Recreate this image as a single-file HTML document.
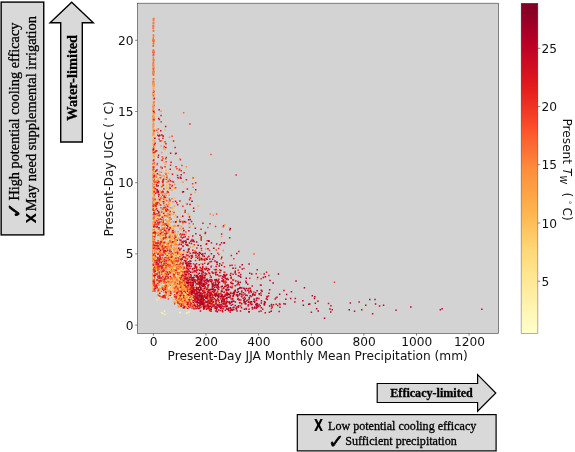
<!DOCTYPE html>
<html><head><meta charset="utf-8"><title>UGC vs precipitation</title>
<style>
html,body{margin:0;padding:0;background:#fff;}
svg{display:block}
.tk,.lb{font-family:"DejaVu Sans","Liberation Sans",sans-serif;font-size:12.2px;fill:#111}
.sr{font-family:"Liberation Serif",serif;font-size:12px;fill:#000;stroke:#000;stroke-width:0.3}
.sb{font-family:"Liberation Serif",serif;font-size:12px;font-weight:bold;fill:#000;stroke:#000;stroke-width:0.3}
.ck{font-family:"DejaVu Sans","Liberation Sans",sans-serif;font-size:19px;fill:#000;stroke:#000;stroke-width:0.7}
.xx{font-family:"DejaVu Sans","Liberation Sans",sans-serif;font-weight:bold;font-size:16px;fill:#000}
.bx{fill:#d9d9d9;stroke:#000}
</style></head><body>
<svg width="575" height="452" viewBox="0 0 575 452">
<defs><linearGradient id="cb" x1="0" y1="0" x2="0" y2="1"><stop offset="0.0000" stop-color="#800026"/><stop offset="0.0312" stop-color="#8d0026"/><stop offset="0.0625" stop-color="#9d0026"/><stop offset="0.0938" stop-color="#ac0026"/><stop offset="0.1250" stop-color="#bb0026"/><stop offset="0.1562" stop-color="#c50624"/><stop offset="0.1875" stop-color="#cf0c21"/><stop offset="0.2188" stop-color="#d9131f"/><stop offset="0.2500" stop-color="#e31a1c"/><stop offset="0.2812" stop-color="#e9261f"/><stop offset="0.3125" stop-color="#ef3323"/><stop offset="0.3438" stop-color="#f54026"/><stop offset="0.3750" stop-color="#fc4d2a"/><stop offset="0.4062" stop-color="#fc5f2f"/><stop offset="0.4375" stop-color="#fc6c33"/><stop offset="0.4688" stop-color="#fd7c37"/><stop offset="0.5000" stop-color="#fd8c3c"/><stop offset="0.5312" stop-color="#fd9640"/><stop offset="0.5625" stop-color="#fd9f44"/><stop offset="0.5938" stop-color="#fea948"/><stop offset="0.6250" stop-color="#feb24c"/><stop offset="0.6562" stop-color="#febb56"/><stop offset="0.6875" stop-color="#fec561"/><stop offset="0.7188" stop-color="#fecf6b"/><stop offset="0.7500" stop-color="#fed977"/><stop offset="0.7812" stop-color="#fede80"/><stop offset="0.8125" stop-color="#ffe48c"/><stop offset="0.8438" stop-color="#ffe895"/><stop offset="0.8750" stop-color="#ffeda1"/><stop offset="0.9062" stop-color="#fff1ab"/><stop offset="0.9375" stop-color="#fff7b7"/><stop offset="0.9688" stop-color="#fffac1"/><stop offset="1.0000" stop-color="#ffffcc"/></linearGradient></defs>
<rect x="0" y="0" width="575" height="452" fill="#ffffff"/>
<!-- axes -->
<rect x="137.5" y="3.2" width="361.0" height="330.1" fill="#d3d3d3"/>
<g>
<path fill="#db141e" d="M199.3 306.9h1.5v1.5h-1.5zM166.9 224.4h1.5v1.5h-1.5zM184.3 266.9h1.5v1.5h-1.5zM186.0 264.4h1.5v1.5h-1.5zM153.4 205.6h1.5v1.5h-1.5zM162.2 181.8h1.5v1.5h-1.5zM220.0 275.1h1.5v1.5h-1.5zM205.0 283.7h1.5v1.5h-1.5zM174.0 261.8h1.5v1.5h-1.5zM200.7 269.8h1.5v1.5h-1.5zM203.3 259.1h1.5v1.5h-1.5zM169.6 180.1h1.5v1.5h-1.5zM217.8 300.2h1.5v1.5h-1.5zM220.9 233.3h1.5v1.5h-1.5zM182.2 274.9h1.5v1.5h-1.5zM218.3 295.0h1.5v1.5h-1.5zM240.0 273.8h1.5v1.5h-1.5zM186.3 271.5h1.5v1.5h-1.5zM236.3 283.9h1.5v1.5h-1.5zM212.7 300.9h1.5v1.5h-1.5zM211.9 294.1h1.5v1.5h-1.5zM225.1 285.4h1.5v1.5h-1.5zM206.9 292.7h1.5v1.5h-1.5zM153.4 226.4h1.5v1.5h-1.5zM190.4 302.0h1.5v1.5h-1.5zM180.3 270.5h1.5v1.5h-1.5zM201.9 299.6h1.5v1.5h-1.5zM189.0 288.5h1.5v1.5h-1.5zM199.0 302.2h1.5v1.5h-1.5zM195.3 284.8h1.5v1.5h-1.5zM223.0 287.4h1.5v1.5h-1.5zM215.0 292.7h1.5v1.5h-1.5zM199.0 301.4h1.5v1.5h-1.5zM189.4 252.5h1.5v1.5h-1.5zM187.8 306.3h1.5v1.5h-1.5zM226.1 291.9h1.5v1.5h-1.5zM224.3 279.9h1.5v1.5h-1.5zM218.7 305.8h1.5v1.5h-1.5zM200.7 247.7h1.5v1.5h-1.5zM210.6 293.1h1.5v1.5h-1.5zM195.4 252.3h1.5v1.5h-1.5zM219.6 309.8h1.5v1.5h-1.5zM271.0 305.2h1.5v1.5h-1.5zM210.3 304.0h1.5v1.5h-1.5zM199.0 295.8h1.5v1.5h-1.5zM206.0 282.4h1.5v1.5h-1.5zM163.6 195.3h1.5v1.5h-1.5zM225.3 278.0h1.5v1.5h-1.5zM193.5 295.9h1.5v1.5h-1.5zM191.1 290.4h1.5v1.5h-1.5zM159.4 140.3h1.5v1.5h-1.5zM152.8 221.7h1.5v1.5h-1.5zM248.1 298.9h1.5v1.5h-1.5zM184.1 220.9h1.5v1.5h-1.5zM267.8 295.3h1.5v1.5h-1.5zM152.6 197.0h1.5v1.5h-1.5zM184.1 281.6h1.5v1.5h-1.5zM191.7 287.6h1.5v1.5h-1.5zM213.3 294.5h1.5v1.5h-1.5zM222.4 279.6h1.5v1.5h-1.5zM258.0 305.8h1.5v1.5h-1.5zM193.9 270.2h1.5v1.5h-1.5zM255.7 297.7h1.5v1.5h-1.5zM224.5 275.9h1.5v1.5h-1.5zM152.8 126.7h1.5v1.5h-1.5zM189.3 262.8h1.5v1.5h-1.5zM211.2 301.8h1.5v1.5h-1.5zM227.2 284.3h1.5v1.5h-1.5zM222.0 311.1h1.5v1.5h-1.5z"/>
<path fill="#fd9941" d="M153.1 176.8h1.5v1.5h-1.5zM163.1 172.5h1.5v1.5h-1.5zM191.7 301.5h1.5v1.5h-1.5zM152.8 127.2h1.5v1.5h-1.5zM159.7 235.9h1.5v1.5h-1.5zM208.2 302.1h1.5v1.5h-1.5zM152.6 81.6h1.5v1.5h-1.5zM182.6 231.0h1.5v1.5h-1.5zM152.6 139.8h1.5v1.5h-1.5zM152.8 118.7h1.5v1.5h-1.5zM188.7 215.6h1.5v1.5h-1.5zM152.5 119.8h1.5v1.5h-1.5zM182.4 181.5h1.5v1.5h-1.5zM153.1 181.4h1.5v1.5h-1.5zM214.3 260.9h1.5v1.5h-1.5zM185.1 285.6h1.5v1.5h-1.5zM152.9 251.6h1.5v1.5h-1.5zM152.6 287.7h1.5v1.5h-1.5zM153.6 276.0h1.5v1.5h-1.5zM159.5 199.3h1.5v1.5h-1.5zM153.5 267.3h1.5v1.5h-1.5zM152.7 170.7h1.5v1.5h-1.5zM161.3 281.0h1.5v1.5h-1.5zM159.0 229.9h1.5v1.5h-1.5zM163.5 229.7h1.5v1.5h-1.5zM152.5 109.5h1.5v1.5h-1.5zM184.9 269.3h1.5v1.5h-1.5zM205.0 248.3h1.5v1.5h-1.5zM181.4 264.9h1.5v1.5h-1.5zM171.1 231.9h1.5v1.5h-1.5zM168.6 186.3h1.5v1.5h-1.5zM153.3 169.5h1.5v1.5h-1.5zM161.5 245.7h1.5v1.5h-1.5zM164.0 249.1h1.5v1.5h-1.5z"/>
<path fill="#ca0923" d="M175.6 287.6h1.5v1.5h-1.5zM239.5 281.6h1.5v1.5h-1.5zM255.9 302.7h1.5v1.5h-1.5zM209.6 302.0h1.5v1.5h-1.5zM223.1 302.9h1.5v1.5h-1.5zM193.4 298.1h1.5v1.5h-1.5zM206.9 270.1h1.5v1.5h-1.5zM206.7 305.5h1.5v1.5h-1.5zM202.6 277.3h1.5v1.5h-1.5zM184.0 278.8h1.5v1.5h-1.5zM192.3 177.2h1.5v1.5h-1.5zM194.8 304.4h1.5v1.5h-1.5zM210.8 301.6h1.5v1.5h-1.5zM193.3 292.4h1.5v1.5h-1.5zM260.6 289.6h1.5v1.5h-1.5zM248.3 263.2h1.5v1.5h-1.5zM178.7 303.7h1.5v1.5h-1.5zM209.2 305.6h1.5v1.5h-1.5zM374.3 298.8h1.5v1.5h-1.5zM152.8 252.1h1.5v1.5h-1.5zM212.7 282.3h1.5v1.5h-1.5zM198.6 302.2h1.5v1.5h-1.5zM203.3 279.5h1.5v1.5h-1.5zM152.7 115.9h1.5v1.5h-1.5zM240.9 302.9h1.5v1.5h-1.5zM189.3 203.8h1.5v1.5h-1.5zM225.8 290.1h1.5v1.5h-1.5zM213.6 297.9h1.5v1.5h-1.5zM361.0 308.9h1.5v1.5h-1.5zM209.9 302.4h1.5v1.5h-1.5zM255.7 305.1h1.5v1.5h-1.5zM268.2 292.5h1.5v1.5h-1.5zM187.8 268.8h1.5v1.5h-1.5zM222.4 307.9h1.5v1.5h-1.5zM204.1 259.6h1.5v1.5h-1.5zM210.1 276.5h1.5v1.5h-1.5zM179.4 281.2h1.5v1.5h-1.5zM222.7 279.0h1.5v1.5h-1.5zM193.4 286.7h1.5v1.5h-1.5zM266.5 295.9h1.5v1.5h-1.5zM240.6 287.2h1.5v1.5h-1.5zM152.8 250.9h1.5v1.5h-1.5zM183.0 304.8h1.5v1.5h-1.5zM182.6 287.9h1.5v1.5h-1.5zM247.5 287.9h1.5v1.5h-1.5zM224.8 280.7h1.5v1.5h-1.5zM220.9 295.0h1.5v1.5h-1.5zM185.9 268.7h1.5v1.5h-1.5zM183.5 304.3h1.5v1.5h-1.5zM216.4 291.9h1.5v1.5h-1.5zM250.6 291.2h1.5v1.5h-1.5zM153.0 251.0h1.5v1.5h-1.5zM207.8 262.5h1.5v1.5h-1.5zM234.5 285.1h1.5v1.5h-1.5zM229.6 306.9h1.5v1.5h-1.5zM160.6 271.3h1.5v1.5h-1.5zM214.2 306.3h1.5v1.5h-1.5zM229.4 311.2h1.5v1.5h-1.5zM194.5 281.0h1.5v1.5h-1.5zM203.9 295.5h1.5v1.5h-1.5zM186.1 305.8h1.5v1.5h-1.5zM199.7 298.1h1.5v1.5h-1.5zM251.2 303.4h1.5v1.5h-1.5zM202.7 305.5h1.5v1.5h-1.5zM186.0 244.2h1.5v1.5h-1.5zM179.9 300.6h1.5v1.5h-1.5zM199.1 278.7h1.5v1.5h-1.5zM168.9 199.2h1.5v1.5h-1.5zM201.5 275.2h1.5v1.5h-1.5zM196.4 287.9h1.5v1.5h-1.5zM192.0 296.4h1.5v1.5h-1.5zM358.4 301.2h1.5v1.5h-1.5zM178.3 297.0h1.5v1.5h-1.5zM178.7 290.7h1.5v1.5h-1.5z"/>
<path fill="#fd8f3d" d="M152.6 120.6h1.5v1.5h-1.5zM187.9 261.1h1.5v1.5h-1.5zM152.6 118.9h1.5v1.5h-1.5zM190.1 197.2h1.5v1.5h-1.5zM152.7 121.2h1.5v1.5h-1.5zM156.8 269.2h1.5v1.5h-1.5zM153.0 221.4h1.5v1.5h-1.5zM152.6 243.0h1.5v1.5h-1.5zM199.1 301.8h1.5v1.5h-1.5zM153.0 266.0h1.5v1.5h-1.5zM153.6 203.4h1.5v1.5h-1.5zM152.8 274.0h1.5v1.5h-1.5zM181.2 268.5h1.5v1.5h-1.5zM153.6 190.1h1.5v1.5h-1.5zM217.3 269.8h1.5v1.5h-1.5zM153.3 222.7h1.5v1.5h-1.5zM153.6 100.7h1.5v1.5h-1.5zM163.3 286.3h1.5v1.5h-1.5zM152.8 93.8h1.5v1.5h-1.5zM152.7 249.2h1.5v1.5h-1.5zM179.1 227.7h1.5v1.5h-1.5zM212.4 292.1h1.5v1.5h-1.5zM173.7 286.5h1.5v1.5h-1.5zM152.6 40.0h1.5v1.5h-1.5zM183.8 289.6h1.5v1.5h-1.5zM200.5 284.2h1.5v1.5h-1.5zM170.5 292.6h1.5v1.5h-1.5zM152.9 53.2h1.5v1.5h-1.5zM174.1 259.8h1.5v1.5h-1.5zM169.8 271.1h1.5v1.5h-1.5zM152.6 58.1h1.5v1.5h-1.5zM175.0 268.7h1.5v1.5h-1.5z"/>
<path fill="#e1191d" d="M238.1 250.8h1.5v1.5h-1.5zM153.0 213.7h1.5v1.5h-1.5zM232.2 295.4h1.5v1.5h-1.5zM167.0 281.2h1.5v1.5h-1.5zM184.3 211.4h1.5v1.5h-1.5zM153.1 249.2h1.5v1.5h-1.5zM180.5 170.1h1.5v1.5h-1.5zM152.9 244.8h1.5v1.5h-1.5zM172.0 269.5h1.5v1.5h-1.5zM176.6 259.5h1.5v1.5h-1.5zM222.8 225.1h1.5v1.5h-1.5zM183.2 274.7h1.5v1.5h-1.5zM186.6 188.3h1.5v1.5h-1.5zM275.2 297.2h1.5v1.5h-1.5zM176.6 269.9h1.5v1.5h-1.5zM248.6 297.8h1.5v1.5h-1.5zM152.6 159.9h1.5v1.5h-1.5zM270.8 307.7h1.5v1.5h-1.5zM222.6 280.8h1.5v1.5h-1.5zM208.1 240.0h1.5v1.5h-1.5zM184.5 236.1h1.5v1.5h-1.5zM223.2 242.2h1.5v1.5h-1.5zM153.6 140.2h1.5v1.5h-1.5zM153.0 263.7h1.5v1.5h-1.5zM194.0 296.2h1.5v1.5h-1.5zM181.1 234.2h1.5v1.5h-1.5zM245.6 308.4h1.5v1.5h-1.5zM182.2 263.6h1.5v1.5h-1.5zM190.5 278.9h1.5v1.5h-1.5zM169.0 239.9h1.5v1.5h-1.5zM201.9 295.0h1.5v1.5h-1.5zM271.5 306.2h1.5v1.5h-1.5zM198.4 286.6h1.5v1.5h-1.5zM215.6 286.4h1.5v1.5h-1.5zM153.3 271.9h1.5v1.5h-1.5zM264.5 301.7h1.5v1.5h-1.5zM237.9 305.0h1.5v1.5h-1.5zM152.7 260.0h1.5v1.5h-1.5zM197.3 299.9h1.5v1.5h-1.5zM152.9 277.5h1.5v1.5h-1.5zM184.5 274.0h1.5v1.5h-1.5zM199.0 303.1h1.5v1.5h-1.5zM160.3 114.8h1.5v1.5h-1.5zM184.5 209.7h1.5v1.5h-1.5zM186.1 267.4h1.5v1.5h-1.5zM162.2 137.5h1.5v1.5h-1.5zM160.4 229.3h1.5v1.5h-1.5zM198.7 293.6h1.5v1.5h-1.5zM181.9 301.3h1.5v1.5h-1.5zM238.5 284.1h1.5v1.5h-1.5zM168.8 246.2h1.5v1.5h-1.5zM160.7 252.6h1.5v1.5h-1.5zM184.6 293.7h1.5v1.5h-1.5z"/>
<path fill="#a80026" d="M233.1 306.5h1.5v1.5h-1.5zM257.1 305.0h1.5v1.5h-1.5zM229.8 307.5h1.5v1.5h-1.5zM200.6 305.9h1.5v1.5h-1.5zM186.6 305.8h1.5v1.5h-1.5zM190.1 263.1h1.5v1.5h-1.5zM216.6 284.2h1.5v1.5h-1.5zM190.6 293.7h1.5v1.5h-1.5zM203.5 255.6h1.5v1.5h-1.5zM239.2 275.4h1.5v1.5h-1.5zM264.0 301.8h1.5v1.5h-1.5zM218.5 265.2h1.5v1.5h-1.5zM205.2 296.6h1.5v1.5h-1.5zM192.5 291.3h1.5v1.5h-1.5zM251.0 273.3h1.5v1.5h-1.5zM218.7 281.5h1.5v1.5h-1.5zM253.9 300.5h1.5v1.5h-1.5zM202.2 285.0h1.5v1.5h-1.5zM216.6 311.1h1.5v1.5h-1.5zM187.6 294.1h1.5v1.5h-1.5zM202.2 270.6h1.5v1.5h-1.5zM224.8 303.4h1.5v1.5h-1.5zM203.6 287.7h1.5v1.5h-1.5zM213.1 247.4h1.5v1.5h-1.5zM211.4 296.7h1.5v1.5h-1.5zM195.7 296.8h1.5v1.5h-1.5zM166.5 254.6h1.5v1.5h-1.5zM185.4 296.2h1.5v1.5h-1.5zM183.3 220.8h1.5v1.5h-1.5z"/>
<path fill="#e9261f" d="M196.0 275.0h1.5v1.5h-1.5zM237.4 269.4h1.5v1.5h-1.5zM162.7 268.5h1.5v1.5h-1.5zM206.8 304.6h1.5v1.5h-1.5zM214.8 225.8h1.5v1.5h-1.5zM179.9 287.9h1.5v1.5h-1.5zM172.7 181.2h1.5v1.5h-1.5zM153.2 259.0h1.5v1.5h-1.5zM173.2 211.7h1.5v1.5h-1.5zM214.2 292.7h1.5v1.5h-1.5zM253.2 291.2h1.5v1.5h-1.5zM243.2 267.7h1.5v1.5h-1.5zM179.4 277.7h1.5v1.5h-1.5zM194.3 297.6h1.5v1.5h-1.5zM211.7 300.6h1.5v1.5h-1.5zM152.9 178.5h1.5v1.5h-1.5zM153.7 262.1h1.5v1.5h-1.5zM182.0 222.1h1.5v1.5h-1.5zM191.9 271.6h1.5v1.5h-1.5zM209.3 222.9h1.5v1.5h-1.5zM200.3 228.4h1.5v1.5h-1.5zM174.6 264.1h1.5v1.5h-1.5zM175.3 268.0h1.5v1.5h-1.5zM191.5 304.9h1.5v1.5h-1.5zM153.1 284.7h1.5v1.5h-1.5zM188.1 294.8h1.5v1.5h-1.5zM153.6 162.2h1.5v1.5h-1.5zM211.0 280.9h1.5v1.5h-1.5zM216.0 299.8h1.5v1.5h-1.5zM258.8 293.7h1.5v1.5h-1.5zM181.3 292.1h1.5v1.5h-1.5zM182.6 267.7h1.5v1.5h-1.5zM214.9 282.9h1.5v1.5h-1.5zM153.6 211.3h1.5v1.5h-1.5zM177.8 273.3h1.5v1.5h-1.5z"/>
<path fill="#fea948" d="M152.7 215.1h1.5v1.5h-1.5zM153.2 274.8h1.5v1.5h-1.5zM152.7 178.6h1.5v1.5h-1.5zM182.0 227.2h1.5v1.5h-1.5zM156.3 169.0h1.5v1.5h-1.5zM259.9 273.0h1.5v1.5h-1.5zM153.0 275.6h1.5v1.5h-1.5zM162.8 221.9h1.5v1.5h-1.5zM165.6 268.4h1.5v1.5h-1.5zM152.6 187.7h1.5v1.5h-1.5zM152.6 260.6h1.5v1.5h-1.5zM208.6 279.8h1.5v1.5h-1.5zM152.5 82.6h1.5v1.5h-1.5zM192.1 245.9h1.5v1.5h-1.5zM153.6 245.0h1.5v1.5h-1.5zM152.8 214.1h1.5v1.5h-1.5zM152.8 119.4h1.5v1.5h-1.5zM152.7 93.4h1.5v1.5h-1.5zM152.5 283.3h1.5v1.5h-1.5zM195.8 285.0h1.5v1.5h-1.5zM152.7 189.7h1.5v1.5h-1.5zM152.6 290.6h1.5v1.5h-1.5zM152.8 229.2h1.5v1.5h-1.5zM157.6 234.0h1.5v1.5h-1.5zM161.7 258.3h1.5v1.5h-1.5zM158.7 201.2h1.5v1.5h-1.5zM170.8 280.1h1.5v1.5h-1.5zM152.9 85.9h1.5v1.5h-1.5zM152.7 267.8h1.5v1.5h-1.5z"/>
<path fill="#d00d21" d="M197.1 252.9h1.5v1.5h-1.5zM188.1 230.1h1.5v1.5h-1.5zM199.6 275.3h1.5v1.5h-1.5zM186.5 285.5h1.5v1.5h-1.5zM183.0 236.5h1.5v1.5h-1.5zM268.7 311.4h1.5v1.5h-1.5zM152.7 256.1h1.5v1.5h-1.5zM158.2 271.0h1.5v1.5h-1.5zM221.4 277.6h1.5v1.5h-1.5zM192.8 291.6h1.5v1.5h-1.5zM190.1 260.5h1.5v1.5h-1.5zM178.6 263.3h1.5v1.5h-1.5zM186.7 289.5h1.5v1.5h-1.5zM215.8 310.2h1.5v1.5h-1.5zM192.5 278.5h1.5v1.5h-1.5zM259.5 305.0h1.5v1.5h-1.5zM192.9 297.1h1.5v1.5h-1.5zM254.0 306.3h1.5v1.5h-1.5zM199.0 302.4h1.5v1.5h-1.5zM178.8 282.9h1.5v1.5h-1.5zM194.9 300.0h1.5v1.5h-1.5zM158.8 135.0h1.5v1.5h-1.5zM190.0 279.3h1.5v1.5h-1.5zM218.4 306.2h1.5v1.5h-1.5zM207.5 267.9h1.5v1.5h-1.5zM170.3 270.4h1.5v1.5h-1.5zM284.6 303.3h1.5v1.5h-1.5zM190.8 285.5h1.5v1.5h-1.5zM228.9 303.0h1.5v1.5h-1.5zM179.9 287.0h1.5v1.5h-1.5zM250.7 295.8h1.5v1.5h-1.5zM187.0 305.8h1.5v1.5h-1.5zM224.8 293.4h1.5v1.5h-1.5zM221.4 305.8h1.5v1.5h-1.5zM218.0 296.2h1.5v1.5h-1.5zM189.7 295.1h1.5v1.5h-1.5zM187.7 275.1h1.5v1.5h-1.5zM241.5 268.3h1.5v1.5h-1.5zM197.4 307.3h1.5v1.5h-1.5zM238.9 299.0h1.5v1.5h-1.5zM213.3 255.0h1.5v1.5h-1.5zM189.8 284.5h1.5v1.5h-1.5zM198.5 264.0h1.5v1.5h-1.5zM207.2 284.8h1.5v1.5h-1.5zM269.3 279.8h1.5v1.5h-1.5zM237.0 298.6h1.5v1.5h-1.5zM187.5 298.6h1.5v1.5h-1.5zM243.3 301.7h1.5v1.5h-1.5zM171.9 266.8h1.5v1.5h-1.5zM278.4 310.7h1.5v1.5h-1.5zM192.5 283.2h1.5v1.5h-1.5zM250.0 301.3h1.5v1.5h-1.5zM177.5 265.3h1.5v1.5h-1.5zM196.6 303.8h1.5v1.5h-1.5zM211.3 298.6h1.5v1.5h-1.5zM263.7 304.3h1.5v1.5h-1.5zM164.9 125.7h1.5v1.5h-1.5zM202.4 300.9h1.5v1.5h-1.5zM208.2 268.7h1.5v1.5h-1.5zM211.9 258.6h1.5v1.5h-1.5zM185.4 293.2h1.5v1.5h-1.5zM233.2 300.5h1.5v1.5h-1.5zM211.3 271.2h1.5v1.5h-1.5zM187.9 285.9h1.5v1.5h-1.5zM206.3 301.5h1.5v1.5h-1.5zM179.7 274.7h1.5v1.5h-1.5zM330.2 304.9h1.5v1.5h-1.5zM260.1 292.2h1.5v1.5h-1.5zM243.9 296.6h1.5v1.5h-1.5zM179.8 282.8h1.5v1.5h-1.5zM191.0 255.4h1.5v1.5h-1.5zM195.6 288.7h1.5v1.5h-1.5zM207.2 288.7h1.5v1.5h-1.5zM203.8 306.4h1.5v1.5h-1.5zM200.5 278.4h1.5v1.5h-1.5zM252.0 294.5h1.5v1.5h-1.5zM194.6 289.3h1.5v1.5h-1.5z"/>
<path fill="#fd7636" d="M152.8 228.1h1.5v1.5h-1.5zM152.9 282.5h1.5v1.5h-1.5zM152.8 263.3h1.5v1.5h-1.5zM152.8 40.3h1.5v1.5h-1.5zM152.6 64.7h1.5v1.5h-1.5zM153.7 269.5h1.5v1.5h-1.5zM152.6 83.4h1.5v1.5h-1.5zM174.2 257.9h1.5v1.5h-1.5zM170.2 249.7h1.5v1.5h-1.5zM152.6 22.4h1.5v1.5h-1.5zM179.3 268.9h1.5v1.5h-1.5zM216.3 286.4h1.5v1.5h-1.5zM152.8 70.1h1.5v1.5h-1.5zM152.6 26.3h1.5v1.5h-1.5zM201.6 266.7h1.5v1.5h-1.5zM152.7 43.2h1.5v1.5h-1.5zM155.8 220.6h1.5v1.5h-1.5zM156.0 243.0h1.5v1.5h-1.5zM153.5 266.8h1.5v1.5h-1.5zM187.1 294.7h1.5v1.5h-1.5zM179.8 274.9h1.5v1.5h-1.5z"/>
<path fill="#9f0026" d="M199.4 275.0h1.5v1.5h-1.5zM183.5 306.5h1.5v1.5h-1.5zM190.1 284.2h1.5v1.5h-1.5zM219.1 271.7h1.5v1.5h-1.5zM223.5 291.6h1.5v1.5h-1.5zM203.0 299.2h1.5v1.5h-1.5zM221.0 300.1h1.5v1.5h-1.5zM200.2 301.4h1.5v1.5h-1.5zM207.7 305.5h1.5v1.5h-1.5zM189.2 303.1h1.5v1.5h-1.5zM238.9 301.9h1.5v1.5h-1.5zM189.6 303.1h1.5v1.5h-1.5zM212.2 301.8h1.5v1.5h-1.5zM226.7 293.3h1.5v1.5h-1.5zM199.2 286.0h1.5v1.5h-1.5zM228.6 293.8h1.5v1.5h-1.5zM217.4 285.8h1.5v1.5h-1.5zM187.4 284.7h1.5v1.5h-1.5zM196.8 300.5h1.5v1.5h-1.5zM182.3 289.7h1.5v1.5h-1.5zM189.5 218.8h1.5v1.5h-1.5zM209.4 289.3h1.5v1.5h-1.5zM258.5 292.9h1.5v1.5h-1.5zM179.7 295.2h1.5v1.5h-1.5zM190.1 299.2h1.5v1.5h-1.5zM194.3 252.2h1.5v1.5h-1.5zM183.0 272.6h1.5v1.5h-1.5zM198.4 289.9h1.5v1.5h-1.5zM229.6 227.8h1.5v1.5h-1.5zM189.2 280.2h1.5v1.5h-1.5zM182.6 295.9h1.5v1.5h-1.5zM204.5 274.4h1.5v1.5h-1.5zM216.0 293.5h1.5v1.5h-1.5z"/>
<path fill="#b90026" d="M217.2 303.7h1.5v1.5h-1.5zM188.3 264.6h1.5v1.5h-1.5zM217.4 281.7h1.5v1.5h-1.5zM256.4 297.4h1.5v1.5h-1.5zM196.5 276.4h1.5v1.5h-1.5zM211.7 295.3h1.5v1.5h-1.5zM261.3 290.6h1.5v1.5h-1.5zM184.9 260.9h1.5v1.5h-1.5zM192.2 304.8h1.5v1.5h-1.5zM247.6 305.0h1.5v1.5h-1.5zM200.4 302.3h1.5v1.5h-1.5zM215.9 278.8h1.5v1.5h-1.5zM180.1 280.8h1.5v1.5h-1.5zM210.5 299.6h1.5v1.5h-1.5zM209.6 293.3h1.5v1.5h-1.5zM263.7 302.9h1.5v1.5h-1.5zM178.2 276.8h1.5v1.5h-1.5zM222.2 303.0h1.5v1.5h-1.5zM229.9 292.5h1.5v1.5h-1.5zM248.6 296.7h1.5v1.5h-1.5zM174.1 293.9h1.5v1.5h-1.5zM187.9 248.5h1.5v1.5h-1.5zM199.4 282.6h1.5v1.5h-1.5zM191.8 295.0h1.5v1.5h-1.5zM212.5 288.3h1.5v1.5h-1.5zM180.9 291.4h1.5v1.5h-1.5zM245.8 300.3h1.5v1.5h-1.5zM189.9 300.9h1.5v1.5h-1.5zM235.1 280.2h1.5v1.5h-1.5zM303.7 287.1h1.5v1.5h-1.5zM218.1 305.1h1.5v1.5h-1.5zM199.7 310.2h1.5v1.5h-1.5zM256.3 306.8h1.5v1.5h-1.5zM167.3 277.6h1.5v1.5h-1.5zM248.4 310.9h1.5v1.5h-1.5zM247.2 289.7h1.5v1.5h-1.5zM209.8 294.1h1.5v1.5h-1.5zM185.3 241.8h1.5v1.5h-1.5zM179.0 281.1h1.5v1.5h-1.5zM186.7 302.8h1.5v1.5h-1.5zM182.6 299.5h1.5v1.5h-1.5zM214.3 279.3h1.5v1.5h-1.5zM207.8 289.8h1.5v1.5h-1.5zM183.1 229.7h1.5v1.5h-1.5zM207.5 284.5h1.5v1.5h-1.5zM189.1 281.5h1.5v1.5h-1.5zM245.5 277.5h1.5v1.5h-1.5zM178.2 263.3h1.5v1.5h-1.5zM182.3 262.2h1.5v1.5h-1.5z"/>
<path fill="#ec2c21" d="M152.6 204.9h1.5v1.5h-1.5zM187.3 273.3h1.5v1.5h-1.5zM153.4 268.7h1.5v1.5h-1.5zM182.6 261.1h1.5v1.5h-1.5zM152.8 256.4h1.5v1.5h-1.5zM187.5 244.8h1.5v1.5h-1.5zM222.2 262.1h1.5v1.5h-1.5zM159.0 255.6h1.5v1.5h-1.5zM176.5 261.7h1.5v1.5h-1.5zM223.4 271.5h1.5v1.5h-1.5zM162.0 241.0h1.5v1.5h-1.5zM217.9 247.7h1.5v1.5h-1.5zM152.9 232.6h1.5v1.5h-1.5zM199.4 294.2h1.5v1.5h-1.5zM188.3 290.6h1.5v1.5h-1.5zM169.9 277.2h1.5v1.5h-1.5zM153.0 262.0h1.5v1.5h-1.5zM219.3 293.7h1.5v1.5h-1.5zM175.3 166.0h1.5v1.5h-1.5zM230.7 282.7h1.5v1.5h-1.5zM153.0 268.8h1.5v1.5h-1.5zM188.8 198.9h1.5v1.5h-1.5zM211.7 286.1h1.5v1.5h-1.5zM194.8 259.8h1.5v1.5h-1.5zM206.7 267.7h1.5v1.5h-1.5zM162.1 184.2h1.5v1.5h-1.5zM160.4 121.0h1.5v1.5h-1.5zM191.0 304.6h1.5v1.5h-1.5zM187.4 266.1h1.5v1.5h-1.5z"/>
<path fill="#d6111f" d="M198.7 257.1h1.5v1.5h-1.5zM207.9 280.9h1.5v1.5h-1.5zM203.2 304.4h1.5v1.5h-1.5zM208.7 291.8h1.5v1.5h-1.5zM153.3 254.1h1.5v1.5h-1.5zM210.5 278.9h1.5v1.5h-1.5zM153.7 241.5h1.5v1.5h-1.5zM226.5 277.7h1.5v1.5h-1.5zM157.9 135.2h1.5v1.5h-1.5zM206.4 304.9h1.5v1.5h-1.5zM214.9 273.2h1.5v1.5h-1.5zM203.9 305.7h1.5v1.5h-1.5zM277.0 304.7h1.5v1.5h-1.5zM207.8 280.1h1.5v1.5h-1.5zM217.3 299.0h1.5v1.5h-1.5zM163.1 188.3h1.5v1.5h-1.5zM153.3 145.8h1.5v1.5h-1.5zM209.4 294.8h1.5v1.5h-1.5zM228.7 301.5h1.5v1.5h-1.5zM153.0 230.1h1.5v1.5h-1.5zM174.8 200.6h1.5v1.5h-1.5zM189.4 286.5h1.5v1.5h-1.5zM227.9 310.1h1.5v1.5h-1.5zM255.7 303.4h1.5v1.5h-1.5zM181.2 300.8h1.5v1.5h-1.5zM226.6 293.0h1.5v1.5h-1.5zM182.8 295.3h1.5v1.5h-1.5zM153.1 284.4h1.5v1.5h-1.5zM226.6 293.9h1.5v1.5h-1.5zM227.6 293.1h1.5v1.5h-1.5zM180.5 174.1h1.5v1.5h-1.5zM152.6 202.8h1.5v1.5h-1.5zM218.6 301.9h1.5v1.5h-1.5zM184.0 283.6h1.5v1.5h-1.5zM169.5 168.6h1.5v1.5h-1.5zM230.1 272.7h1.5v1.5h-1.5zM192.9 207.6h1.5v1.5h-1.5zM187.7 260.9h1.5v1.5h-1.5zM181.0 280.4h1.5v1.5h-1.5zM193.3 297.1h1.5v1.5h-1.5zM327.8 302.8h1.5v1.5h-1.5zM229.3 296.1h1.5v1.5h-1.5zM222.7 300.8h1.5v1.5h-1.5zM152.7 265.1h1.5v1.5h-1.5zM205.9 273.2h1.5v1.5h-1.5zM163.6 196.3h1.5v1.5h-1.5zM210.3 301.4h1.5v1.5h-1.5zM152.7 54.2h1.5v1.5h-1.5zM183.6 283.8h1.5v1.5h-1.5zM216.4 261.6h1.5v1.5h-1.5zM198.3 276.1h1.5v1.5h-1.5zM236.3 294.5h1.5v1.5h-1.5zM191.8 268.7h1.5v1.5h-1.5zM220.8 304.0h1.5v1.5h-1.5zM204.3 252.8h1.5v1.5h-1.5zM230.4 309.5h1.5v1.5h-1.5zM211.7 286.9h1.5v1.5h-1.5zM159.7 242.0h1.5v1.5h-1.5zM213.6 305.0h1.5v1.5h-1.5zM195.1 233.0h1.5v1.5h-1.5zM178.3 303.2h1.5v1.5h-1.5zM245.1 280.5h1.5v1.5h-1.5zM196.4 274.8h1.5v1.5h-1.5zM201.9 305.5h1.5v1.5h-1.5zM177.7 257.0h1.5v1.5h-1.5zM208.1 300.8h1.5v1.5h-1.5zM175.8 298.4h1.5v1.5h-1.5zM153.0 185.0h1.5v1.5h-1.5zM191.0 291.8h1.5v1.5h-1.5zM223.5 302.5h1.5v1.5h-1.5zM185.7 285.3h1.5v1.5h-1.5zM249.6 303.1h1.5v1.5h-1.5zM188.4 255.9h1.5v1.5h-1.5zM248.3 308.5h1.5v1.5h-1.5zM190.7 242.8h1.5v1.5h-1.5zM203.9 276.5h1.5v1.5h-1.5zM237.8 305.3h1.5v1.5h-1.5z"/>
<path fill="#fecf6b" d="M152.8 239.0h1.5v1.5h-1.5zM152.5 229.7h1.5v1.5h-1.5zM158.9 289.4h1.5v1.5h-1.5zM152.9 146.7h1.5v1.5h-1.5zM152.8 149.7h1.5v1.5h-1.5zM152.7 279.5h1.5v1.5h-1.5zM177.1 262.7h1.5v1.5h-1.5zM171.0 252.0h1.5v1.5h-1.5z"/>
<path fill="#c00225" d="M221.5 310.0h1.5v1.5h-1.5zM263.6 303.4h1.5v1.5h-1.5zM239.2 266.3h1.5v1.5h-1.5zM222.7 300.9h1.5v1.5h-1.5zM197.9 280.7h1.5v1.5h-1.5zM262.6 276.7h1.5v1.5h-1.5zM228.6 301.4h1.5v1.5h-1.5zM177.5 291.8h1.5v1.5h-1.5zM187.9 293.8h1.5v1.5h-1.5zM184.6 286.4h1.5v1.5h-1.5zM203.9 296.0h1.5v1.5h-1.5zM223.9 301.0h1.5v1.5h-1.5zM200.1 287.1h1.5v1.5h-1.5zM200.4 278.3h1.5v1.5h-1.5zM183.4 268.3h1.5v1.5h-1.5zM191.8 284.5h1.5v1.5h-1.5zM189.1 291.6h1.5v1.5h-1.5zM178.0 247.5h1.5v1.5h-1.5zM215.0 305.7h1.5v1.5h-1.5zM192.2 306.7h1.5v1.5h-1.5zM214.7 271.7h1.5v1.5h-1.5zM178.9 301.8h1.5v1.5h-1.5zM206.3 307.4h1.5v1.5h-1.5zM198.8 269.5h1.5v1.5h-1.5zM212.0 272.2h1.5v1.5h-1.5zM249.8 289.6h1.5v1.5h-1.5zM199.2 280.5h1.5v1.5h-1.5zM204.3 289.7h1.5v1.5h-1.5zM285.9 293.7h1.5v1.5h-1.5zM186.0 301.7h1.5v1.5h-1.5zM231.0 301.5h1.5v1.5h-1.5zM201.0 253.6h1.5v1.5h-1.5zM183.2 304.6h1.5v1.5h-1.5zM235.6 294.2h1.5v1.5h-1.5zM192.1 286.1h1.5v1.5h-1.5zM240.9 293.8h1.5v1.5h-1.5zM226.7 287.1h1.5v1.5h-1.5zM184.3 287.1h1.5v1.5h-1.5zM215.7 279.7h1.5v1.5h-1.5zM200.2 296.3h1.5v1.5h-1.5zM188.4 301.3h1.5v1.5h-1.5zM174.7 281.0h1.5v1.5h-1.5zM195.2 295.2h1.5v1.5h-1.5zM184.5 293.7h1.5v1.5h-1.5zM204.6 272.6h1.5v1.5h-1.5zM183.5 286.6h1.5v1.5h-1.5zM201.2 272.4h1.5v1.5h-1.5zM191.6 255.2h1.5v1.5h-1.5zM214.1 307.7h1.5v1.5h-1.5zM194.1 279.6h1.5v1.5h-1.5zM191.4 278.9h1.5v1.5h-1.5zM198.6 251.7h1.5v1.5h-1.5zM230.7 301.1h1.5v1.5h-1.5zM330.0 311.3h1.5v1.5h-1.5zM192.7 282.5h1.5v1.5h-1.5zM207.3 300.6h1.5v1.5h-1.5zM243.1 300.0h1.5v1.5h-1.5zM210.5 276.4h1.5v1.5h-1.5zM177.1 276.1h1.5v1.5h-1.5zM197.6 287.0h1.5v1.5h-1.5zM374.8 303.3h1.5v1.5h-1.5zM194.5 293.7h1.5v1.5h-1.5zM157.0 253.6h1.5v1.5h-1.5zM205.0 305.6h1.5v1.5h-1.5zM225.9 297.6h1.5v1.5h-1.5zM217.6 304.9h1.5v1.5h-1.5zM216.8 273.9h1.5v1.5h-1.5zM192.8 276.8h1.5v1.5h-1.5zM197.0 257.4h1.5v1.5h-1.5zM254.0 293.9h1.5v1.5h-1.5zM211.9 301.0h1.5v1.5h-1.5zM223.2 305.9h1.5v1.5h-1.5z"/>
<path fill="#feae4a" d="M152.6 249.1h1.5v1.5h-1.5zM152.6 192.3h1.5v1.5h-1.5zM160.6 278.9h1.5v1.5h-1.5zM162.2 273.0h1.5v1.5h-1.5zM155.8 269.6h1.5v1.5h-1.5zM231.4 278.3h1.5v1.5h-1.5zM185.0 270.6h1.5v1.5h-1.5zM152.9 269.8h1.5v1.5h-1.5zM152.8 266.8h1.5v1.5h-1.5zM152.8 178.7h1.5v1.5h-1.5zM152.8 257.0h1.5v1.5h-1.5zM152.9 110.4h1.5v1.5h-1.5zM153.6 113.6h1.5v1.5h-1.5zM152.8 141.1h1.5v1.5h-1.5zM152.8 221.3h1.5v1.5h-1.5zM154.9 269.6h1.5v1.5h-1.5zM152.7 235.8h1.5v1.5h-1.5zM153.5 254.5h1.5v1.5h-1.5zM153.0 267.7h1.5v1.5h-1.5zM153.2 284.1h1.5v1.5h-1.5zM152.7 151.5h1.5v1.5h-1.5zM152.5 283.3h1.5v1.5h-1.5zM152.8 93.5h1.5v1.5h-1.5zM152.8 85.1h1.5v1.5h-1.5zM163.2 161.4h1.5v1.5h-1.5zM175.0 214.6h1.5v1.5h-1.5zM173.9 238.8h1.5v1.5h-1.5zM194.4 191.7h1.5v1.5h-1.5zM169.0 294.5h1.5v1.5h-1.5z"/>
<path fill="#fd883b" d="M152.6 38.9h1.5v1.5h-1.5zM152.6 185.1h1.5v1.5h-1.5zM158.5 211.6h1.5v1.5h-1.5zM153.7 233.6h1.5v1.5h-1.5zM152.9 223.2h1.5v1.5h-1.5zM152.8 51.5h1.5v1.5h-1.5zM153.5 213.2h1.5v1.5h-1.5zM162.9 147.2h1.5v1.5h-1.5zM152.7 255.4h1.5v1.5h-1.5zM158.6 204.2h1.5v1.5h-1.5zM212.6 214.4h1.5v1.5h-1.5zM163.9 223.8h1.5v1.5h-1.5zM155.0 245.9h1.5v1.5h-1.5zM153.1 261.0h1.5v1.5h-1.5zM152.8 240.2h1.5v1.5h-1.5zM153.1 259.5h1.5v1.5h-1.5zM165.9 287.3h1.5v1.5h-1.5zM176.6 294.2h1.5v1.5h-1.5z"/>
<path fill="#f74327" d="M153.5 239.9h1.5v1.5h-1.5zM158.3 226.9h1.5v1.5h-1.5zM153.4 228.0h1.5v1.5h-1.5zM181.4 220.7h1.5v1.5h-1.5zM152.7 282.6h1.5v1.5h-1.5zM171.3 135.6h1.5v1.5h-1.5zM153.6 230.1h1.5v1.5h-1.5zM185.1 231.2h1.5v1.5h-1.5zM152.6 168.9h1.5v1.5h-1.5zM205.5 266.6h1.5v1.5h-1.5zM167.7 298.3h1.5v1.5h-1.5zM207.5 296.3h1.5v1.5h-1.5z"/>
<path fill="#fc6c33" d="M152.8 123.3h1.5v1.5h-1.5zM152.7 68.8h1.5v1.5h-1.5zM152.9 19.8h1.5v1.5h-1.5zM153.5 270.8h1.5v1.5h-1.5zM152.8 42.5h1.5v1.5h-1.5zM164.5 200.7h1.5v1.5h-1.5zM156.8 217.8h1.5v1.5h-1.5zM153.2 185.0h1.5v1.5h-1.5zM152.8 67.5h1.5v1.5h-1.5zM152.6 135.0h1.5v1.5h-1.5zM159.0 258.4h1.5v1.5h-1.5zM152.8 20.1h1.5v1.5h-1.5zM153.2 262.1h1.5v1.5h-1.5zM152.7 24.6h1.5v1.5h-1.5zM178.9 279.1h1.5v1.5h-1.5z"/>
<path fill="#fff0a8" d="M160.8 311.8h1.5v1.5h-1.5z"/>
<path fill="#fea446" d="M153.7 242.5h1.5v1.5h-1.5zM153.0 285.8h1.5v1.5h-1.5zM156.8 209.6h1.5v1.5h-1.5zM152.8 163.0h1.5v1.5h-1.5zM152.9 224.4h1.5v1.5h-1.5zM153.1 252.5h1.5v1.5h-1.5zM153.2 228.1h1.5v1.5h-1.5zM154.6 287.2h1.5v1.5h-1.5zM153.5 266.8h1.5v1.5h-1.5zM153.0 202.6h1.5v1.5h-1.5zM163.6 141.4h1.5v1.5h-1.5zM152.7 218.1h1.5v1.5h-1.5zM152.7 230.2h1.5v1.5h-1.5zM153.0 275.7h1.5v1.5h-1.5zM152.6 176.2h1.5v1.5h-1.5zM207.4 309.7h1.5v1.5h-1.5zM152.9 117.9h1.5v1.5h-1.5zM152.9 285.3h1.5v1.5h-1.5zM153.5 201.1h1.5v1.5h-1.5zM152.8 260.7h1.5v1.5h-1.5zM161.2 264.6h1.5v1.5h-1.5zM153.1 263.8h1.5v1.5h-1.5zM152.9 284.3h1.5v1.5h-1.5zM167.6 274.4h1.5v1.5h-1.5zM164.8 257.8h1.5v1.5h-1.5zM152.7 275.0h1.5v1.5h-1.5zM153.2 256.0h1.5v1.5h-1.5zM168.7 259.1h1.5v1.5h-1.5zM171.9 268.8h1.5v1.5h-1.5z"/>
<path fill="#c50624" d="M180.4 294.1h1.5v1.5h-1.5zM153.5 212.3h1.5v1.5h-1.5zM192.0 282.7h1.5v1.5h-1.5zM251.5 306.7h1.5v1.5h-1.5zM201.9 293.1h1.5v1.5h-1.5zM169.9 279.5h1.5v1.5h-1.5zM196.5 292.9h1.5v1.5h-1.5zM193.6 269.9h1.5v1.5h-1.5zM177.8 177.4h1.5v1.5h-1.5zM197.3 268.8h1.5v1.5h-1.5zM186.3 270.3h1.5v1.5h-1.5zM244.4 303.0h1.5v1.5h-1.5zM233.1 308.7h1.5v1.5h-1.5zM202.4 283.7h1.5v1.5h-1.5zM311.6 295.1h1.5v1.5h-1.5zM194.8 281.5h1.5v1.5h-1.5zM194.6 293.1h1.5v1.5h-1.5zM203.2 296.4h1.5v1.5h-1.5zM439.6 309.1h1.5v1.5h-1.5zM232.1 298.2h1.5v1.5h-1.5zM253.9 301.4h1.5v1.5h-1.5zM202.3 296.8h1.5v1.5h-1.5zM192.6 239.5h1.5v1.5h-1.5zM189.8 281.7h1.5v1.5h-1.5zM195.9 241.3h1.5v1.5h-1.5zM202.7 271.9h1.5v1.5h-1.5zM152.5 253.7h1.5v1.5h-1.5zM314.6 302.5h1.5v1.5h-1.5zM175.9 289.7h1.5v1.5h-1.5zM255.0 303.8h1.5v1.5h-1.5zM205.9 242.9h1.5v1.5h-1.5zM223.7 242.1h1.5v1.5h-1.5zM216.3 295.3h1.5v1.5h-1.5zM215.9 243.3h1.5v1.5h-1.5zM201.7 279.1h1.5v1.5h-1.5zM220.0 307.5h1.5v1.5h-1.5zM219.8 297.4h1.5v1.5h-1.5zM198.7 272.4h1.5v1.5h-1.5zM218.0 309.2h1.5v1.5h-1.5zM205.2 296.0h1.5v1.5h-1.5zM191.9 299.2h1.5v1.5h-1.5zM213.8 289.2h1.5v1.5h-1.5zM191.5 289.8h1.5v1.5h-1.5zM221.2 290.8h1.5v1.5h-1.5zM208.5 289.4h1.5v1.5h-1.5zM152.7 260.5h1.5v1.5h-1.5zM183.0 282.7h1.5v1.5h-1.5zM188.8 216.2h1.5v1.5h-1.5zM295.3 280.2h1.5v1.5h-1.5zM193.5 304.4h1.5v1.5h-1.5zM177.9 298.3h1.5v1.5h-1.5zM181.5 301.8h1.5v1.5h-1.5zM162.1 277.1h1.5v1.5h-1.5zM220.0 296.9h1.5v1.5h-1.5zM182.8 256.0h1.5v1.5h-1.5zM263.7 300.9h1.5v1.5h-1.5zM369.0 298.8h1.5v1.5h-1.5zM152.9 209.6h1.5v1.5h-1.5zM207.2 305.9h1.5v1.5h-1.5zM175.8 277.7h1.5v1.5h-1.5zM202.0 297.6h1.5v1.5h-1.5z"/>
<path fill="#fd9f44" d="M155.3 259.2h1.5v1.5h-1.5zM161.9 158.7h1.5v1.5h-1.5zM152.5 280.7h1.5v1.5h-1.5zM152.7 246.0h1.5v1.5h-1.5zM153.1 158.7h1.5v1.5h-1.5zM152.6 249.0h1.5v1.5h-1.5zM153.3 282.7h1.5v1.5h-1.5zM152.7 228.2h1.5v1.5h-1.5zM153.6 156.1h1.5v1.5h-1.5zM188.9 254.6h1.5v1.5h-1.5zM152.8 226.1h1.5v1.5h-1.5zM152.8 225.8h1.5v1.5h-1.5zM152.9 101.4h1.5v1.5h-1.5zM152.7 269.2h1.5v1.5h-1.5zM152.8 256.2h1.5v1.5h-1.5zM164.1 271.4h1.5v1.5h-1.5zM153.6 90.7h1.5v1.5h-1.5zM164.7 163.5h1.5v1.5h-1.5zM157.1 234.9h1.5v1.5h-1.5zM152.8 222.1h1.5v1.5h-1.5zM189.1 299.9h1.5v1.5h-1.5zM152.8 226.6h1.5v1.5h-1.5zM162.0 240.8h1.5v1.5h-1.5zM175.1 262.7h1.5v1.5h-1.5zM166.6 276.7h1.5v1.5h-1.5zM185.3 293.7h1.5v1.5h-1.5zM178.0 224.4h1.5v1.5h-1.5z"/>
<path fill="#feb44e" d="M153.3 137.7h1.5v1.5h-1.5zM162.2 248.1h1.5v1.5h-1.5zM152.9 256.2h1.5v1.5h-1.5zM153.3 213.1h1.5v1.5h-1.5zM156.6 208.1h1.5v1.5h-1.5zM152.6 290.2h1.5v1.5h-1.5zM153.1 214.7h1.5v1.5h-1.5zM153.9 258.7h1.5v1.5h-1.5zM165.5 284.6h1.5v1.5h-1.5zM152.8 266.4h1.5v1.5h-1.5zM153.1 276.5h1.5v1.5h-1.5zM187.0 278.0h1.5v1.5h-1.5zM152.8 195.9h1.5v1.5h-1.5zM153.0 270.4h1.5v1.5h-1.5zM153.5 269.3h1.5v1.5h-1.5zM162.9 244.7h1.5v1.5h-1.5zM154.0 171.2h1.5v1.5h-1.5zM167.6 259.7h1.5v1.5h-1.5zM158.9 221.8h1.5v1.5h-1.5z"/>
<path fill="#fd953f" d="M152.6 115.4h1.5v1.5h-1.5zM200.1 263.0h1.5v1.5h-1.5zM152.9 127.6h1.5v1.5h-1.5zM161.7 200.7h1.5v1.5h-1.5zM153.5 178.2h1.5v1.5h-1.5zM162.6 182.0h1.5v1.5h-1.5zM152.7 83.7h1.5v1.5h-1.5zM163.0 259.4h1.5v1.5h-1.5zM152.8 89.4h1.5v1.5h-1.5zM153.3 261.5h1.5v1.5h-1.5zM153.4 199.0h1.5v1.5h-1.5zM152.5 109.6h1.5v1.5h-1.5zM161.6 257.5h1.5v1.5h-1.5zM153.4 278.8h1.5v1.5h-1.5zM182.8 282.1h1.5v1.5h-1.5zM163.9 268.5h1.5v1.5h-1.5zM153.6 258.2h1.5v1.5h-1.5zM165.5 259.3h1.5v1.5h-1.5zM156.8 274.7h1.5v1.5h-1.5zM177.3 264.5h1.5v1.5h-1.5zM191.5 303.0h1.5v1.5h-1.5zM152.6 238.7h1.5v1.5h-1.5zM177.7 253.9h1.5v1.5h-1.5zM152.7 95.7h1.5v1.5h-1.5zM171.4 271.8h1.5v1.5h-1.5zM175.1 282.1h1.5v1.5h-1.5z"/>
<path fill="#fc6430" d="M152.5 245.5h1.5v1.5h-1.5zM165.2 199.6h1.5v1.5h-1.5zM152.5 25.0h1.5v1.5h-1.5zM161.3 239.2h1.5v1.5h-1.5zM152.8 74.3h1.5v1.5h-1.5zM152.7 72.5h1.5v1.5h-1.5zM152.6 25.8h1.5v1.5h-1.5zM153.3 222.2h1.5v1.5h-1.5zM152.7 29.9h1.5v1.5h-1.5zM153.7 264.4h1.5v1.5h-1.5zM160.9 252.4h1.5v1.5h-1.5zM160.8 290.5h1.5v1.5h-1.5zM154.3 244.9h1.5v1.5h-1.5zM185.6 299.5h1.5v1.5h-1.5z"/>
<path fill="#970026" d="M243.4 299.1h1.5v1.5h-1.5zM199.3 299.9h1.5v1.5h-1.5zM187.9 219.1h1.5v1.5h-1.5zM190.0 273.9h1.5v1.5h-1.5zM193.5 267.5h1.5v1.5h-1.5zM256.4 290.0h1.5v1.5h-1.5zM180.9 298.0h1.5v1.5h-1.5zM189.7 283.5h1.5v1.5h-1.5zM196.5 291.2h1.5v1.5h-1.5zM237.4 288.0h1.5v1.5h-1.5zM223.2 297.5h1.5v1.5h-1.5zM221.2 290.6h1.5v1.5h-1.5z"/>
<path fill="#b00026" d="M210.3 308.3h1.5v1.5h-1.5zM211.4 282.9h1.5v1.5h-1.5zM251.9 293.4h1.5v1.5h-1.5zM190.9 299.3h1.5v1.5h-1.5zM209.5 288.7h1.5v1.5h-1.5zM174.3 235.0h1.5v1.5h-1.5zM196.2 287.2h1.5v1.5h-1.5zM227.6 308.7h1.5v1.5h-1.5zM198.3 292.0h1.5v1.5h-1.5zM180.6 243.8h1.5v1.5h-1.5zM209.3 308.6h1.5v1.5h-1.5zM309.0 303.3h1.5v1.5h-1.5zM329.2 308.3h1.5v1.5h-1.5zM188.9 286.3h1.5v1.5h-1.5zM260.7 300.1h1.5v1.5h-1.5zM191.1 296.2h1.5v1.5h-1.5zM185.6 279.0h1.5v1.5h-1.5zM243.7 308.6h1.5v1.5h-1.5zM203.3 302.0h1.5v1.5h-1.5zM189.7 302.4h1.5v1.5h-1.5zM200.4 237.7h1.5v1.5h-1.5zM183.8 290.7h1.5v1.5h-1.5zM231.8 309.3h1.5v1.5h-1.5zM221.7 294.3h1.5v1.5h-1.5zM233.1 291.6h1.5v1.5h-1.5zM197.4 278.7h1.5v1.5h-1.5zM314.0 295.9h1.5v1.5h-1.5zM236.8 294.8h1.5v1.5h-1.5zM200.8 296.8h1.5v1.5h-1.5zM209.3 305.7h1.5v1.5h-1.5zM153.5 111.8h1.5v1.5h-1.5zM200.9 301.9h1.5v1.5h-1.5zM192.1 303.7h1.5v1.5h-1.5zM182.5 302.7h1.5v1.5h-1.5zM302.6 304.4h1.5v1.5h-1.5zM196.0 267.3h1.5v1.5h-1.5zM201.8 275.9h1.5v1.5h-1.5zM176.0 263.4h1.5v1.5h-1.5zM178.2 295.9h1.5v1.5h-1.5zM193.1 276.8h1.5v1.5h-1.5zM210.5 266.0h1.5v1.5h-1.5zM190.9 296.0h1.5v1.5h-1.5zM197.4 301.7h1.5v1.5h-1.5zM193.7 291.3h1.5v1.5h-1.5zM180.2 177.5h1.5v1.5h-1.5zM216.0 261.5h1.5v1.5h-1.5zM188.3 295.1h1.5v1.5h-1.5zM213.9 290.4h1.5v1.5h-1.5zM172.0 267.1h1.5v1.5h-1.5zM181.7 281.5h1.5v1.5h-1.5zM213.8 286.8h1.5v1.5h-1.5zM200.3 270.1h1.5v1.5h-1.5zM176.2 301.4h1.5v1.5h-1.5z"/>
<path fill="#fa4a29" d="M152.8 109.8h1.5v1.5h-1.5zM204.8 304.7h1.5v1.5h-1.5zM152.6 149.0h1.5v1.5h-1.5zM153.2 222.1h1.5v1.5h-1.5zM188.6 222.8h1.5v1.5h-1.5zM152.6 209.2h1.5v1.5h-1.5zM187.9 235.9h1.5v1.5h-1.5z"/>
<path fill="#fd7e38" d="M152.6 71.2h1.5v1.5h-1.5zM152.6 72.5h1.5v1.5h-1.5zM152.9 70.7h1.5v1.5h-1.5zM185.0 233.8h1.5v1.5h-1.5zM179.9 270.2h1.5v1.5h-1.5zM152.8 182.9h1.5v1.5h-1.5zM152.8 35.1h1.5v1.5h-1.5zM152.9 50.4h1.5v1.5h-1.5zM154.3 274.3h1.5v1.5h-1.5zM152.9 223.6h1.5v1.5h-1.5zM153.3 209.4h1.5v1.5h-1.5zM152.8 41.7h1.5v1.5h-1.5zM171.6 235.5h1.5v1.5h-1.5zM209.6 213.3h1.5v1.5h-1.5zM152.7 64.8h1.5v1.5h-1.5zM157.8 180.9h1.5v1.5h-1.5zM152.6 223.6h1.5v1.5h-1.5zM152.7 263.6h1.5v1.5h-1.5zM156.0 246.8h1.5v1.5h-1.5zM168.0 202.3h1.5v1.5h-1.5z"/>
<path fill="#fc532b" d="M152.8 218.5h1.5v1.5h-1.5zM152.8 59.3h1.5v1.5h-1.5zM152.8 152.4h1.5v1.5h-1.5zM222.6 226.0h1.5v1.5h-1.5zM200.8 249.7h1.5v1.5h-1.5zM152.7 185.1h1.5v1.5h-1.5zM210.2 153.7h1.5v1.5h-1.5zM152.8 235.2h1.5v1.5h-1.5zM152.9 40.6h1.5v1.5h-1.5z"/>
<path fill="#860026" d="M200.0 287.4h1.5v1.5h-1.5zM177.8 272.6h1.5v1.5h-1.5zM236.4 291.8h1.5v1.5h-1.5zM208.5 302.6h1.5v1.5h-1.5z"/>
<path fill="#e51e1d" d="M215.7 307.0h1.5v1.5h-1.5zM186.5 293.5h1.5v1.5h-1.5zM208.5 307.3h1.5v1.5h-1.5zM152.8 204.2h1.5v1.5h-1.5zM153.1 170.0h1.5v1.5h-1.5zM227.6 284.8h1.5v1.5h-1.5zM189.8 296.7h1.5v1.5h-1.5zM195.7 266.1h1.5v1.5h-1.5zM204.5 232.7h1.5v1.5h-1.5zM192.8 278.8h1.5v1.5h-1.5zM223.3 291.6h1.5v1.5h-1.5zM192.2 304.9h1.5v1.5h-1.5zM206.8 303.8h1.5v1.5h-1.5zM186.7 282.1h1.5v1.5h-1.5zM242.7 291.9h1.5v1.5h-1.5zM180.7 275.0h1.5v1.5h-1.5zM234.7 267.6h1.5v1.5h-1.5zM188.9 270.5h1.5v1.5h-1.5zM197.4 305.2h1.5v1.5h-1.5zM220.9 294.7h1.5v1.5h-1.5zM198.0 304.7h1.5v1.5h-1.5zM153.5 273.1h1.5v1.5h-1.5zM239.9 305.3h1.5v1.5h-1.5zM152.6 263.8h1.5v1.5h-1.5zM153.0 277.8h1.5v1.5h-1.5zM219.0 306.8h1.5v1.5h-1.5zM153.0 265.8h1.5v1.5h-1.5zM153.3 238.6h1.5v1.5h-1.5zM167.5 191.5h1.5v1.5h-1.5zM180.7 278.6h1.5v1.5h-1.5zM240.1 299.2h1.5v1.5h-1.5zM213.9 294.5h1.5v1.5h-1.5zM246.5 299.4h1.5v1.5h-1.5zM159.5 176.9h1.5v1.5h-1.5zM238.7 294.3h1.5v1.5h-1.5zM182.4 283.8h1.5v1.5h-1.5zM190.4 301.2h1.5v1.5h-1.5zM202.6 302.1h1.5v1.5h-1.5zM181.8 191.2h1.5v1.5h-1.5zM153.0 201.3h1.5v1.5h-1.5zM188.8 226.3h1.5v1.5h-1.5zM153.7 238.8h1.5v1.5h-1.5z"/>
<path fill="#f03523" d="M182.1 205.4h1.5v1.5h-1.5zM186.7 280.9h1.5v1.5h-1.5zM192.8 263.1h1.5v1.5h-1.5zM211.5 300.9h1.5v1.5h-1.5zM153.3 250.4h1.5v1.5h-1.5zM220.6 257.9h1.5v1.5h-1.5zM184.8 294.3h1.5v1.5h-1.5zM196.5 302.0h1.5v1.5h-1.5zM210.7 291.8h1.5v1.5h-1.5zM153.5 174.9h1.5v1.5h-1.5zM226.0 308.4h1.5v1.5h-1.5zM174.6 234.2h1.5v1.5h-1.5z"/>
<path fill="#feb953" d="M152.9 201.7h1.5v1.5h-1.5zM153.2 137.5h1.5v1.5h-1.5zM157.2 289.0h1.5v1.5h-1.5zM163.6 148.6h1.5v1.5h-1.5zM156.7 202.8h1.5v1.5h-1.5zM153.6 208.7h1.5v1.5h-1.5zM152.7 141.0h1.5v1.5h-1.5zM189.0 225.7h1.5v1.5h-1.5zM153.4 283.5h1.5v1.5h-1.5zM152.7 229.4h1.5v1.5h-1.5zM160.5 168.3h1.5v1.5h-1.5zM205.8 258.7h1.5v1.5h-1.5z"/>
<path fill="#8d0026" d="M237.0 294.2h1.5v1.5h-1.5zM208.1 240.5h1.5v1.5h-1.5zM210.8 306.6h1.5v1.5h-1.5zM209.0 298.0h1.5v1.5h-1.5z"/>
<path fill="#f33b25" d="M211.1 303.2h1.5v1.5h-1.5zM198.8 256.3h1.5v1.5h-1.5zM177.7 267.1h1.5v1.5h-1.5zM189.0 280.3h1.5v1.5h-1.5zM201.1 258.4h1.5v1.5h-1.5zM180.1 259.8h1.5v1.5h-1.5zM157.7 265.0h1.5v1.5h-1.5zM247.4 304.7h1.5v1.5h-1.5zM179.9 259.2h1.5v1.5h-1.5zM153.0 259.4h1.5v1.5h-1.5zM240.3 293.1h1.5v1.5h-1.5zM173.5 274.3h1.5v1.5h-1.5zM162.2 234.5h1.5v1.5h-1.5zM152.8 254.4h1.5v1.5h-1.5zM176.2 167.9h1.5v1.5h-1.5zM181.4 253.5h1.5v1.5h-1.5zM182.4 227.7h1.5v1.5h-1.5z"/>
<path fill="#febf5a" d="M153.4 217.0h1.5v1.5h-1.5zM152.6 222.1h1.5v1.5h-1.5zM152.8 135.0h1.5v1.5h-1.5zM152.6 238.7h1.5v1.5h-1.5zM152.6 259.5h1.5v1.5h-1.5zM152.8 250.1h1.5v1.5h-1.5zM152.8 209.0h1.5v1.5h-1.5zM153.3 187.7h1.5v1.5h-1.5zM153.3 252.6h1.5v1.5h-1.5zM152.8 183.3h1.5v1.5h-1.5zM152.7 240.2h1.5v1.5h-1.5zM152.6 153.3h1.5v1.5h-1.5zM162.2 213.2h1.5v1.5h-1.5zM158.2 232.0h1.5v1.5h-1.5z"/>
<path fill="#fed572" d="M152.9 187.0h1.5v1.5h-1.5zM202.1 269.1h1.5v1.5h-1.5zM152.8 187.3h1.5v1.5h-1.5zM152.8 152.9h1.5v1.5h-1.5zM163.8 225.6h1.5v1.5h-1.5zM185.6 283.3h1.5v1.5h-1.5z"/>
<path fill="#fee084" d="M190.0 257.9h1.5v1.5h-1.5z"/>
<path fill="#fc5b2e" d="M152.8 71.2h1.5v1.5h-1.5zM152.5 205.8h1.5v1.5h-1.5zM160.9 140.1h1.5v1.5h-1.5zM168.5 257.2h1.5v1.5h-1.5zM152.7 273.7h1.5v1.5h-1.5zM152.5 163.1h1.5v1.5h-1.5zM152.7 49.5h1.5v1.5h-1.5zM152.8 278.8h1.5v1.5h-1.5zM152.8 169.4h1.5v1.5h-1.5zM153.6 269.4h1.5v1.5h-1.5zM152.6 62.7h1.5v1.5h-1.5zM174.1 231.3h1.5v1.5h-1.5zM173.8 286.8h1.5v1.5h-1.5zM152.7 63.3h1.5v1.5h-1.5z"/>
<path fill="#feda78" d="M152.9 241.5h1.5v1.5h-1.5zM152.6 266.4h1.5v1.5h-1.5zM152.7 165.8h1.5v1.5h-1.5zM152.8 213.8h1.5v1.5h-1.5zM166.3 266.5h1.5v1.5h-1.5z"/>
<path fill="#fec45f" d="M153.6 158.5h1.5v1.5h-1.5zM152.9 133.7h1.5v1.5h-1.5zM153.3 254.7h1.5v1.5h-1.5zM152.9 227.5h1.5v1.5h-1.5zM164.4 259.2h1.5v1.5h-1.5zM152.7 185.1h1.5v1.5h-1.5zM170.1 217.8h1.5v1.5h-1.5z"/>
<path fill="#feca66" d="M152.7 190.0h1.5v1.5h-1.5zM152.8 223.8h1.5v1.5h-1.5zM173.4 279.5h1.5v1.5h-1.5zM152.7 241.0h1.5v1.5h-1.5zM153.7 269.8h1.5v1.5h-1.5zM153.6 227.2h1.5v1.5h-1.5zM153.5 169.7h1.5v1.5h-1.5zM152.8 218.4h1.5v1.5h-1.5zM165.9 286.1h1.5v1.5h-1.5z"/>
<path fill="#fffac1" d="M186.2 312.2h1.5v1.5h-1.5z"/>
<path fill="#ffe590" d="M165.2 264.4h1.5v1.5h-1.5z"/>
<path fill="#fee289" d="M197.8 284.9h1.5v1.5h-1.5z"/>
<path fill="#ffeda1" d="M156.2 299.2h1.5v1.5h-1.5z"/>
<path fill="#ffe895" d="M157.8 272.2h1.5v1.5h-1.5z"/>
<path fill="#fff5b5" d="M163.8 310.2h1.5v1.5h-1.5z"/>
<path fill="#feae4a" d="M181.1 298.8h1.5v1.5h-1.5zM184.1 269.2h1.5v1.5h-1.5zM153.5 210.1h1.5v1.5h-1.5zM169.5 259.5h1.5v1.5h-1.5zM188.9 294.1h1.5v1.5h-1.5zM152.9 258.0h1.5v1.5h-1.5zM179.7 299.7h1.5v1.5h-1.5zM161.1 243.2h1.5v1.5h-1.5zM153.1 274.3h1.5v1.5h-1.5zM160.6 185.3h1.5v1.5h-1.5zM201.8 301.4h1.5v1.5h-1.5zM174.7 251.7h1.5v1.5h-1.5zM190.0 295.7h1.5v1.5h-1.5zM174.1 244.1h1.5v1.5h-1.5zM153.7 139.8h1.5v1.5h-1.5zM169.5 226.6h1.5v1.5h-1.5zM152.7 199.5h1.5v1.5h-1.5zM153.6 264.5h1.5v1.5h-1.5zM152.8 223.3h1.5v1.5h-1.5zM170.7 282.3h1.5v1.5h-1.5zM152.6 257.3h1.5v1.5h-1.5zM165.6 211.0h1.5v1.5h-1.5zM152.9 237.9h1.5v1.5h-1.5zM166.0 211.2h1.5v1.5h-1.5zM153.1 276.9h1.5v1.5h-1.5zM153.4 255.4h1.5v1.5h-1.5zM168.2 259.8h1.5v1.5h-1.5zM153.2 205.7h1.5v1.5h-1.5zM158.4 228.7h1.5v1.5h-1.5zM152.9 223.8h1.5v1.5h-1.5zM155.8 269.9h1.5v1.5h-1.5zM157.0 193.3h1.5v1.5h-1.5zM179.9 273.4h1.5v1.5h-1.5z"/>
<path fill="#fc532b" d="M175.9 269.3h1.5v1.5h-1.5zM180.1 289.3h1.5v1.5h-1.5zM253.3 253.2h1.5v1.5h-1.5zM171.4 282.0h1.5v1.5h-1.5zM184.0 294.0h1.5v1.5h-1.5zM165.7 203.8h1.5v1.5h-1.5zM184.6 257.5h1.5v1.5h-1.5zM164.9 238.2h1.5v1.5h-1.5zM153.1 185.7h1.5v1.5h-1.5zM207.1 226.8h1.5v1.5h-1.5zM152.5 198.5h1.5v1.5h-1.5zM166.7 221.1h1.5v1.5h-1.5zM174.0 268.5h1.5v1.5h-1.5zM165.6 233.0h1.5v1.5h-1.5zM152.7 167.9h1.5v1.5h-1.5zM158.5 242.0h1.5v1.5h-1.5zM153.0 177.9h1.5v1.5h-1.5zM167.0 248.2h1.5v1.5h-1.5z"/>
<path fill="#d6111f" d="M266.2 296.1h1.5v1.5h-1.5zM167.6 242.7h1.5v1.5h-1.5zM199.5 279.1h1.5v1.5h-1.5zM220.8 242.0h1.5v1.5h-1.5zM188.0 270.2h1.5v1.5h-1.5zM190.1 301.2h1.5v1.5h-1.5zM226.6 292.2h1.5v1.5h-1.5zM192.6 287.5h1.5v1.5h-1.5zM171.4 282.6h1.5v1.5h-1.5zM158.6 118.7h1.5v1.5h-1.5zM205.8 308.6h1.5v1.5h-1.5zM182.9 286.3h1.5v1.5h-1.5zM155.0 192.6h1.5v1.5h-1.5zM180.2 258.3h1.5v1.5h-1.5zM248.1 287.7h1.5v1.5h-1.5zM204.6 279.6h1.5v1.5h-1.5zM185.5 287.8h1.5v1.5h-1.5zM179.3 282.3h1.5v1.5h-1.5zM172.2 241.1h1.5v1.5h-1.5zM163.8 236.6h1.5v1.5h-1.5zM217.0 295.0h1.5v1.5h-1.5zM156.4 225.5h1.5v1.5h-1.5zM201.5 302.8h1.5v1.5h-1.5zM164.9 258.5h1.5v1.5h-1.5zM197.4 281.4h1.5v1.5h-1.5zM204.7 231.7h1.5v1.5h-1.5zM180.0 267.6h1.5v1.5h-1.5zM262.0 308.6h1.5v1.5h-1.5zM186.1 300.9h1.5v1.5h-1.5zM164.1 230.2h1.5v1.5h-1.5zM179.0 266.6h1.5v1.5h-1.5zM202.0 296.8h1.5v1.5h-1.5zM258.4 310.7h1.5v1.5h-1.5zM197.3 301.5h1.5v1.5h-1.5zM175.5 287.0h1.5v1.5h-1.5zM198.7 307.5h1.5v1.5h-1.5zM157.5 266.8h1.5v1.5h-1.5zM153.2 191.0h1.5v1.5h-1.5zM251.5 285.2h1.5v1.5h-1.5zM173.5 268.8h1.5v1.5h-1.5zM187.2 254.5h1.5v1.5h-1.5zM187.6 299.1h1.5v1.5h-1.5zM199.2 293.8h1.5v1.5h-1.5zM166.0 245.9h1.5v1.5h-1.5zM220.2 292.5h1.5v1.5h-1.5zM191.9 268.0h1.5v1.5h-1.5zM158.3 271.9h1.5v1.5h-1.5zM202.8 304.4h1.5v1.5h-1.5zM226.2 288.6h1.5v1.5h-1.5zM157.2 221.5h1.5v1.5h-1.5zM153.0 90.8h1.5v1.5h-1.5z"/>
<path fill="#fd9941" d="M158.4 212.7h1.5v1.5h-1.5zM153.5 230.7h1.5v1.5h-1.5zM161.5 245.2h1.5v1.5h-1.5zM152.7 246.0h1.5v1.5h-1.5zM159.5 190.2h1.5v1.5h-1.5zM152.7 91.0h1.5v1.5h-1.5zM175.1 294.3h1.5v1.5h-1.5zM152.9 270.6h1.5v1.5h-1.5zM152.6 107.0h1.5v1.5h-1.5zM160.4 269.2h1.5v1.5h-1.5zM175.6 269.1h1.5v1.5h-1.5zM170.9 296.5h1.5v1.5h-1.5zM178.1 277.9h1.5v1.5h-1.5zM163.6 210.3h1.5v1.5h-1.5zM176.1 286.7h1.5v1.5h-1.5zM172.1 266.4h1.5v1.5h-1.5zM210.5 290.5h1.5v1.5h-1.5zM152.8 129.3h1.5v1.5h-1.5zM165.4 194.4h1.5v1.5h-1.5zM173.7 205.5h1.5v1.5h-1.5zM153.6 269.1h1.5v1.5h-1.5zM152.7 189.3h1.5v1.5h-1.5zM161.5 234.1h1.5v1.5h-1.5zM176.9 278.2h1.5v1.5h-1.5zM179.9 267.3h1.5v1.5h-1.5zM162.9 245.8h1.5v1.5h-1.5zM152.8 250.2h1.5v1.5h-1.5zM152.9 111.0h1.5v1.5h-1.5zM178.6 283.1h1.5v1.5h-1.5zM181.1 272.1h1.5v1.5h-1.5zM165.2 287.4h1.5v1.5h-1.5zM157.9 240.7h1.5v1.5h-1.5zM200.1 237.1h1.5v1.5h-1.5zM223.5 297.9h1.5v1.5h-1.5zM152.8 133.6h1.5v1.5h-1.5zM160.9 240.0h1.5v1.5h-1.5zM166.7 190.3h1.5v1.5h-1.5zM154.5 262.4h1.5v1.5h-1.5zM152.9 254.9h1.5v1.5h-1.5zM178.7 283.8h1.5v1.5h-1.5zM152.7 290.2h1.5v1.5h-1.5zM174.6 225.5h1.5v1.5h-1.5zM165.5 297.3h1.5v1.5h-1.5z"/>
<path fill="#f03523" d="M185.6 289.5h1.5v1.5h-1.5zM157.8 223.7h1.5v1.5h-1.5zM166.1 207.9h1.5v1.5h-1.5zM185.1 294.7h1.5v1.5h-1.5zM162.6 254.3h1.5v1.5h-1.5zM152.8 236.5h1.5v1.5h-1.5zM216.9 280.7h1.5v1.5h-1.5zM154.5 268.8h1.5v1.5h-1.5zM156.5 287.1h1.5v1.5h-1.5zM153.3 233.2h1.5v1.5h-1.5zM153.3 237.0h1.5v1.5h-1.5zM184.3 271.4h1.5v1.5h-1.5zM179.0 282.3h1.5v1.5h-1.5zM177.1 251.7h1.5v1.5h-1.5zM162.5 280.6h1.5v1.5h-1.5zM173.6 237.5h1.5v1.5h-1.5zM223.4 282.1h1.5v1.5h-1.5zM184.6 296.6h1.5v1.5h-1.5zM161.4 227.5h1.5v1.5h-1.5zM153.0 262.7h1.5v1.5h-1.5zM161.1 218.9h1.5v1.5h-1.5zM233.1 258.1h1.5v1.5h-1.5zM177.6 244.6h1.5v1.5h-1.5zM175.6 252.8h1.5v1.5h-1.5zM159.7 231.1h1.5v1.5h-1.5z"/>
<path fill="#d00d21" d="M216.8 290.5h1.5v1.5h-1.5zM215.5 302.6h1.5v1.5h-1.5zM234.2 291.1h1.5v1.5h-1.5zM184.9 300.8h1.5v1.5h-1.5zM157.6 243.8h1.5v1.5h-1.5zM232.3 307.0h1.5v1.5h-1.5zM187.1 282.0h1.5v1.5h-1.5zM183.6 272.9h1.5v1.5h-1.5zM193.7 290.6h1.5v1.5h-1.5zM216.4 304.3h1.5v1.5h-1.5zM171.7 231.5h1.5v1.5h-1.5zM163.9 229.7h1.5v1.5h-1.5zM194.4 264.0h1.5v1.5h-1.5zM256.1 306.0h1.5v1.5h-1.5zM218.1 296.2h1.5v1.5h-1.5zM210.6 253.0h1.5v1.5h-1.5zM181.6 237.2h1.5v1.5h-1.5zM185.3 262.5h1.5v1.5h-1.5zM156.6 242.6h1.5v1.5h-1.5zM208.1 255.5h1.5v1.5h-1.5zM184.1 286.0h1.5v1.5h-1.5zM201.2 259.1h1.5v1.5h-1.5zM159.1 221.3h1.5v1.5h-1.5zM183.8 279.0h1.5v1.5h-1.5zM216.4 280.2h1.5v1.5h-1.5zM224.4 295.3h1.5v1.5h-1.5zM179.1 276.3h1.5v1.5h-1.5zM200.6 236.3h1.5v1.5h-1.5zM187.6 238.5h1.5v1.5h-1.5zM161.3 246.3h1.5v1.5h-1.5zM242.3 294.3h1.5v1.5h-1.5zM187.2 296.0h1.5v1.5h-1.5zM173.9 280.7h1.5v1.5h-1.5zM230.5 304.4h1.5v1.5h-1.5zM229.3 264.7h1.5v1.5h-1.5zM169.9 152.6h1.5v1.5h-1.5zM206.4 293.5h1.5v1.5h-1.5zM160.1 280.7h1.5v1.5h-1.5zM203.7 281.1h1.5v1.5h-1.5zM226.0 273.8h1.5v1.5h-1.5zM199.0 289.1h1.5v1.5h-1.5zM186.9 263.3h1.5v1.5h-1.5zM193.9 297.5h1.5v1.5h-1.5zM177.7 278.2h1.5v1.5h-1.5zM178.1 290.1h1.5v1.5h-1.5zM166.8 275.6h1.5v1.5h-1.5zM221.7 295.8h1.5v1.5h-1.5zM157.0 282.4h1.5v1.5h-1.5zM205.5 297.1h1.5v1.5h-1.5zM157.6 234.6h1.5v1.5h-1.5zM199.3 234.4h1.5v1.5h-1.5zM158.4 268.4h1.5v1.5h-1.5zM212.7 291.8h1.5v1.5h-1.5zM173.4 276.0h1.5v1.5h-1.5zM187.2 284.2h1.5v1.5h-1.5zM214.7 281.9h1.5v1.5h-1.5zM217.1 287.7h1.5v1.5h-1.5zM226.5 305.2h1.5v1.5h-1.5zM226.9 293.1h1.5v1.5h-1.5zM186.0 263.8h1.5v1.5h-1.5zM238.3 271.9h1.5v1.5h-1.5zM211.6 290.4h1.5v1.5h-1.5zM200.0 245.0h1.5v1.5h-1.5zM152.6 237.4h1.5v1.5h-1.5zM205.1 281.7h1.5v1.5h-1.5z"/>
<path fill="#fd7e38" d="M179.8 272.4h1.5v1.5h-1.5zM174.7 254.1h1.5v1.5h-1.5zM209.1 277.1h1.5v1.5h-1.5zM152.8 198.4h1.5v1.5h-1.5zM152.9 203.1h1.5v1.5h-1.5zM152.8 52.1h1.5v1.5h-1.5zM180.3 292.9h1.5v1.5h-1.5zM178.9 292.2h1.5v1.5h-1.5zM163.6 237.2h1.5v1.5h-1.5zM185.8 274.9h1.5v1.5h-1.5zM155.2 263.9h1.5v1.5h-1.5zM167.7 290.9h1.5v1.5h-1.5zM152.6 18.7h1.5v1.5h-1.5zM152.7 143.3h1.5v1.5h-1.5zM176.1 234.2h1.5v1.5h-1.5zM167.1 258.7h1.5v1.5h-1.5zM163.8 282.9h1.5v1.5h-1.5zM164.6 235.4h1.5v1.5h-1.5zM186.1 306.6h1.5v1.5h-1.5zM181.4 273.0h1.5v1.5h-1.5z"/>
<path fill="#fd9f44" d="M171.4 282.3h1.5v1.5h-1.5zM157.6 234.3h1.5v1.5h-1.5zM163.8 278.1h1.5v1.5h-1.5zM163.4 252.3h1.5v1.5h-1.5zM188.4 295.4h1.5v1.5h-1.5zM152.8 234.1h1.5v1.5h-1.5zM152.7 78.4h1.5v1.5h-1.5zM153.7 259.4h1.5v1.5h-1.5zM152.7 92.1h1.5v1.5h-1.5zM167.4 238.9h1.5v1.5h-1.5zM152.8 255.6h1.5v1.5h-1.5zM152.6 172.1h1.5v1.5h-1.5zM152.7 93.2h1.5v1.5h-1.5zM194.1 302.9h1.5v1.5h-1.5zM152.6 174.3h1.5v1.5h-1.5zM188.4 303.5h1.5v1.5h-1.5zM168.0 263.8h1.5v1.5h-1.5zM219.7 296.7h1.5v1.5h-1.5zM160.3 145.2h1.5v1.5h-1.5zM153.6 219.6h1.5v1.5h-1.5zM153.4 190.8h1.5v1.5h-1.5zM155.9 215.5h1.5v1.5h-1.5zM178.3 256.9h1.5v1.5h-1.5zM152.5 114.5h1.5v1.5h-1.5zM171.3 239.0h1.5v1.5h-1.5zM187.0 283.2h1.5v1.5h-1.5zM152.6 105.7h1.5v1.5h-1.5zM178.2 259.7h1.5v1.5h-1.5zM178.4 273.8h1.5v1.5h-1.5zM171.8 270.6h1.5v1.5h-1.5zM174.6 230.5h1.5v1.5h-1.5zM168.7 229.7h1.5v1.5h-1.5zM177.2 284.1h1.5v1.5h-1.5zM212.0 293.3h1.5v1.5h-1.5zM171.3 254.0h1.5v1.5h-1.5zM181.0 299.4h1.5v1.5h-1.5zM180.1 284.5h1.5v1.5h-1.5zM184.7 276.3h1.5v1.5h-1.5zM186.4 280.2h1.5v1.5h-1.5zM157.9 283.7h1.5v1.5h-1.5zM187.7 280.5h1.5v1.5h-1.5zM177.6 281.5h1.5v1.5h-1.5zM169.0 219.2h1.5v1.5h-1.5z"/>
<path fill="#fd953f" d="M171.5 257.2h1.5v1.5h-1.5zM152.6 22.6h1.5v1.5h-1.5zM174.9 244.7h1.5v1.5h-1.5zM185.3 294.8h1.5v1.5h-1.5zM157.9 220.6h1.5v1.5h-1.5zM187.6 307.3h1.5v1.5h-1.5zM152.8 59.9h1.5v1.5h-1.5zM181.3 284.4h1.5v1.5h-1.5zM165.3 294.0h1.5v1.5h-1.5zM178.3 280.0h1.5v1.5h-1.5zM153.0 278.5h1.5v1.5h-1.5zM185.9 301.1h1.5v1.5h-1.5zM174.3 287.8h1.5v1.5h-1.5zM213.1 268.4h1.5v1.5h-1.5zM172.3 275.0h1.5v1.5h-1.5zM153.0 278.6h1.5v1.5h-1.5zM181.3 265.3h1.5v1.5h-1.5zM152.7 254.3h1.5v1.5h-1.5zM184.4 277.5h1.5v1.5h-1.5zM162.4 216.4h1.5v1.5h-1.5zM177.5 262.5h1.5v1.5h-1.5zM155.9 259.8h1.5v1.5h-1.5zM177.4 287.5h1.5v1.5h-1.5zM176.9 263.2h1.5v1.5h-1.5zM152.9 249.0h1.5v1.5h-1.5zM181.9 280.7h1.5v1.5h-1.5zM177.5 286.3h1.5v1.5h-1.5zM174.3 248.8h1.5v1.5h-1.5zM162.3 281.8h1.5v1.5h-1.5zM190.9 296.0h1.5v1.5h-1.5zM176.0 279.6h1.5v1.5h-1.5zM173.1 249.3h1.5v1.5h-1.5zM153.7 251.5h1.5v1.5h-1.5zM181.2 287.9h1.5v1.5h-1.5zM157.0 294.0h1.5v1.5h-1.5zM188.8 294.5h1.5v1.5h-1.5zM152.7 132.5h1.5v1.5h-1.5zM164.2 192.7h1.5v1.5h-1.5zM164.4 229.2h1.5v1.5h-1.5zM153.4 236.5h1.5v1.5h-1.5zM161.7 208.6h1.5v1.5h-1.5zM183.9 306.0h1.5v1.5h-1.5zM163.7 213.7h1.5v1.5h-1.5zM152.9 288.1h1.5v1.5h-1.5zM152.7 239.0h1.5v1.5h-1.5zM152.8 239.7h1.5v1.5h-1.5z"/>
<path fill="#feb953" d="M173.3 280.4h1.5v1.5h-1.5zM172.5 289.8h1.5v1.5h-1.5zM152.6 239.1h1.5v1.5h-1.5zM162.0 296.1h1.5v1.5h-1.5zM174.0 257.5h1.5v1.5h-1.5zM179.1 281.6h1.5v1.5h-1.5zM162.0 236.6h1.5v1.5h-1.5zM172.1 247.7h1.5v1.5h-1.5zM156.0 267.5h1.5v1.5h-1.5zM152.7 268.0h1.5v1.5h-1.5zM156.3 282.0h1.5v1.5h-1.5zM163.0 269.0h1.5v1.5h-1.5zM152.5 150.2h1.5v1.5h-1.5zM192.7 300.1h1.5v1.5h-1.5zM152.9 229.7h1.5v1.5h-1.5zM163.3 210.5h1.5v1.5h-1.5zM162.7 269.2h1.5v1.5h-1.5zM175.9 277.1h1.5v1.5h-1.5zM167.3 281.6h1.5v1.5h-1.5zM153.7 154.0h1.5v1.5h-1.5zM173.0 244.2h1.5v1.5h-1.5zM186.0 302.6h1.5v1.5h-1.5zM161.4 238.6h1.5v1.5h-1.5z"/>
<path fill="#fea948" d="M256.3 278.7h1.5v1.5h-1.5zM173.5 282.2h1.5v1.5h-1.5zM193.0 282.7h1.5v1.5h-1.5zM185.7 269.0h1.5v1.5h-1.5zM167.4 223.0h1.5v1.5h-1.5zM159.6 265.5h1.5v1.5h-1.5zM173.6 253.4h1.5v1.5h-1.5zM160.0 223.1h1.5v1.5h-1.5zM181.9 288.9h1.5v1.5h-1.5zM152.8 237.1h1.5v1.5h-1.5zM167.8 265.3h1.5v1.5h-1.5zM152.9 235.8h1.5v1.5h-1.5zM154.7 233.4h1.5v1.5h-1.5zM179.6 262.1h1.5v1.5h-1.5zM152.6 118.9h1.5v1.5h-1.5zM152.7 158.5h1.5v1.5h-1.5zM179.3 285.2h1.5v1.5h-1.5zM175.9 270.1h1.5v1.5h-1.5zM158.8 273.4h1.5v1.5h-1.5zM182.7 306.7h1.5v1.5h-1.5zM164.7 194.1h1.5v1.5h-1.5zM153.4 244.4h1.5v1.5h-1.5zM176.6 288.3h1.5v1.5h-1.5zM152.8 182.1h1.5v1.5h-1.5zM163.1 289.0h1.5v1.5h-1.5zM152.6 274.6h1.5v1.5h-1.5zM183.1 284.4h1.5v1.5h-1.5zM160.9 264.6h1.5v1.5h-1.5zM190.6 298.4h1.5v1.5h-1.5zM158.3 250.0h1.5v1.5h-1.5zM160.9 251.6h1.5v1.5h-1.5zM159.3 233.1h1.5v1.5h-1.5zM166.6 259.8h1.5v1.5h-1.5zM180.5 229.0h1.5v1.5h-1.5zM153.3 287.8h1.5v1.5h-1.5zM152.7 188.2h1.5v1.5h-1.5z"/>
<path fill="#f33b25" d="M152.9 248.5h1.5v1.5h-1.5zM185.3 297.8h1.5v1.5h-1.5zM181.3 298.9h1.5v1.5h-1.5zM154.3 225.9h1.5v1.5h-1.5zM153.4 274.0h1.5v1.5h-1.5zM165.6 279.0h1.5v1.5h-1.5zM163.5 145.7h1.5v1.5h-1.5zM153.5 269.1h1.5v1.5h-1.5zM184.5 286.2h1.5v1.5h-1.5zM194.1 304.7h1.5v1.5h-1.5zM191.9 183.0h1.5v1.5h-1.5zM183.3 295.8h1.5v1.5h-1.5zM219.0 268.9h1.5v1.5h-1.5zM232.9 279.2h1.5v1.5h-1.5zM185.4 289.3h1.5v1.5h-1.5zM178.0 252.2h1.5v1.5h-1.5zM174.2 239.6h1.5v1.5h-1.5zM157.3 256.8h1.5v1.5h-1.5zM175.5 271.5h1.5v1.5h-1.5zM155.7 213.3h1.5v1.5h-1.5zM153.3 247.3h1.5v1.5h-1.5zM166.3 215.3h1.5v1.5h-1.5zM164.9 158.0h1.5v1.5h-1.5zM153.9 241.0h1.5v1.5h-1.5zM208.8 249.7h1.5v1.5h-1.5zM173.0 248.4h1.5v1.5h-1.5zM152.6 273.0h1.5v1.5h-1.5zM165.0 253.2h1.5v1.5h-1.5z"/>
<path fill="#b00026" d="M260.6 307.1h1.5v1.5h-1.5zM190.5 257.6h1.5v1.5h-1.5zM230.1 281.8h1.5v1.5h-1.5zM245.1 294.5h1.5v1.5h-1.5zM216.4 284.4h1.5v1.5h-1.5zM196.1 291.3h1.5v1.5h-1.5zM240.8 295.7h1.5v1.5h-1.5zM191.5 282.1h1.5v1.5h-1.5zM317.5 310.2h1.5v1.5h-1.5zM183.4 271.1h1.5v1.5h-1.5zM225.9 307.6h1.5v1.5h-1.5zM215.9 308.6h1.5v1.5h-1.5zM234.6 301.3h1.5v1.5h-1.5zM191.9 292.3h1.5v1.5h-1.5zM232.1 282.9h1.5v1.5h-1.5zM179.9 298.1h1.5v1.5h-1.5zM198.1 298.6h1.5v1.5h-1.5zM200.8 274.6h1.5v1.5h-1.5zM181.3 292.4h1.5v1.5h-1.5zM195.2 301.3h1.5v1.5h-1.5zM178.0 301.0h1.5v1.5h-1.5zM229.7 274.4h1.5v1.5h-1.5zM205.6 301.4h1.5v1.5h-1.5zM207.8 280.1h1.5v1.5h-1.5zM200.6 303.3h1.5v1.5h-1.5zM208.0 298.0h1.5v1.5h-1.5zM179.3 221.1h1.5v1.5h-1.5zM198.1 254.7h1.5v1.5h-1.5z"/>
<path fill="#e1191d" d="M213.2 291.6h1.5v1.5h-1.5zM152.7 152.0h1.5v1.5h-1.5zM184.9 278.2h1.5v1.5h-1.5zM163.7 196.5h1.5v1.5h-1.5zM169.6 227.1h1.5v1.5h-1.5zM171.2 271.9h1.5v1.5h-1.5zM153.0 274.0h1.5v1.5h-1.5zM196.6 279.7h1.5v1.5h-1.5zM196.1 247.3h1.5v1.5h-1.5zM153.1 258.7h1.5v1.5h-1.5zM209.0 301.0h1.5v1.5h-1.5zM177.3 268.1h1.5v1.5h-1.5zM154.5 170.7h1.5v1.5h-1.5zM155.9 149.9h1.5v1.5h-1.5zM163.0 212.6h1.5v1.5h-1.5zM222.1 280.7h1.5v1.5h-1.5zM176.3 291.4h1.5v1.5h-1.5zM164.3 297.0h1.5v1.5h-1.5zM170.3 161.6h1.5v1.5h-1.5zM155.6 261.7h1.5v1.5h-1.5zM214.7 280.8h1.5v1.5h-1.5zM202.2 284.8h1.5v1.5h-1.5zM153.3 256.6h1.5v1.5h-1.5zM208.8 268.7h1.5v1.5h-1.5zM203.9 307.7h1.5v1.5h-1.5zM199.9 301.1h1.5v1.5h-1.5zM195.3 256.5h1.5v1.5h-1.5zM216.7 287.7h1.5v1.5h-1.5zM163.6 258.4h1.5v1.5h-1.5zM164.9 286.5h1.5v1.5h-1.5zM156.8 249.3h1.5v1.5h-1.5zM165.6 273.6h1.5v1.5h-1.5zM184.4 294.1h1.5v1.5h-1.5zM197.6 298.4h1.5v1.5h-1.5zM169.6 267.0h1.5v1.5h-1.5zM230.4 298.2h1.5v1.5h-1.5zM169.3 200.3h1.5v1.5h-1.5zM204.4 305.8h1.5v1.5h-1.5zM233.2 293.6h1.5v1.5h-1.5zM208.5 297.8h1.5v1.5h-1.5zM172.8 140.2h1.5v1.5h-1.5zM153.0 264.4h1.5v1.5h-1.5zM202.8 301.9h1.5v1.5h-1.5zM153.4 236.6h1.5v1.5h-1.5zM153.5 237.4h1.5v1.5h-1.5zM236.5 294.8h1.5v1.5h-1.5zM153.7 174.6h1.5v1.5h-1.5zM157.8 154.6h1.5v1.5h-1.5zM209.3 261.1h1.5v1.5h-1.5zM162.6 279.2h1.5v1.5h-1.5zM160.6 262.9h1.5v1.5h-1.5zM186.8 271.7h1.5v1.5h-1.5zM195.8 263.0h1.5v1.5h-1.5zM194.5 251.3h1.5v1.5h-1.5z"/>
<path fill="#e9261f" d="M153.4 194.6h1.5v1.5h-1.5zM176.0 202.1h1.5v1.5h-1.5zM189.1 306.6h1.5v1.5h-1.5zM177.9 294.6h1.5v1.5h-1.5zM153.6 260.2h1.5v1.5h-1.5zM184.4 256.4h1.5v1.5h-1.5zM152.7 247.2h1.5v1.5h-1.5zM156.5 203.3h1.5v1.5h-1.5zM153.2 254.3h1.5v1.5h-1.5zM153.2 119.3h1.5v1.5h-1.5zM161.4 256.9h1.5v1.5h-1.5zM223.1 298.6h1.5v1.5h-1.5zM152.8 238.9h1.5v1.5h-1.5zM171.4 180.7h1.5v1.5h-1.5zM164.0 215.1h1.5v1.5h-1.5zM156.0 279.5h1.5v1.5h-1.5zM164.3 165.9h1.5v1.5h-1.5zM156.1 219.7h1.5v1.5h-1.5zM190.1 302.5h1.5v1.5h-1.5zM171.9 262.8h1.5v1.5h-1.5zM203.6 258.3h1.5v1.5h-1.5z"/>
<path fill="#c00225" d="M199.7 304.0h1.5v1.5h-1.5zM200.9 294.4h1.5v1.5h-1.5zM182.4 291.7h1.5v1.5h-1.5zM200.6 276.0h1.5v1.5h-1.5zM187.9 279.4h1.5v1.5h-1.5zM187.9 262.7h1.5v1.5h-1.5zM199.0 300.7h1.5v1.5h-1.5zM203.7 302.4h1.5v1.5h-1.5zM206.5 280.5h1.5v1.5h-1.5zM183.3 294.2h1.5v1.5h-1.5zM201.1 281.3h1.5v1.5h-1.5zM220.6 286.1h1.5v1.5h-1.5zM186.6 276.9h1.5v1.5h-1.5zM253.2 300.6h1.5v1.5h-1.5zM204.9 300.4h1.5v1.5h-1.5zM200.8 279.7h1.5v1.5h-1.5zM192.5 303.0h1.5v1.5h-1.5zM202.0 290.1h1.5v1.5h-1.5zM186.6 285.9h1.5v1.5h-1.5zM212.5 284.2h1.5v1.5h-1.5zM204.0 291.8h1.5v1.5h-1.5zM223.6 274.6h1.5v1.5h-1.5zM202.2 296.9h1.5v1.5h-1.5zM207.9 300.0h1.5v1.5h-1.5zM203.0 306.5h1.5v1.5h-1.5zM220.6 306.4h1.5v1.5h-1.5zM153.2 274.6h1.5v1.5h-1.5zM172.0 242.5h1.5v1.5h-1.5zM168.7 258.4h1.5v1.5h-1.5zM182.0 215.5h1.5v1.5h-1.5zM196.0 295.4h1.5v1.5h-1.5zM410.1 306.2h1.5v1.5h-1.5zM279.2 303.8h1.5v1.5h-1.5zM192.1 282.9h1.5v1.5h-1.5zM156.9 241.9h1.5v1.5h-1.5zM185.8 297.0h1.5v1.5h-1.5zM238.9 287.4h1.5v1.5h-1.5zM201.0 295.3h1.5v1.5h-1.5zM188.9 303.5h1.5v1.5h-1.5zM244.2 288.5h1.5v1.5h-1.5zM190.5 292.6h1.5v1.5h-1.5zM162.3 279.7h1.5v1.5h-1.5zM161.8 224.7h1.5v1.5h-1.5zM183.8 289.8h1.5v1.5h-1.5zM186.7 290.4h1.5v1.5h-1.5zM187.6 249.2h1.5v1.5h-1.5z"/>
<path fill="#feca66" d="M173.0 244.8h1.5v1.5h-1.5zM179.3 275.3h1.5v1.5h-1.5zM169.1 279.5h1.5v1.5h-1.5zM161.3 222.0h1.5v1.5h-1.5zM171.3 300.5h1.5v1.5h-1.5zM170.3 274.6h1.5v1.5h-1.5zM152.6 144.3h1.5v1.5h-1.5zM178.0 277.1h1.5v1.5h-1.5zM161.5 248.8h1.5v1.5h-1.5zM153.5 278.4h1.5v1.5h-1.5zM179.8 267.7h1.5v1.5h-1.5zM170.2 239.6h1.5v1.5h-1.5zM152.7 172.5h1.5v1.5h-1.5zM176.3 266.8h1.5v1.5h-1.5zM158.7 237.5h1.5v1.5h-1.5zM177.6 277.3h1.5v1.5h-1.5zM171.8 186.8h1.5v1.5h-1.5zM164.1 210.1h1.5v1.5h-1.5zM160.3 288.8h1.5v1.5h-1.5zM174.8 279.8h1.5v1.5h-1.5zM172.8 202.3h1.5v1.5h-1.5zM152.5 188.0h1.5v1.5h-1.5zM182.3 298.1h1.5v1.5h-1.5zM154.7 216.3h1.5v1.5h-1.5zM153.6 269.4h1.5v1.5h-1.5z"/>
<path fill="#fea446" d="M152.7 139.5h1.5v1.5h-1.5zM152.6 85.4h1.5v1.5h-1.5zM153.5 268.4h1.5v1.5h-1.5zM169.1 200.8h1.5v1.5h-1.5zM152.9 209.8h1.5v1.5h-1.5zM165.3 169.4h1.5v1.5h-1.5zM166.0 243.4h1.5v1.5h-1.5zM161.0 258.9h1.5v1.5h-1.5zM165.6 262.2h1.5v1.5h-1.5zM152.8 163.6h1.5v1.5h-1.5zM172.7 265.6h1.5v1.5h-1.5zM169.8 236.7h1.5v1.5h-1.5zM176.0 278.0h1.5v1.5h-1.5zM159.9 297.3h1.5v1.5h-1.5zM163.0 275.8h1.5v1.5h-1.5zM153.2 249.3h1.5v1.5h-1.5zM224.2 280.6h1.5v1.5h-1.5zM162.5 246.0h1.5v1.5h-1.5zM152.5 114.7h1.5v1.5h-1.5zM184.8 276.7h1.5v1.5h-1.5zM180.8 276.5h1.5v1.5h-1.5zM175.5 268.3h1.5v1.5h-1.5zM152.5 198.1h1.5v1.5h-1.5zM168.1 289.7h1.5v1.5h-1.5zM167.6 172.3h1.5v1.5h-1.5zM152.5 112.7h1.5v1.5h-1.5zM170.2 241.6h1.5v1.5h-1.5zM153.5 273.6h1.5v1.5h-1.5zM162.7 237.5h1.5v1.5h-1.5zM178.0 278.1h1.5v1.5h-1.5zM181.4 265.4h1.5v1.5h-1.5zM187.9 300.6h1.5v1.5h-1.5zM152.6 104.3h1.5v1.5h-1.5zM152.8 221.9h1.5v1.5h-1.5zM185.7 272.7h1.5v1.5h-1.5zM152.8 147.7h1.5v1.5h-1.5zM181.0 293.5h1.5v1.5h-1.5zM178.4 277.5h1.5v1.5h-1.5z"/>
<path fill="#db141e" d="M237.6 297.8h1.5v1.5h-1.5zM224.3 305.5h1.5v1.5h-1.5zM202.2 222.5h1.5v1.5h-1.5zM169.9 294.5h1.5v1.5h-1.5zM182.2 290.2h1.5v1.5h-1.5zM197.6 302.0h1.5v1.5h-1.5zM158.0 212.2h1.5v1.5h-1.5zM153.5 224.8h1.5v1.5h-1.5zM218.1 278.4h1.5v1.5h-1.5zM161.4 186.0h1.5v1.5h-1.5zM201.6 268.0h1.5v1.5h-1.5zM152.9 235.0h1.5v1.5h-1.5zM160.4 259.8h1.5v1.5h-1.5zM163.9 229.8h1.5v1.5h-1.5zM194.0 304.3h1.5v1.5h-1.5zM236.3 306.1h1.5v1.5h-1.5zM228.9 237.0h1.5v1.5h-1.5zM275.4 303.5h1.5v1.5h-1.5zM177.0 290.6h1.5v1.5h-1.5zM159.0 275.7h1.5v1.5h-1.5zM209.5 300.6h1.5v1.5h-1.5zM177.7 291.8h1.5v1.5h-1.5zM152.7 241.1h1.5v1.5h-1.5zM180.4 297.9h1.5v1.5h-1.5zM154.6 208.8h1.5v1.5h-1.5zM174.4 284.7h1.5v1.5h-1.5zM179.8 233.2h1.5v1.5h-1.5zM258.1 297.7h1.5v1.5h-1.5zM157.3 275.4h1.5v1.5h-1.5zM161.1 286.5h1.5v1.5h-1.5zM222.0 305.5h1.5v1.5h-1.5zM198.2 301.0h1.5v1.5h-1.5zM198.0 300.0h1.5v1.5h-1.5zM211.4 294.1h1.5v1.5h-1.5zM188.7 296.4h1.5v1.5h-1.5zM152.9 179.8h1.5v1.5h-1.5zM176.9 203.9h1.5v1.5h-1.5zM186.1 299.9h1.5v1.5h-1.5zM212.8 290.2h1.5v1.5h-1.5zM181.5 258.4h1.5v1.5h-1.5zM153.2 252.8h1.5v1.5h-1.5zM201.6 289.5h1.5v1.5h-1.5zM158.0 211.1h1.5v1.5h-1.5zM157.5 266.0h1.5v1.5h-1.5zM152.7 176.5h1.5v1.5h-1.5zM224.7 306.1h1.5v1.5h-1.5zM165.2 278.1h1.5v1.5h-1.5zM253.7 307.2h1.5v1.5h-1.5zM193.1 299.3h1.5v1.5h-1.5zM155.6 283.9h1.5v1.5h-1.5zM208.8 295.5h1.5v1.5h-1.5z"/>
<path fill="#c50624" d="M214.2 293.6h1.5v1.5h-1.5zM365.0 304.4h1.5v1.5h-1.5zM177.5 293.1h1.5v1.5h-1.5zM223.4 303.3h1.5v1.5h-1.5zM166.9 209.0h1.5v1.5h-1.5zM176.6 216.2h1.5v1.5h-1.5zM255.7 299.5h1.5v1.5h-1.5zM218.2 292.9h1.5v1.5h-1.5zM200.5 294.2h1.5v1.5h-1.5zM194.6 227.6h1.5v1.5h-1.5zM263.5 273.3h1.5v1.5h-1.5zM187.4 297.6h1.5v1.5h-1.5zM249.5 290.2h1.5v1.5h-1.5zM382.8 304.4h1.5v1.5h-1.5zM171.2 268.5h1.5v1.5h-1.5zM179.7 176.6h1.5v1.5h-1.5zM186.8 265.1h1.5v1.5h-1.5zM209.2 291.6h1.5v1.5h-1.5zM183.9 305.7h1.5v1.5h-1.5zM245.4 307.7h1.5v1.5h-1.5zM210.9 288.4h1.5v1.5h-1.5zM169.9 227.7h1.5v1.5h-1.5zM227.4 289.2h1.5v1.5h-1.5zM217.4 279.9h1.5v1.5h-1.5zM182.3 279.4h1.5v1.5h-1.5zM186.8 307.4h1.5v1.5h-1.5zM196.0 293.1h1.5v1.5h-1.5zM260.3 284.4h1.5v1.5h-1.5zM203.6 280.8h1.5v1.5h-1.5zM189.0 265.5h1.5v1.5h-1.5zM192.3 278.2h1.5v1.5h-1.5zM219.0 263.0h1.5v1.5h-1.5zM192.1 296.6h1.5v1.5h-1.5zM177.0 259.2h1.5v1.5h-1.5zM180.1 239.5h1.5v1.5h-1.5zM210.4 302.7h1.5v1.5h-1.5zM203.7 303.1h1.5v1.5h-1.5zM220.7 290.6h1.5v1.5h-1.5zM166.2 227.6h1.5v1.5h-1.5zM194.9 267.1h1.5v1.5h-1.5zM186.9 285.8h1.5v1.5h-1.5z"/>
<path fill="#e51e1d" d="M205.8 293.5h1.5v1.5h-1.5zM241.0 287.0h1.5v1.5h-1.5zM235.6 308.9h1.5v1.5h-1.5zM229.8 291.7h1.5v1.5h-1.5zM222.9 287.1h1.5v1.5h-1.5zM160.8 265.2h1.5v1.5h-1.5zM193.1 210.4h1.5v1.5h-1.5zM169.2 183.9h1.5v1.5h-1.5zM153.2 104.8h1.5v1.5h-1.5zM182.0 233.6h1.5v1.5h-1.5zM156.2 191.2h1.5v1.5h-1.5zM255.5 273.1h1.5v1.5h-1.5zM171.7 244.0h1.5v1.5h-1.5zM172.6 261.2h1.5v1.5h-1.5zM196.6 291.0h1.5v1.5h-1.5zM190.5 265.5h1.5v1.5h-1.5zM174.7 281.5h1.5v1.5h-1.5zM221.9 299.9h1.5v1.5h-1.5zM198.9 301.3h1.5v1.5h-1.5zM175.5 260.6h1.5v1.5h-1.5zM190.3 295.7h1.5v1.5h-1.5zM190.2 193.7h1.5v1.5h-1.5zM153.7 280.6h1.5v1.5h-1.5zM191.6 256.4h1.5v1.5h-1.5zM152.5 209.1h1.5v1.5h-1.5zM166.7 191.0h1.5v1.5h-1.5zM178.1 293.8h1.5v1.5h-1.5zM152.9 178.4h1.5v1.5h-1.5zM165.5 156.8h1.5v1.5h-1.5zM185.0 275.3h1.5v1.5h-1.5zM155.7 184.0h1.5v1.5h-1.5zM187.5 288.4h1.5v1.5h-1.5zM199.8 292.2h1.5v1.5h-1.5zM154.2 290.2h1.5v1.5h-1.5zM153.3 151.8h1.5v1.5h-1.5zM174.3 270.7h1.5v1.5h-1.5zM178.6 273.9h1.5v1.5h-1.5z"/>
<path fill="#8d0026" d="M176.4 239.5h1.5v1.5h-1.5zM200.4 301.0h1.5v1.5h-1.5zM188.9 277.0h1.5v1.5h-1.5zM221.5 285.4h1.5v1.5h-1.5zM209.8 301.9h1.5v1.5h-1.5zM182.7 191.0h1.5v1.5h-1.5zM161.1 267.2h1.5v1.5h-1.5zM268.9 305.3h1.5v1.5h-1.5zM198.7 259.3h1.5v1.5h-1.5z"/>
<path fill="#fecf6b" d="M175.5 234.3h1.5v1.5h-1.5zM176.7 264.3h1.5v1.5h-1.5zM169.1 252.2h1.5v1.5h-1.5zM152.7 265.0h1.5v1.5h-1.5zM171.6 285.1h1.5v1.5h-1.5zM167.5 225.9h1.5v1.5h-1.5zM152.7 232.4h1.5v1.5h-1.5zM158.0 229.7h1.5v1.5h-1.5zM171.4 243.1h1.5v1.5h-1.5zM185.6 286.7h1.5v1.5h-1.5zM152.6 257.8h1.5v1.5h-1.5zM153.5 205.6h1.5v1.5h-1.5zM178.7 300.7h1.5v1.5h-1.5zM153.7 202.4h1.5v1.5h-1.5zM182.4 260.9h1.5v1.5h-1.5z"/>
<path fill="#fec45f" d="M180.4 287.4h1.5v1.5h-1.5zM178.8 275.4h1.5v1.5h-1.5zM153.3 249.6h1.5v1.5h-1.5zM174.5 246.7h1.5v1.5h-1.5zM153.5 242.3h1.5v1.5h-1.5zM153.5 268.7h1.5v1.5h-1.5zM170.8 226.0h1.5v1.5h-1.5zM181.0 278.8h1.5v1.5h-1.5zM163.6 235.6h1.5v1.5h-1.5zM174.2 266.4h1.5v1.5h-1.5zM152.6 191.8h1.5v1.5h-1.5zM156.4 280.2h1.5v1.5h-1.5zM183.2 292.5h1.5v1.5h-1.5zM152.8 284.7h1.5v1.5h-1.5zM152.5 217.0h1.5v1.5h-1.5z"/>
<path fill="#b90026" d="M182.6 253.7h1.5v1.5h-1.5zM193.4 295.2h1.5v1.5h-1.5zM210.5 308.7h1.5v1.5h-1.5zM200.1 283.3h1.5v1.5h-1.5zM186.3 287.8h1.5v1.5h-1.5zM270.7 303.7h1.5v1.5h-1.5zM231.0 282.6h1.5v1.5h-1.5zM153.4 280.6h1.5v1.5h-1.5zM181.0 297.9h1.5v1.5h-1.5zM206.7 304.6h1.5v1.5h-1.5zM201.0 298.0h1.5v1.5h-1.5zM160.7 192.1h1.5v1.5h-1.5zM248.0 310.9h1.5v1.5h-1.5zM181.7 283.7h1.5v1.5h-1.5zM200.6 282.3h1.5v1.5h-1.5zM210.3 310.5h1.5v1.5h-1.5zM176.0 261.5h1.5v1.5h-1.5zM313.8 297.7h1.5v1.5h-1.5zM180.8 293.1h1.5v1.5h-1.5zM234.4 272.1h1.5v1.5h-1.5zM221.1 280.3h1.5v1.5h-1.5zM182.1 282.3h1.5v1.5h-1.5zM202.3 295.1h1.5v1.5h-1.5zM202.2 299.9h1.5v1.5h-1.5zM216.4 294.9h1.5v1.5h-1.5zM194.1 305.2h1.5v1.5h-1.5zM174.7 270.0h1.5v1.5h-1.5zM214.8 295.8h1.5v1.5h-1.5z"/>
<path fill="#ca0923" d="M265.6 297.9h1.5v1.5h-1.5zM182.2 274.3h1.5v1.5h-1.5zM200.5 302.3h1.5v1.5h-1.5zM184.8 300.5h1.5v1.5h-1.5zM232.5 300.6h1.5v1.5h-1.5zM254.8 291.9h1.5v1.5h-1.5zM153.6 224.3h1.5v1.5h-1.5zM202.0 276.5h1.5v1.5h-1.5zM163.6 250.1h1.5v1.5h-1.5zM197.4 296.8h1.5v1.5h-1.5zM215.1 273.9h1.5v1.5h-1.5zM195.5 283.1h1.5v1.5h-1.5zM179.1 256.1h1.5v1.5h-1.5zM164.5 279.1h1.5v1.5h-1.5zM202.0 266.7h1.5v1.5h-1.5zM193.1 299.2h1.5v1.5h-1.5zM200.7 284.6h1.5v1.5h-1.5zM226.0 278.7h1.5v1.5h-1.5zM186.4 286.7h1.5v1.5h-1.5zM202.0 304.5h1.5v1.5h-1.5zM153.1 203.5h1.5v1.5h-1.5zM310.6 311.5h1.5v1.5h-1.5zM395.3 309.4h1.5v1.5h-1.5zM196.0 289.5h1.5v1.5h-1.5zM153.7 180.7h1.5v1.5h-1.5zM199.0 296.5h1.5v1.5h-1.5zM194.9 289.8h1.5v1.5h-1.5zM371.9 313.1h1.5v1.5h-1.5zM331.5 308.9h1.5v1.5h-1.5zM240.8 307.0h1.5v1.5h-1.5zM278.9 293.4h1.5v1.5h-1.5zM163.4 269.6h1.5v1.5h-1.5zM185.8 289.6h1.5v1.5h-1.5zM199.4 283.3h1.5v1.5h-1.5zM202.4 297.2h1.5v1.5h-1.5zM156.4 284.9h1.5v1.5h-1.5zM195.2 254.5h1.5v1.5h-1.5zM162.2 180.7h1.5v1.5h-1.5zM197.0 279.9h1.5v1.5h-1.5zM177.0 177.0h1.5v1.5h-1.5zM207.3 300.5h1.5v1.5h-1.5zM226.8 308.4h1.5v1.5h-1.5zM188.0 283.1h1.5v1.5h-1.5zM231.6 309.3h1.5v1.5h-1.5zM179.5 297.7h1.5v1.5h-1.5zM235.9 307.8h1.5v1.5h-1.5zM157.9 288.9h1.5v1.5h-1.5zM158.4 109.1h1.5v1.5h-1.5zM209.7 280.4h1.5v1.5h-1.5zM203.2 285.1h1.5v1.5h-1.5zM231.4 292.8h1.5v1.5h-1.5zM223.4 299.9h1.5v1.5h-1.5zM186.8 301.4h1.5v1.5h-1.5zM189.7 291.1h1.5v1.5h-1.5zM204.5 291.6h1.5v1.5h-1.5zM182.6 281.7h1.5v1.5h-1.5zM233.6 293.2h1.5v1.5h-1.5zM181.6 290.2h1.5v1.5h-1.5zM184.1 270.7h1.5v1.5h-1.5zM201.5 277.1h1.5v1.5h-1.5zM205.0 297.5h1.5v1.5h-1.5zM294.6 297.7h1.5v1.5h-1.5z"/>
<path fill="#fa4a29" d="M189.4 294.3h1.5v1.5h-1.5zM180.6 286.5h1.5v1.5h-1.5zM162.2 157.4h1.5v1.5h-1.5zM152.6 183.0h1.5v1.5h-1.5zM182.3 245.7h1.5v1.5h-1.5zM152.9 216.7h1.5v1.5h-1.5zM170.4 218.4h1.5v1.5h-1.5zM165.6 210.5h1.5v1.5h-1.5zM176.9 287.2h1.5v1.5h-1.5zM179.3 233.9h1.5v1.5h-1.5zM164.5 296.1h1.5v1.5h-1.5zM173.2 260.1h1.5v1.5h-1.5zM175.1 257.4h1.5v1.5h-1.5zM152.7 253.3h1.5v1.5h-1.5z"/>
<path fill="#fd8f3d" d="M174.6 298.0h1.5v1.5h-1.5zM152.8 281.8h1.5v1.5h-1.5zM181.6 277.8h1.5v1.5h-1.5zM160.2 245.7h1.5v1.5h-1.5zM198.2 277.1h1.5v1.5h-1.5zM176.2 284.3h1.5v1.5h-1.5zM153.3 282.2h1.5v1.5h-1.5zM152.8 87.7h1.5v1.5h-1.5zM163.1 266.3h1.5v1.5h-1.5zM165.0 268.7h1.5v1.5h-1.5zM162.5 183.5h1.5v1.5h-1.5zM220.8 235.7h1.5v1.5h-1.5zM173.6 268.3h1.5v1.5h-1.5zM152.7 229.9h1.5v1.5h-1.5zM163.6 199.1h1.5v1.5h-1.5zM153.3 234.5h1.5v1.5h-1.5zM191.5 294.6h1.5v1.5h-1.5zM175.8 279.7h1.5v1.5h-1.5zM189.6 246.4h1.5v1.5h-1.5zM172.3 265.4h1.5v1.5h-1.5zM152.6 83.4h1.5v1.5h-1.5zM172.7 228.3h1.5v1.5h-1.5zM152.8 101.4h1.5v1.5h-1.5zM159.1 258.0h1.5v1.5h-1.5zM152.9 196.2h1.5v1.5h-1.5zM176.9 290.5h1.5v1.5h-1.5zM152.9 103.8h1.5v1.5h-1.5zM152.7 116.3h1.5v1.5h-1.5zM167.5 261.1h1.5v1.5h-1.5z"/>
<path fill="#970026" d="M201.5 295.3h1.5v1.5h-1.5zM185.7 297.1h1.5v1.5h-1.5zM185.6 305.1h1.5v1.5h-1.5zM239.0 292.9h1.5v1.5h-1.5zM180.3 266.3h1.5v1.5h-1.5zM185.0 277.5h1.5v1.5h-1.5zM204.0 277.3h1.5v1.5h-1.5zM215.3 300.6h1.5v1.5h-1.5zM198.0 291.6h1.5v1.5h-1.5z"/>
<path fill="#9f0026" d="M200.5 279.4h1.5v1.5h-1.5zM197.3 276.7h1.5v1.5h-1.5zM192.6 290.5h1.5v1.5h-1.5zM272.4 282.3h1.5v1.5h-1.5zM181.5 274.8h1.5v1.5h-1.5zM186.5 244.5h1.5v1.5h-1.5zM198.9 294.9h1.5v1.5h-1.5zM241.5 264.1h1.5v1.5h-1.5zM225.2 288.9h1.5v1.5h-1.5zM189.7 290.3h1.5v1.5h-1.5z"/>
<path fill="#a80026" d="M178.7 288.0h1.5v1.5h-1.5zM185.6 299.4h1.5v1.5h-1.5zM191.2 291.4h1.5v1.5h-1.5zM222.1 298.5h1.5v1.5h-1.5zM226.2 296.9h1.5v1.5h-1.5zM190.6 303.0h1.5v1.5h-1.5zM214.2 300.8h1.5v1.5h-1.5zM201.5 303.9h1.5v1.5h-1.5zM183.7 259.7h1.5v1.5h-1.5zM220.9 295.7h1.5v1.5h-1.5zM185.0 277.3h1.5v1.5h-1.5zM199.4 283.2h1.5v1.5h-1.5zM184.5 295.3h1.5v1.5h-1.5zM256.6 303.2h1.5v1.5h-1.5zM188.1 296.1h1.5v1.5h-1.5zM192.7 296.9h1.5v1.5h-1.5zM197.1 288.0h1.5v1.5h-1.5zM234.4 289.5h1.5v1.5h-1.5zM348.5 309.1h1.5v1.5h-1.5zM206.8 294.7h1.5v1.5h-1.5zM188.7 242.2h1.5v1.5h-1.5zM164.1 286.8h1.5v1.5h-1.5z"/>
<path fill="#fd883b" d="M152.5 72.4h1.5v1.5h-1.5zM186.3 300.5h1.5v1.5h-1.5zM163.0 283.3h1.5v1.5h-1.5zM168.5 217.2h1.5v1.5h-1.5zM173.5 269.5h1.5v1.5h-1.5zM157.0 131.8h1.5v1.5h-1.5zM178.0 306.0h1.5v1.5h-1.5zM160.2 248.5h1.5v1.5h-1.5zM168.7 275.5h1.5v1.5h-1.5zM152.8 18.0h1.5v1.5h-1.5zM152.8 166.1h1.5v1.5h-1.5zM177.2 290.6h1.5v1.5h-1.5zM153.4 84.5h1.5v1.5h-1.5zM152.5 125.3h1.5v1.5h-1.5zM166.3 276.4h1.5v1.5h-1.5zM173.1 232.2h1.5v1.5h-1.5zM182.1 280.6h1.5v1.5h-1.5zM172.2 281.2h1.5v1.5h-1.5zM184.4 303.1h1.5v1.5h-1.5zM180.2 300.4h1.5v1.5h-1.5zM184.3 290.3h1.5v1.5h-1.5zM152.8 173.3h1.5v1.5h-1.5zM152.5 232.5h1.5v1.5h-1.5zM152.9 119.0h1.5v1.5h-1.5zM164.1 275.0h1.5v1.5h-1.5zM173.5 272.2h1.5v1.5h-1.5zM222.5 249.7h1.5v1.5h-1.5zM166.0 288.4h1.5v1.5h-1.5zM152.6 65.2h1.5v1.5h-1.5zM163.8 232.3h1.5v1.5h-1.5zM168.1 255.8h1.5v1.5h-1.5zM173.2 248.7h1.5v1.5h-1.5zM173.4 260.6h1.5v1.5h-1.5zM161.3 224.5h1.5v1.5h-1.5z"/>
<path fill="#fd7636" d="M174.6 283.2h1.5v1.5h-1.5zM185.7 289.6h1.5v1.5h-1.5zM152.7 189.4h1.5v1.5h-1.5zM152.5 38.0h1.5v1.5h-1.5zM164.1 264.7h1.5v1.5h-1.5zM152.7 71.3h1.5v1.5h-1.5zM152.6 67.5h1.5v1.5h-1.5zM188.6 298.7h1.5v1.5h-1.5zM152.9 59.6h1.5v1.5h-1.5zM153.1 254.5h1.5v1.5h-1.5zM152.8 58.8h1.5v1.5h-1.5zM153.6 221.7h1.5v1.5h-1.5zM153.6 282.3h1.5v1.5h-1.5zM152.8 82.9h1.5v1.5h-1.5zM152.6 63.5h1.5v1.5h-1.5zM187.9 274.6h1.5v1.5h-1.5zM165.8 236.6h1.5v1.5h-1.5zM192.1 305.5h1.5v1.5h-1.5zM152.7 27.7h1.5v1.5h-1.5zM152.5 38.6h1.5v1.5h-1.5zM152.7 217.6h1.5v1.5h-1.5zM152.6 106.3h1.5v1.5h-1.5zM157.5 232.0h1.5v1.5h-1.5zM160.5 171.6h1.5v1.5h-1.5zM170.5 287.6h1.5v1.5h-1.5zM170.8 277.1h1.5v1.5h-1.5zM152.8 40.1h1.5v1.5h-1.5zM168.5 197.7h1.5v1.5h-1.5zM155.0 266.3h1.5v1.5h-1.5zM174.8 270.1h1.5v1.5h-1.5zM172.4 264.7h1.5v1.5h-1.5zM172.0 268.5h1.5v1.5h-1.5zM165.1 291.0h1.5v1.5h-1.5zM152.8 197.6h1.5v1.5h-1.5zM205.4 269.0h1.5v1.5h-1.5zM153.1 253.5h1.5v1.5h-1.5zM152.8 78.0h1.5v1.5h-1.5z"/>
<path fill="#febf5a" d="M158.8 215.5h1.5v1.5h-1.5zM153.2 184.2h1.5v1.5h-1.5zM173.7 216.2h1.5v1.5h-1.5zM170.0 225.6h1.5v1.5h-1.5zM152.8 279.6h1.5v1.5h-1.5zM152.8 195.1h1.5v1.5h-1.5zM172.7 272.1h1.5v1.5h-1.5zM171.8 268.4h1.5v1.5h-1.5zM152.5 286.0h1.5v1.5h-1.5zM152.7 193.1h1.5v1.5h-1.5zM152.9 242.3h1.5v1.5h-1.5zM157.3 249.6h1.5v1.5h-1.5zM166.9 266.0h1.5v1.5h-1.5zM158.1 177.5h1.5v1.5h-1.5zM182.1 292.0h1.5v1.5h-1.5zM152.9 181.0h1.5v1.5h-1.5zM174.0 242.7h1.5v1.5h-1.5zM152.6 254.1h1.5v1.5h-1.5zM156.9 248.0h1.5v1.5h-1.5zM182.3 299.7h1.5v1.5h-1.5zM165.7 258.7h1.5v1.5h-1.5zM159.8 247.7h1.5v1.5h-1.5z"/>
<path fill="#fedd7e" d="M152.9 278.8h1.5v1.5h-1.5zM175.8 280.9h1.5v1.5h-1.5zM180.1 274.3h1.5v1.5h-1.5zM152.6 143.6h1.5v1.5h-1.5zM175.8 209.1h1.5v1.5h-1.5z"/>
<path fill="#fc5b2e" d="M159.3 174.6h1.5v1.5h-1.5zM168.0 230.3h1.5v1.5h-1.5zM169.9 278.9h1.5v1.5h-1.5zM172.2 264.5h1.5v1.5h-1.5zM188.4 290.8h1.5v1.5h-1.5zM164.0 287.6h1.5v1.5h-1.5zM152.9 250.0h1.5v1.5h-1.5zM152.6 39.8h1.5v1.5h-1.5z"/>
<path fill="#fee084" d="M152.9 227.0h1.5v1.5h-1.5zM158.9 241.1h1.5v1.5h-1.5zM167.7 289.6h1.5v1.5h-1.5z"/>
<path fill="#fffdc6" d="M171.1 295.5h1.5v1.5h-1.5zM179.2 311.8h1.5v1.5h-1.5z"/>
<path fill="#ec2c21" d="M169.8 282.0h1.5v1.5h-1.5zM179.1 256.5h1.5v1.5h-1.5zM165.1 275.4h1.5v1.5h-1.5zM152.9 283.2h1.5v1.5h-1.5zM161.2 273.6h1.5v1.5h-1.5zM187.8 291.8h1.5v1.5h-1.5zM152.6 150.6h1.5v1.5h-1.5zM175.6 286.0h1.5v1.5h-1.5zM156.5 189.0h1.5v1.5h-1.5zM152.7 173.9h1.5v1.5h-1.5zM182.8 262.3h1.5v1.5h-1.5zM154.3 203.1h1.5v1.5h-1.5zM206.9 256.5h1.5v1.5h-1.5zM156.9 191.4h1.5v1.5h-1.5zM169.3 261.4h1.5v1.5h-1.5zM159.7 197.3h1.5v1.5h-1.5zM171.4 278.0h1.5v1.5h-1.5zM167.8 257.1h1.5v1.5h-1.5zM170.9 268.7h1.5v1.5h-1.5zM200.4 302.8h1.5v1.5h-1.5zM153.5 187.9h1.5v1.5h-1.5zM158.3 275.5h1.5v1.5h-1.5zM181.1 288.3h1.5v1.5h-1.5zM152.9 252.8h1.5v1.5h-1.5zM202.5 288.0h1.5v1.5h-1.5zM197.4 297.4h1.5v1.5h-1.5zM260.4 278.0h1.5v1.5h-1.5zM206.5 240.0h1.5v1.5h-1.5zM185.9 295.8h1.5v1.5h-1.5zM158.9 274.5h1.5v1.5h-1.5zM176.0 292.9h1.5v1.5h-1.5zM156.5 259.8h1.5v1.5h-1.5zM193.2 288.9h1.5v1.5h-1.5zM152.6 201.1h1.5v1.5h-1.5zM179.6 275.7h1.5v1.5h-1.5z"/>
<path fill="#fed572" d="M169.9 247.0h1.5v1.5h-1.5zM161.3 261.3h1.5v1.5h-1.5zM178.8 261.1h1.5v1.5h-1.5zM152.8 188.4h1.5v1.5h-1.5zM165.5 246.6h1.5v1.5h-1.5zM152.8 150.3h1.5v1.5h-1.5zM160.9 286.4h1.5v1.5h-1.5zM158.3 200.8h1.5v1.5h-1.5zM164.8 267.2h1.5v1.5h-1.5z"/>
<path fill="#fc6430" d="M168.8 178.6h1.5v1.5h-1.5zM159.6 195.5h1.5v1.5h-1.5zM152.9 38.9h1.5v1.5h-1.5zM164.7 285.1h1.5v1.5h-1.5zM164.6 244.4h1.5v1.5h-1.5zM161.0 265.5h1.5v1.5h-1.5zM180.8 301.0h1.5v1.5h-1.5zM182.0 302.5h1.5v1.5h-1.5zM174.5 261.0h1.5v1.5h-1.5zM173.9 271.4h1.5v1.5h-1.5zM188.5 291.9h1.5v1.5h-1.5zM175.0 288.3h1.5v1.5h-1.5zM182.9 112.0h1.5v1.5h-1.5zM152.9 281.1h1.5v1.5h-1.5zM157.6 259.3h1.5v1.5h-1.5zM168.5 267.1h1.5v1.5h-1.5z"/>
<path fill="#860026" d="M181.4 288.9h1.5v1.5h-1.5zM197.1 295.3h1.5v1.5h-1.5zM197.8 301.8h1.5v1.5h-1.5zM206.2 278.9h1.5v1.5h-1.5zM214.6 283.9h1.5v1.5h-1.5zM245.6 282.0h1.5v1.5h-1.5z"/>
<path fill="#feb44e" d="M169.7 288.3h1.5v1.5h-1.5zM153.5 202.5h1.5v1.5h-1.5zM181.9 252.5h1.5v1.5h-1.5zM176.7 256.8h1.5v1.5h-1.5zM163.4 273.1h1.5v1.5h-1.5zM174.0 277.7h1.5v1.5h-1.5zM160.4 261.9h1.5v1.5h-1.5zM214.0 301.2h1.5v1.5h-1.5zM153.3 153.6h1.5v1.5h-1.5zM157.8 251.3h1.5v1.5h-1.5zM162.6 274.0h1.5v1.5h-1.5zM182.0 299.1h1.5v1.5h-1.5zM161.2 226.2h1.5v1.5h-1.5zM171.7 273.3h1.5v1.5h-1.5zM157.8 247.9h1.5v1.5h-1.5zM182.4 297.9h1.5v1.5h-1.5zM197.5 300.0h1.5v1.5h-1.5zM185.3 285.6h1.5v1.5h-1.5zM153.1 224.8h1.5v1.5h-1.5zM184.2 283.6h1.5v1.5h-1.5zM177.6 269.9h1.5v1.5h-1.5z"/>
<path fill="#f74327" d="M158.9 248.5h1.5v1.5h-1.5zM163.8 237.4h1.5v1.5h-1.5zM152.5 235.8h1.5v1.5h-1.5zM152.5 163.5h1.5v1.5h-1.5zM153.3 252.0h1.5v1.5h-1.5zM167.3 257.2h1.5v1.5h-1.5zM158.5 202.2h1.5v1.5h-1.5zM248.3 292.5h1.5v1.5h-1.5zM153.6 252.4h1.5v1.5h-1.5zM177.8 264.4h1.5v1.5h-1.5zM154.9 273.2h1.5v1.5h-1.5zM154.0 231.1h1.5v1.5h-1.5zM176.5 261.5h1.5v1.5h-1.5zM153.2 118.4h1.5v1.5h-1.5z"/>
<path fill="#fc6c33" d="M155.4 175.2h1.5v1.5h-1.5zM175.3 242.9h1.5v1.5h-1.5zM152.6 49.7h1.5v1.5h-1.5zM152.7 36.6h1.5v1.5h-1.5zM152.9 22.2h1.5v1.5h-1.5zM158.4 215.1h1.5v1.5h-1.5zM153.4 144.2h1.5v1.5h-1.5zM152.9 17.7h1.5v1.5h-1.5zM152.7 253.6h1.5v1.5h-1.5zM152.6 55.1h1.5v1.5h-1.5zM172.5 269.3h1.5v1.5h-1.5zM169.3 281.2h1.5v1.5h-1.5zM181.2 242.1h1.5v1.5h-1.5zM174.3 284.3h1.5v1.5h-1.5zM153.2 224.6h1.5v1.5h-1.5zM152.9 50.2h1.5v1.5h-1.5zM173.7 265.7h1.5v1.5h-1.5zM155.1 267.4h1.5v1.5h-1.5z"/>
<path fill="#feda78" d="M175.6 237.4h1.5v1.5h-1.5zM152.7 254.0h1.5v1.5h-1.5zM180.3 284.6h1.5v1.5h-1.5zM152.8 280.9h1.5v1.5h-1.5z"/>
<path fill="#fee289" d="M171.6 256.5h1.5v1.5h-1.5z"/>
<path fill="#ffe590" d="M183.3 296.5h1.5v1.5h-1.5zM177.2 290.2h1.5v1.5h-1.5z"/>
<path fill="#fff3ae" d="M162.2 312.8h1.5v1.5h-1.5zM175.1 269.0h1.5v1.5h-1.5z"/>
<path fill="#fff0a8" d="M164.2 313.8h1.5v1.5h-1.5z"/>
<path fill="#ffe895" d="M182.8 303.8h1.5v1.5h-1.5z"/>
<path fill="#c50624" d="M207.0 301.2h1.5v1.5h-1.5zM206.6 279.9h1.5v1.5h-1.5zM201.0 294.4h1.5v1.5h-1.5zM218.8 305.4h1.5v1.5h-1.5zM233.5 291.9h1.5v1.5h-1.5zM189.1 296.8h1.5v1.5h-1.5zM205.8 282.5h1.5v1.5h-1.5zM196.0 298.3h1.5v1.5h-1.5zM236.0 252.8h1.5v1.5h-1.5zM178.2 288.9h1.5v1.5h-1.5zM242.4 297.6h1.5v1.5h-1.5zM180.1 289.5h1.5v1.5h-1.5zM208.2 294.2h1.5v1.5h-1.5zM183.7 270.8h1.5v1.5h-1.5zM249.4 287.6h1.5v1.5h-1.5zM193.8 274.4h1.5v1.5h-1.5zM441.4 307.9h1.5v1.5h-1.5zM157.8 258.3h1.5v1.5h-1.5zM184.3 286.6h1.5v1.5h-1.5zM251.8 308.3h1.5v1.5h-1.5zM153.4 233.3h1.5v1.5h-1.5zM169.0 250.2h1.5v1.5h-1.5zM207.0 263.5h1.5v1.5h-1.5zM285.1 298.5h1.5v1.5h-1.5zM164.7 230.7h1.5v1.5h-1.5zM199.0 284.1h1.5v1.5h-1.5zM185.0 240.3h1.5v1.5h-1.5zM190.0 287.1h1.5v1.5h-1.5zM193.0 280.6h1.5v1.5h-1.5zM198.9 284.9h1.5v1.5h-1.5zM210.6 293.3h1.5v1.5h-1.5zM180.7 291.2h1.5v1.5h-1.5zM197.8 283.1h1.5v1.5h-1.5zM204.4 268.7h1.5v1.5h-1.5zM181.2 254.1h1.5v1.5h-1.5zM159.4 258.1h1.5v1.5h-1.5zM164.0 280.8h1.5v1.5h-1.5zM187.0 301.2h1.5v1.5h-1.5zM215.1 292.9h1.5v1.5h-1.5zM378.8 305.2h1.5v1.5h-1.5zM225.5 293.9h1.5v1.5h-1.5zM179.5 283.3h1.5v1.5h-1.5zM204.1 293.2h1.5v1.5h-1.5zM180.2 303.6h1.5v1.5h-1.5zM239.8 310.2h1.5v1.5h-1.5zM189.9 296.8h1.5v1.5h-1.5zM248.1 291.2h1.5v1.5h-1.5zM181.1 286.8h1.5v1.5h-1.5zM182.4 242.1h1.5v1.5h-1.5zM225.1 274.4h1.5v1.5h-1.5zM200.3 302.6h1.5v1.5h-1.5zM177.7 288.9h1.5v1.5h-1.5zM182.6 294.4h1.5v1.5h-1.5zM182.3 245.3h1.5v1.5h-1.5zM196.5 297.6h1.5v1.5h-1.5zM481.1 308.6h1.5v1.5h-1.5z"/>
<path fill="#a80026" d="M199.9 295.6h1.5v1.5h-1.5zM181.4 279.3h1.5v1.5h-1.5zM185.4 273.4h1.5v1.5h-1.5zM195.9 304.8h1.5v1.5h-1.5zM200.2 288.9h1.5v1.5h-1.5zM197.4 307.0h1.5v1.5h-1.5zM214.4 269.0h1.5v1.5h-1.5zM156.2 185.3h1.5v1.5h-1.5zM190.8 306.4h1.5v1.5h-1.5zM199.5 304.4h1.5v1.5h-1.5zM205.8 258.5h1.5v1.5h-1.5zM245.7 287.7h1.5v1.5h-1.5zM208.6 302.8h1.5v1.5h-1.5zM202.2 298.8h1.5v1.5h-1.5zM198.5 282.0h1.5v1.5h-1.5zM215.1 294.7h1.5v1.5h-1.5zM198.3 306.0h1.5v1.5h-1.5zM184.1 295.3h1.5v1.5h-1.5zM186.8 264.6h1.5v1.5h-1.5z"/>
<path fill="#fd953f" d="M178.0 278.6h1.5v1.5h-1.5zM152.6 240.9h1.5v1.5h-1.5zM171.7 261.4h1.5v1.5h-1.5zM178.9 299.2h1.5v1.5h-1.5zM152.7 207.3h1.5v1.5h-1.5zM176.1 262.0h1.5v1.5h-1.5zM172.3 277.5h1.5v1.5h-1.5zM154.8 277.2h1.5v1.5h-1.5zM163.9 278.9h1.5v1.5h-1.5zM163.1 215.9h1.5v1.5h-1.5zM152.9 125.7h1.5v1.5h-1.5zM157.1 227.9h1.5v1.5h-1.5zM166.5 284.9h1.5v1.5h-1.5zM153.2 221.4h1.5v1.5h-1.5zM153.3 274.9h1.5v1.5h-1.5zM174.6 289.6h1.5v1.5h-1.5zM152.6 129.4h1.5v1.5h-1.5zM173.6 281.7h1.5v1.5h-1.5zM152.5 94.5h1.5v1.5h-1.5zM179.5 291.8h1.5v1.5h-1.5zM175.6 262.2h1.5v1.5h-1.5zM163.5 286.4h1.5v1.5h-1.5zM160.6 177.0h1.5v1.5h-1.5zM168.9 268.7h1.5v1.5h-1.5zM152.7 208.7h1.5v1.5h-1.5zM153.1 280.1h1.5v1.5h-1.5zM178.1 288.3h1.5v1.5h-1.5zM152.9 261.9h1.5v1.5h-1.5zM152.8 173.4h1.5v1.5h-1.5zM152.8 281.6h1.5v1.5h-1.5zM176.7 287.0h1.5v1.5h-1.5zM158.7 171.0h1.5v1.5h-1.5zM182.7 272.7h1.5v1.5h-1.5zM177.8 296.9h1.5v1.5h-1.5zM173.8 187.5h1.5v1.5h-1.5zM180.6 225.7h1.5v1.5h-1.5zM186.0 287.7h1.5v1.5h-1.5zM165.8 219.9h1.5v1.5h-1.5z"/>
<path fill="#fd7636" d="M172.6 290.9h1.5v1.5h-1.5zM181.9 290.6h1.5v1.5h-1.5zM152.8 78.2h1.5v1.5h-1.5zM171.4 264.6h1.5v1.5h-1.5zM234.3 264.4h1.5v1.5h-1.5zM152.6 73.6h1.5v1.5h-1.5zM152.7 70.8h1.5v1.5h-1.5zM186.2 287.6h1.5v1.5h-1.5zM171.3 230.3h1.5v1.5h-1.5zM172.4 272.1h1.5v1.5h-1.5zM177.5 296.9h1.5v1.5h-1.5zM171.0 278.6h1.5v1.5h-1.5zM152.8 67.2h1.5v1.5h-1.5zM152.9 278.8h1.5v1.5h-1.5zM173.7 243.3h1.5v1.5h-1.5zM152.6 51.7h1.5v1.5h-1.5zM166.2 192.5h1.5v1.5h-1.5zM162.6 241.8h1.5v1.5h-1.5zM167.9 220.6h1.5v1.5h-1.5zM165.6 259.6h1.5v1.5h-1.5zM152.6 124.1h1.5v1.5h-1.5zM179.5 277.6h1.5v1.5h-1.5zM152.6 150.1h1.5v1.5h-1.5zM185.8 258.1h1.5v1.5h-1.5zM218.3 275.2h1.5v1.5h-1.5z"/>
<path fill="#f74327" d="M157.1 266.8h1.5v1.5h-1.5zM164.2 242.8h1.5v1.5h-1.5zM153.1 191.6h1.5v1.5h-1.5zM177.6 260.4h1.5v1.5h-1.5zM176.0 260.4h1.5v1.5h-1.5zM184.2 298.5h1.5v1.5h-1.5zM152.7 250.3h1.5v1.5h-1.5zM152.8 163.5h1.5v1.5h-1.5zM153.1 194.0h1.5v1.5h-1.5zM210.6 303.7h1.5v1.5h-1.5zM162.6 279.5h1.5v1.5h-1.5zM164.3 267.8h1.5v1.5h-1.5zM163.1 269.5h1.5v1.5h-1.5zM160.1 268.0h1.5v1.5h-1.5zM165.0 209.4h1.5v1.5h-1.5zM184.5 292.9h1.5v1.5h-1.5zM165.3 273.3h1.5v1.5h-1.5zM199.3 297.4h1.5v1.5h-1.5zM181.2 164.8h1.5v1.5h-1.5zM215.6 249.3h1.5v1.5h-1.5zM153.0 270.4h1.5v1.5h-1.5zM161.5 253.6h1.5v1.5h-1.5zM152.6 91.7h1.5v1.5h-1.5z"/>
<path fill="#d00d21" d="M266.6 298.8h1.5v1.5h-1.5zM213.1 304.1h1.5v1.5h-1.5zM177.6 260.1h1.5v1.5h-1.5zM215.1 283.9h1.5v1.5h-1.5zM220.8 302.1h1.5v1.5h-1.5zM202.2 274.3h1.5v1.5h-1.5zM157.9 117.8h1.5v1.5h-1.5zM224.4 277.5h1.5v1.5h-1.5zM176.9 254.2h1.5v1.5h-1.5zM165.6 275.1h1.5v1.5h-1.5zM250.2 290.8h1.5v1.5h-1.5zM225.9 301.8h1.5v1.5h-1.5zM197.1 297.7h1.5v1.5h-1.5zM171.3 241.4h1.5v1.5h-1.5zM187.1 277.5h1.5v1.5h-1.5zM167.4 213.1h1.5v1.5h-1.5zM217.5 284.3h1.5v1.5h-1.5zM219.0 304.2h1.5v1.5h-1.5zM189.9 280.7h1.5v1.5h-1.5zM207.8 291.3h1.5v1.5h-1.5zM229.2 228.9h1.5v1.5h-1.5zM196.8 305.6h1.5v1.5h-1.5zM189.3 267.5h1.5v1.5h-1.5zM175.5 295.4h1.5v1.5h-1.5zM244.1 293.2h1.5v1.5h-1.5zM199.8 282.7h1.5v1.5h-1.5zM279.2 306.5h1.5v1.5h-1.5zM196.4 268.4h1.5v1.5h-1.5zM188.6 285.9h1.5v1.5h-1.5zM161.9 181.0h1.5v1.5h-1.5zM200.7 274.8h1.5v1.5h-1.5zM157.7 192.0h1.5v1.5h-1.5zM274.4 298.2h1.5v1.5h-1.5zM189.9 240.5h1.5v1.5h-1.5zM183.5 233.8h1.5v1.5h-1.5zM215.6 268.7h1.5v1.5h-1.5zM236.9 288.9h1.5v1.5h-1.5zM159.8 218.2h1.5v1.5h-1.5zM156.8 223.1h1.5v1.5h-1.5zM207.1 304.7h1.5v1.5h-1.5zM247.0 283.5h1.5v1.5h-1.5zM192.4 282.4h1.5v1.5h-1.5zM188.9 299.7h1.5v1.5h-1.5zM197.4 283.6h1.5v1.5h-1.5zM178.7 249.3h1.5v1.5h-1.5zM177.9 291.6h1.5v1.5h-1.5zM225.5 302.8h1.5v1.5h-1.5zM192.0 300.8h1.5v1.5h-1.5zM195.7 286.7h1.5v1.5h-1.5zM264.5 311.9h1.5v1.5h-1.5zM197.2 278.8h1.5v1.5h-1.5zM193.8 289.6h1.5v1.5h-1.5zM197.0 294.3h1.5v1.5h-1.5zM210.6 297.2h1.5v1.5h-1.5zM258.3 303.8h1.5v1.5h-1.5zM214.7 303.3h1.5v1.5h-1.5zM197.2 278.3h1.5v1.5h-1.5zM204.5 274.7h1.5v1.5h-1.5zM223.1 281.0h1.5v1.5h-1.5zM163.4 251.2h1.5v1.5h-1.5zM175.3 152.5h1.5v1.5h-1.5zM230.3 277.4h1.5v1.5h-1.5zM200.9 274.4h1.5v1.5h-1.5zM185.1 259.9h1.5v1.5h-1.5zM212.6 305.7h1.5v1.5h-1.5zM168.2 228.9h1.5v1.5h-1.5zM203.8 268.1h1.5v1.5h-1.5zM158.8 199.1h1.5v1.5h-1.5zM237.6 275.1h1.5v1.5h-1.5z"/>
<path fill="#fea446" d="M169.4 268.0h1.5v1.5h-1.5zM185.2 287.8h1.5v1.5h-1.5zM169.3 236.3h1.5v1.5h-1.5zM152.6 255.7h1.5v1.5h-1.5zM152.8 257.7h1.5v1.5h-1.5zM152.6 87.5h1.5v1.5h-1.5zM174.7 259.2h1.5v1.5h-1.5zM168.0 206.5h1.5v1.5h-1.5zM160.6 209.0h1.5v1.5h-1.5zM153.1 234.5h1.5v1.5h-1.5zM152.6 257.8h1.5v1.5h-1.5zM199.8 257.7h1.5v1.5h-1.5zM152.5 123.7h1.5v1.5h-1.5zM173.2 301.2h1.5v1.5h-1.5zM174.4 263.3h1.5v1.5h-1.5zM187.7 290.4h1.5v1.5h-1.5zM152.5 149.9h1.5v1.5h-1.5zM152.7 223.7h1.5v1.5h-1.5zM153.1 225.3h1.5v1.5h-1.5zM185.1 294.2h1.5v1.5h-1.5zM161.9 276.3h1.5v1.5h-1.5zM152.9 124.4h1.5v1.5h-1.5zM166.7 231.1h1.5v1.5h-1.5zM181.2 297.5h1.5v1.5h-1.5zM152.8 288.4h1.5v1.5h-1.5zM176.2 264.4h1.5v1.5h-1.5zM197.4 205.3h1.5v1.5h-1.5zM159.1 201.0h1.5v1.5h-1.5zM168.8 267.6h1.5v1.5h-1.5zM189.4 280.1h1.5v1.5h-1.5zM153.0 281.5h1.5v1.5h-1.5zM183.9 300.4h1.5v1.5h-1.5zM164.0 247.0h1.5v1.5h-1.5zM181.7 180.9h1.5v1.5h-1.5zM152.8 155.0h1.5v1.5h-1.5zM182.3 222.9h1.5v1.5h-1.5zM169.4 214.9h1.5v1.5h-1.5zM178.0 276.3h1.5v1.5h-1.5zM188.6 301.2h1.5v1.5h-1.5zM164.8 242.4h1.5v1.5h-1.5z"/>
<path fill="#feae4a" d="M153.3 248.7h1.5v1.5h-1.5zM163.1 291.5h1.5v1.5h-1.5zM152.6 247.6h1.5v1.5h-1.5zM153.5 240.4h1.5v1.5h-1.5zM197.1 259.5h1.5v1.5h-1.5zM152.7 249.9h1.5v1.5h-1.5zM184.6 295.7h1.5v1.5h-1.5zM164.4 148.9h1.5v1.5h-1.5zM157.8 227.8h1.5v1.5h-1.5zM152.8 233.1h1.5v1.5h-1.5zM153.4 245.6h1.5v1.5h-1.5zM169.7 272.5h1.5v1.5h-1.5zM175.1 284.5h1.5v1.5h-1.5zM161.9 285.3h1.5v1.5h-1.5zM170.6 213.1h1.5v1.5h-1.5zM169.2 245.0h1.5v1.5h-1.5zM152.5 206.2h1.5v1.5h-1.5zM171.5 273.5h1.5v1.5h-1.5zM152.7 239.2h1.5v1.5h-1.5zM177.5 280.6h1.5v1.5h-1.5zM174.1 287.7h1.5v1.5h-1.5zM169.2 253.1h1.5v1.5h-1.5zM184.5 299.1h1.5v1.5h-1.5zM166.6 283.9h1.5v1.5h-1.5zM153.5 234.3h1.5v1.5h-1.5zM155.4 180.5h1.5v1.5h-1.5zM162.3 262.2h1.5v1.5h-1.5zM160.6 253.5h1.5v1.5h-1.5zM161.8 285.1h1.5v1.5h-1.5zM175.3 263.3h1.5v1.5h-1.5zM172.7 286.5h1.5v1.5h-1.5zM173.2 291.1h1.5v1.5h-1.5zM185.6 282.4h1.5v1.5h-1.5zM173.2 298.8h1.5v1.5h-1.5zM165.6 256.0h1.5v1.5h-1.5zM171.6 271.8h1.5v1.5h-1.5zM153.6 264.5h1.5v1.5h-1.5zM184.5 266.5h1.5v1.5h-1.5zM161.6 186.6h1.5v1.5h-1.5zM152.7 196.5h1.5v1.5h-1.5zM168.3 231.9h1.5v1.5h-1.5zM172.4 257.5h1.5v1.5h-1.5zM165.5 259.6h1.5v1.5h-1.5z"/>
<path fill="#db141e" d="M153.6 181.1h1.5v1.5h-1.5zM152.7 148.9h1.5v1.5h-1.5zM232.1 279.3h1.5v1.5h-1.5zM155.5 169.9h1.5v1.5h-1.5zM182.5 283.3h1.5v1.5h-1.5zM167.6 204.5h1.5v1.5h-1.5zM179.3 248.9h1.5v1.5h-1.5zM196.3 297.1h1.5v1.5h-1.5zM195.7 266.1h1.5v1.5h-1.5zM222.5 287.7h1.5v1.5h-1.5zM240.9 295.7h1.5v1.5h-1.5zM204.3 286.1h1.5v1.5h-1.5zM220.9 294.2h1.5v1.5h-1.5zM171.7 173.6h1.5v1.5h-1.5zM162.2 227.8h1.5v1.5h-1.5zM190.5 286.7h1.5v1.5h-1.5zM154.2 235.3h1.5v1.5h-1.5zM208.0 284.0h1.5v1.5h-1.5zM153.3 226.2h1.5v1.5h-1.5zM175.9 257.7h1.5v1.5h-1.5zM186.7 304.6h1.5v1.5h-1.5zM199.5 266.7h1.5v1.5h-1.5zM154.9 287.5h1.5v1.5h-1.5zM220.2 304.4h1.5v1.5h-1.5zM152.8 232.5h1.5v1.5h-1.5zM174.8 153.1h1.5v1.5h-1.5zM160.3 242.9h1.5v1.5h-1.5zM218.1 299.8h1.5v1.5h-1.5zM164.2 246.5h1.5v1.5h-1.5zM161.4 228.4h1.5v1.5h-1.5zM179.2 200.2h1.5v1.5h-1.5zM160.3 258.4h1.5v1.5h-1.5zM205.3 295.8h1.5v1.5h-1.5zM158.8 233.7h1.5v1.5h-1.5zM179.0 301.2h1.5v1.5h-1.5zM212.4 285.4h1.5v1.5h-1.5zM200.8 275.0h1.5v1.5h-1.5zM174.4 146.8h1.5v1.5h-1.5zM179.6 271.3h1.5v1.5h-1.5zM224.4 297.8h1.5v1.5h-1.5zM209.0 292.9h1.5v1.5h-1.5zM188.8 302.2h1.5v1.5h-1.5zM237.3 280.7h1.5v1.5h-1.5zM197.5 299.6h1.5v1.5h-1.5zM183.6 277.9h1.5v1.5h-1.5zM162.1 194.5h1.5v1.5h-1.5zM173.9 276.1h1.5v1.5h-1.5zM154.4 232.7h1.5v1.5h-1.5zM185.8 304.2h1.5v1.5h-1.5zM202.7 292.3h1.5v1.5h-1.5zM169.7 263.8h1.5v1.5h-1.5zM158.1 263.6h1.5v1.5h-1.5zM175.7 295.9h1.5v1.5h-1.5zM188.6 294.9h1.5v1.5h-1.5zM224.7 303.7h1.5v1.5h-1.5zM191.8 295.3h1.5v1.5h-1.5z"/>
<path fill="#ca0923" d="M194.9 296.8h1.5v1.5h-1.5zM229.7 294.8h1.5v1.5h-1.5zM196.9 283.0h1.5v1.5h-1.5zM185.7 293.3h1.5v1.5h-1.5zM188.5 295.1h1.5v1.5h-1.5zM302.1 299.9h1.5v1.5h-1.5zM238.3 299.3h1.5v1.5h-1.5zM283.2 289.8h1.5v1.5h-1.5zM216.0 286.5h1.5v1.5h-1.5zM188.7 278.8h1.5v1.5h-1.5zM192.5 240.7h1.5v1.5h-1.5zM163.1 231.1h1.5v1.5h-1.5zM231.4 300.5h1.5v1.5h-1.5zM183.3 291.3h1.5v1.5h-1.5zM227.5 278.7h1.5v1.5h-1.5zM276.2 296.4h1.5v1.5h-1.5zM237.3 283.0h1.5v1.5h-1.5zM243.4 287.8h1.5v1.5h-1.5zM185.6 282.9h1.5v1.5h-1.5zM182.6 307.0h1.5v1.5h-1.5zM185.8 270.8h1.5v1.5h-1.5zM197.5 273.3h1.5v1.5h-1.5zM178.3 257.6h1.5v1.5h-1.5zM247.7 301.5h1.5v1.5h-1.5zM177.4 298.3h1.5v1.5h-1.5zM228.4 301.6h1.5v1.5h-1.5zM194.5 265.5h1.5v1.5h-1.5zM207.1 298.2h1.5v1.5h-1.5zM162.9 178.5h1.5v1.5h-1.5zM268.9 289.0h1.5v1.5h-1.5zM177.3 225.1h1.5v1.5h-1.5zM152.7 51.8h1.5v1.5h-1.5zM197.8 306.7h1.5v1.5h-1.5zM175.3 283.6h1.5v1.5h-1.5zM206.0 297.1h1.5v1.5h-1.5zM178.4 296.0h1.5v1.5h-1.5zM160.4 244.5h1.5v1.5h-1.5zM244.5 301.2h1.5v1.5h-1.5zM180.3 283.9h1.5v1.5h-1.5zM349.6 302.2h1.5v1.5h-1.5zM227.7 286.2h1.5v1.5h-1.5zM161.1 134.2h1.5v1.5h-1.5zM272.7 304.1h1.5v1.5h-1.5zM154.6 150.9h1.5v1.5h-1.5zM185.1 279.7h1.5v1.5h-1.5zM191.3 295.6h1.5v1.5h-1.5zM226.2 294.7h1.5v1.5h-1.5zM194.4 289.6h1.5v1.5h-1.5zM204.7 279.7h1.5v1.5h-1.5zM217.9 288.8h1.5v1.5h-1.5zM194.4 299.0h1.5v1.5h-1.5zM186.5 271.2h1.5v1.5h-1.5zM225.2 281.4h1.5v1.5h-1.5zM294.1 301.2h1.5v1.5h-1.5zM231.9 303.7h1.5v1.5h-1.5zM193.4 240.7h1.5v1.5h-1.5z"/>
<path fill="#fd883b" d="M163.1 258.0h1.5v1.5h-1.5zM152.9 65.9h1.5v1.5h-1.5zM154.4 268.2h1.5v1.5h-1.5zM152.7 82.5h1.5v1.5h-1.5zM152.9 282.4h1.5v1.5h-1.5zM152.7 71.9h1.5v1.5h-1.5zM179.2 157.9h1.5v1.5h-1.5zM152.6 265.0h1.5v1.5h-1.5zM152.8 180.5h1.5v1.5h-1.5zM152.7 279.3h1.5v1.5h-1.5zM161.5 232.2h1.5v1.5h-1.5zM152.7 276.0h1.5v1.5h-1.5zM157.5 287.9h1.5v1.5h-1.5zM169.3 290.2h1.5v1.5h-1.5zM153.0 288.3h1.5v1.5h-1.5zM152.8 39.5h1.5v1.5h-1.5zM152.9 98.4h1.5v1.5h-1.5zM152.7 56.9h1.5v1.5h-1.5zM157.8 218.3h1.5v1.5h-1.5zM166.2 174.9h1.5v1.5h-1.5zM152.8 170.6h1.5v1.5h-1.5zM152.7 81.3h1.5v1.5h-1.5zM152.8 132.0h1.5v1.5h-1.5zM153.0 254.0h1.5v1.5h-1.5zM169.5 206.9h1.5v1.5h-1.5zM179.6 275.9h1.5v1.5h-1.5zM181.3 280.7h1.5v1.5h-1.5zM166.9 181.5h1.5v1.5h-1.5zM152.6 134.0h1.5v1.5h-1.5zM163.9 267.6h1.5v1.5h-1.5zM182.6 292.7h1.5v1.5h-1.5zM182.1 292.3h1.5v1.5h-1.5zM167.4 265.8h1.5v1.5h-1.5zM183.6 292.5h1.5v1.5h-1.5zM172.2 254.1h1.5v1.5h-1.5zM153.1 281.5h1.5v1.5h-1.5zM167.5 253.5h1.5v1.5h-1.5zM177.1 177.7h1.5v1.5h-1.5zM153.2 96.7h1.5v1.5h-1.5z"/>
<path fill="#feca66" d="M164.7 273.9h1.5v1.5h-1.5zM169.9 276.3h1.5v1.5h-1.5zM182.6 291.5h1.5v1.5h-1.5zM159.2 268.1h1.5v1.5h-1.5zM153.6 252.8h1.5v1.5h-1.5zM172.6 295.9h1.5v1.5h-1.5zM186.0 286.3h1.5v1.5h-1.5zM190.2 216.6h1.5v1.5h-1.5zM177.0 296.4h1.5v1.5h-1.5zM162.0 221.4h1.5v1.5h-1.5zM168.6 276.0h1.5v1.5h-1.5zM179.2 293.5h1.5v1.5h-1.5zM187.5 292.7h1.5v1.5h-1.5zM153.6 201.4h1.5v1.5h-1.5zM186.3 306.3h1.5v1.5h-1.5z"/>
<path fill="#fd8f3d" d="M177.4 272.7h1.5v1.5h-1.5zM161.0 151.7h1.5v1.5h-1.5zM184.4 275.3h1.5v1.5h-1.5zM179.6 270.5h1.5v1.5h-1.5zM152.7 63.8h1.5v1.5h-1.5zM158.9 280.1h1.5v1.5h-1.5zM152.9 285.1h1.5v1.5h-1.5zM172.5 229.7h1.5v1.5h-1.5zM152.8 129.4h1.5v1.5h-1.5zM178.9 293.0h1.5v1.5h-1.5zM152.7 115.3h1.5v1.5h-1.5zM184.4 292.3h1.5v1.5h-1.5zM152.7 277.7h1.5v1.5h-1.5zM176.8 292.4h1.5v1.5h-1.5zM176.5 287.3h1.5v1.5h-1.5zM187.5 295.9h1.5v1.5h-1.5zM166.5 252.2h1.5v1.5h-1.5zM169.7 255.3h1.5v1.5h-1.5zM152.8 116.0h1.5v1.5h-1.5zM165.2 173.8h1.5v1.5h-1.5zM168.1 219.8h1.5v1.5h-1.5zM156.3 201.2h1.5v1.5h-1.5zM153.5 234.4h1.5v1.5h-1.5zM159.1 233.9h1.5v1.5h-1.5zM173.6 261.5h1.5v1.5h-1.5zM152.8 281.8h1.5v1.5h-1.5zM157.8 282.5h1.5v1.5h-1.5zM171.4 243.8h1.5v1.5h-1.5zM152.8 109.9h1.5v1.5h-1.5zM197.9 306.5h1.5v1.5h-1.5zM180.4 287.5h1.5v1.5h-1.5zM162.9 175.1h1.5v1.5h-1.5zM158.6 277.8h1.5v1.5h-1.5zM152.8 107.5h1.5v1.5h-1.5zM153.2 277.3h1.5v1.5h-1.5zM177.4 304.9h1.5v1.5h-1.5zM175.9 283.4h1.5v1.5h-1.5z"/>
<path fill="#e9261f" d="M164.3 223.1h1.5v1.5h-1.5zM157.1 283.3h1.5v1.5h-1.5zM223.0 276.1h1.5v1.5h-1.5zM162.5 220.3h1.5v1.5h-1.5zM153.5 283.8h1.5v1.5h-1.5zM259.7 284.3h1.5v1.5h-1.5zM191.8 306.3h1.5v1.5h-1.5zM204.7 300.9h1.5v1.5h-1.5zM158.7 281.5h1.5v1.5h-1.5zM228.0 288.9h1.5v1.5h-1.5zM152.8 208.6h1.5v1.5h-1.5zM163.3 224.2h1.5v1.5h-1.5zM162.6 135.6h1.5v1.5h-1.5zM188.1 273.5h1.5v1.5h-1.5zM153.3 284.6h1.5v1.5h-1.5zM205.1 304.4h1.5v1.5h-1.5zM203.9 262.5h1.5v1.5h-1.5zM162.0 275.7h1.5v1.5h-1.5zM154.3 204.5h1.5v1.5h-1.5zM153.7 288.2h1.5v1.5h-1.5zM153.4 262.1h1.5v1.5h-1.5zM173.1 242.1h1.5v1.5h-1.5zM160.8 191.3h1.5v1.5h-1.5zM153.6 190.6h1.5v1.5h-1.5zM155.1 223.5h1.5v1.5h-1.5zM194.5 300.5h1.5v1.5h-1.5zM193.5 244.1h1.5v1.5h-1.5zM164.0 277.9h1.5v1.5h-1.5zM180.5 241.2h1.5v1.5h-1.5zM268.1 274.8h1.5v1.5h-1.5zM162.3 208.2h1.5v1.5h-1.5zM189.2 123.2h1.5v1.5h-1.5zM239.8 302.0h1.5v1.5h-1.5zM180.0 291.7h1.5v1.5h-1.5zM152.7 290.6h1.5v1.5h-1.5zM189.7 287.5h1.5v1.5h-1.5z"/>
<path fill="#d6111f" d="M203.2 282.8h1.5v1.5h-1.5zM256.5 269.0h1.5v1.5h-1.5zM152.8 252.3h1.5v1.5h-1.5zM186.9 279.2h1.5v1.5h-1.5zM191.1 277.8h1.5v1.5h-1.5zM193.1 288.7h1.5v1.5h-1.5zM231.3 264.6h1.5v1.5h-1.5zM203.9 290.2h1.5v1.5h-1.5zM175.4 296.4h1.5v1.5h-1.5zM167.0 271.6h1.5v1.5h-1.5zM192.5 284.2h1.5v1.5h-1.5zM153.5 184.5h1.5v1.5h-1.5zM195.4 275.9h1.5v1.5h-1.5zM211.5 303.2h1.5v1.5h-1.5zM212.0 298.9h1.5v1.5h-1.5zM179.2 272.4h1.5v1.5h-1.5zM195.5 251.6h1.5v1.5h-1.5zM201.9 254.9h1.5v1.5h-1.5zM153.3 212.1h1.5v1.5h-1.5zM152.7 169.3h1.5v1.5h-1.5zM235.2 273.6h1.5v1.5h-1.5zM165.0 238.6h1.5v1.5h-1.5zM215.4 300.7h1.5v1.5h-1.5zM190.8 279.7h1.5v1.5h-1.5zM224.2 276.0h1.5v1.5h-1.5zM290.7 291.1h1.5v1.5h-1.5zM165.6 256.7h1.5v1.5h-1.5zM204.4 286.2h1.5v1.5h-1.5zM180.7 276.4h1.5v1.5h-1.5zM158.0 263.5h1.5v1.5h-1.5zM249.0 272.6h1.5v1.5h-1.5zM179.1 292.6h1.5v1.5h-1.5zM163.6 260.6h1.5v1.5h-1.5zM152.9 260.2h1.5v1.5h-1.5zM176.1 263.4h1.5v1.5h-1.5zM189.4 197.2h1.5v1.5h-1.5zM207.1 303.3h1.5v1.5h-1.5zM193.2 300.8h1.5v1.5h-1.5zM210.5 292.1h1.5v1.5h-1.5zM158.0 180.8h1.5v1.5h-1.5zM211.8 296.5h1.5v1.5h-1.5zM152.9 200.2h1.5v1.5h-1.5zM158.3 227.1h1.5v1.5h-1.5zM178.7 285.0h1.5v1.5h-1.5zM191.0 278.8h1.5v1.5h-1.5zM188.1 272.6h1.5v1.5h-1.5zM221.2 308.0h1.5v1.5h-1.5zM153.5 278.2h1.5v1.5h-1.5zM204.0 294.7h1.5v1.5h-1.5zM152.8 272.7h1.5v1.5h-1.5zM156.3 212.9h1.5v1.5h-1.5zM205.4 297.5h1.5v1.5h-1.5zM260.4 294.6h1.5v1.5h-1.5zM194.9 295.8h1.5v1.5h-1.5zM177.1 273.6h1.5v1.5h-1.5zM192.5 291.2h1.5v1.5h-1.5zM154.3 254.7h1.5v1.5h-1.5z"/>
<path fill="#f33b25" d="M153.4 217.7h1.5v1.5h-1.5zM166.1 231.0h1.5v1.5h-1.5zM204.2 289.9h1.5v1.5h-1.5zM157.9 228.3h1.5v1.5h-1.5zM178.2 266.4h1.5v1.5h-1.5zM160.4 259.8h1.5v1.5h-1.5zM231.4 285.4h1.5v1.5h-1.5zM152.8 166.9h1.5v1.5h-1.5zM153.2 258.6h1.5v1.5h-1.5zM162.8 224.6h1.5v1.5h-1.5zM152.9 285.8h1.5v1.5h-1.5zM152.7 257.8h1.5v1.5h-1.5zM156.9 246.0h1.5v1.5h-1.5z"/>
<path fill="#b90026" d="M240.0 276.6h1.5v1.5h-1.5zM193.2 303.4h1.5v1.5h-1.5zM190.6 298.0h1.5v1.5h-1.5zM184.7 302.1h1.5v1.5h-1.5zM315.9 308.1h1.5v1.5h-1.5zM164.3 249.5h1.5v1.5h-1.5zM225.4 301.7h1.5v1.5h-1.5zM193.4 288.1h1.5v1.5h-1.5zM223.7 299.1h1.5v1.5h-1.5zM194.9 270.3h1.5v1.5h-1.5zM194.3 292.5h1.5v1.5h-1.5zM225.4 301.3h1.5v1.5h-1.5zM194.1 279.1h1.5v1.5h-1.5zM195.5 305.0h1.5v1.5h-1.5zM199.3 280.9h1.5v1.5h-1.5zM232.8 292.4h1.5v1.5h-1.5zM220.9 264.4h1.5v1.5h-1.5zM212.9 256.5h1.5v1.5h-1.5zM186.0 282.0h1.5v1.5h-1.5zM234.4 290.1h1.5v1.5h-1.5zM181.1 283.7h1.5v1.5h-1.5zM227.9 288.7h1.5v1.5h-1.5zM197.6 299.2h1.5v1.5h-1.5zM207.2 248.1h1.5v1.5h-1.5zM180.6 271.3h1.5v1.5h-1.5zM180.5 284.7h1.5v1.5h-1.5zM220.1 295.9h1.5v1.5h-1.5zM202.8 298.7h1.5v1.5h-1.5zM206.3 278.5h1.5v1.5h-1.5zM192.3 302.0h1.5v1.5h-1.5zM224.0 285.7h1.5v1.5h-1.5zM219.5 306.1h1.5v1.5h-1.5zM193.2 308.0h1.5v1.5h-1.5zM195.7 287.0h1.5v1.5h-1.5zM222.1 275.7h1.5v1.5h-1.5zM214.5 294.3h1.5v1.5h-1.5z"/>
<path fill="#fd7e38" d="M152.8 25.6h1.5v1.5h-1.5zM210.6 301.5h1.5v1.5h-1.5zM152.8 242.0h1.5v1.5h-1.5zM172.7 284.2h1.5v1.5h-1.5zM182.0 292.3h1.5v1.5h-1.5zM192.3 186.6h1.5v1.5h-1.5zM152.8 18.0h1.5v1.5h-1.5zM166.0 229.6h1.5v1.5h-1.5zM152.6 105.7h1.5v1.5h-1.5zM186.6 305.1h1.5v1.5h-1.5zM182.6 297.6h1.5v1.5h-1.5zM185.6 255.6h1.5v1.5h-1.5zM176.5 280.5h1.5v1.5h-1.5zM175.4 236.2h1.5v1.5h-1.5zM152.8 51.5h1.5v1.5h-1.5zM178.8 291.9h1.5v1.5h-1.5zM176.1 298.2h1.5v1.5h-1.5zM173.2 272.0h1.5v1.5h-1.5zM163.0 287.2h1.5v1.5h-1.5zM183.8 284.0h1.5v1.5h-1.5zM177.2 252.2h1.5v1.5h-1.5zM178.4 284.9h1.5v1.5h-1.5zM182.9 273.2h1.5v1.5h-1.5zM153.3 218.5h1.5v1.5h-1.5zM173.0 244.2h1.5v1.5h-1.5z"/>
<path fill="#fec45f" d="M165.2 249.7h1.5v1.5h-1.5zM172.2 255.6h1.5v1.5h-1.5zM152.7 270.3h1.5v1.5h-1.5zM152.6 242.3h1.5v1.5h-1.5zM183.8 291.5h1.5v1.5h-1.5zM173.3 255.0h1.5v1.5h-1.5zM153.3 165.0h1.5v1.5h-1.5zM184.9 293.1h1.5v1.5h-1.5zM183.4 304.2h1.5v1.5h-1.5zM185.6 298.4h1.5v1.5h-1.5zM169.3 203.8h1.5v1.5h-1.5zM174.9 241.7h1.5v1.5h-1.5zM186.1 296.1h1.5v1.5h-1.5z"/>
<path fill="#fd9941" d="M178.0 274.4h1.5v1.5h-1.5zM186.0 283.4h1.5v1.5h-1.5zM177.4 238.0h1.5v1.5h-1.5zM165.1 250.5h1.5v1.5h-1.5zM165.5 259.2h1.5v1.5h-1.5zM152.8 96.2h1.5v1.5h-1.5zM173.5 249.1h1.5v1.5h-1.5zM178.1 291.6h1.5v1.5h-1.5zM175.6 276.9h1.5v1.5h-1.5zM169.6 249.4h1.5v1.5h-1.5zM153.0 247.1h1.5v1.5h-1.5zM152.6 146.8h1.5v1.5h-1.5zM175.8 298.6h1.5v1.5h-1.5zM183.4 298.4h1.5v1.5h-1.5zM168.4 194.5h1.5v1.5h-1.5zM166.4 268.9h1.5v1.5h-1.5zM179.5 256.8h1.5v1.5h-1.5zM184.5 296.3h1.5v1.5h-1.5zM152.8 161.5h1.5v1.5h-1.5zM160.1 288.0h1.5v1.5h-1.5zM177.3 286.4h1.5v1.5h-1.5zM155.5 250.9h1.5v1.5h-1.5zM177.3 244.3h1.5v1.5h-1.5zM172.5 260.3h1.5v1.5h-1.5zM166.5 231.0h1.5v1.5h-1.5zM163.1 203.3h1.5v1.5h-1.5zM192.0 177.6h1.5v1.5h-1.5zM152.8 128.2h1.5v1.5h-1.5zM168.2 282.6h1.5v1.5h-1.5zM178.2 257.6h1.5v1.5h-1.5zM172.2 269.1h1.5v1.5h-1.5zM152.7 229.3h1.5v1.5h-1.5zM186.2 299.1h1.5v1.5h-1.5zM208.3 298.1h1.5v1.5h-1.5zM181.3 292.6h1.5v1.5h-1.5zM168.8 275.5h1.5v1.5h-1.5zM155.5 246.3h1.5v1.5h-1.5zM167.4 223.3h1.5v1.5h-1.5zM178.7 274.0h1.5v1.5h-1.5zM152.6 82.4h1.5v1.5h-1.5zM184.4 299.8h1.5v1.5h-1.5zM171.0 242.7h1.5v1.5h-1.5zM154.7 203.7h1.5v1.5h-1.5z"/>
<path fill="#fecf6b" d="M180.0 264.4h1.5v1.5h-1.5zM179.7 300.9h1.5v1.5h-1.5zM169.8 260.2h1.5v1.5h-1.5zM171.2 283.3h1.5v1.5h-1.5zM152.9 266.5h1.5v1.5h-1.5zM153.3 267.2h1.5v1.5h-1.5zM177.1 279.0h1.5v1.5h-1.5zM170.3 258.6h1.5v1.5h-1.5zM164.9 200.4h1.5v1.5h-1.5zM162.4 267.1h1.5v1.5h-1.5zM174.1 271.7h1.5v1.5h-1.5zM175.9 277.3h1.5v1.5h-1.5z"/>
<path fill="#fd9f44" d="M180.4 305.0h1.5v1.5h-1.5zM152.6 103.7h1.5v1.5h-1.5zM205.0 290.3h1.5v1.5h-1.5zM164.5 231.7h1.5v1.5h-1.5zM184.4 285.3h1.5v1.5h-1.5zM171.8 266.7h1.5v1.5h-1.5zM170.2 269.8h1.5v1.5h-1.5zM153.9 195.6h1.5v1.5h-1.5zM186.2 294.6h1.5v1.5h-1.5zM182.3 285.0h1.5v1.5h-1.5zM160.9 257.4h1.5v1.5h-1.5zM152.9 81.9h1.5v1.5h-1.5zM166.9 216.4h1.5v1.5h-1.5zM163.7 284.1h1.5v1.5h-1.5zM152.7 133.5h1.5v1.5h-1.5zM169.6 277.4h1.5v1.5h-1.5zM152.5 142.9h1.5v1.5h-1.5zM152.8 222.6h1.5v1.5h-1.5zM158.5 263.5h1.5v1.5h-1.5zM167.6 214.8h1.5v1.5h-1.5zM152.7 234.5h1.5v1.5h-1.5zM166.6 252.6h1.5v1.5h-1.5zM165.6 242.3h1.5v1.5h-1.5zM152.7 207.4h1.5v1.5h-1.5zM152.9 115.8h1.5v1.5h-1.5zM165.9 290.1h1.5v1.5h-1.5zM165.0 278.1h1.5v1.5h-1.5zM174.1 253.9h1.5v1.5h-1.5zM179.2 274.7h1.5v1.5h-1.5zM157.3 178.2h1.5v1.5h-1.5zM153.8 218.7h1.5v1.5h-1.5zM152.7 286.2h1.5v1.5h-1.5zM152.7 240.1h1.5v1.5h-1.5zM152.6 84.7h1.5v1.5h-1.5z"/>
<path fill="#c00225" d="M211.6 305.3h1.5v1.5h-1.5zM234.5 304.8h1.5v1.5h-1.5zM323.8 317.6h1.5v1.5h-1.5zM317.2 300.4h1.5v1.5h-1.5zM203.4 284.8h1.5v1.5h-1.5zM202.4 290.6h1.5v1.5h-1.5zM227.5 284.8h1.5v1.5h-1.5zM199.7 282.4h1.5v1.5h-1.5zM205.9 288.8h1.5v1.5h-1.5zM207.3 279.8h1.5v1.5h-1.5zM200.2 302.5h1.5v1.5h-1.5zM214.3 285.0h1.5v1.5h-1.5zM248.0 301.2h1.5v1.5h-1.5zM200.7 298.8h1.5v1.5h-1.5zM226.2 293.8h1.5v1.5h-1.5zM213.1 284.2h1.5v1.5h-1.5zM260.3 310.3h1.5v1.5h-1.5zM202.8 308.2h1.5v1.5h-1.5zM184.2 295.0h1.5v1.5h-1.5zM190.8 220.7h1.5v1.5h-1.5zM152.9 225.8h1.5v1.5h-1.5zM228.0 307.5h1.5v1.5h-1.5zM189.0 262.8h1.5v1.5h-1.5zM191.9 276.9h1.5v1.5h-1.5zM214.3 279.0h1.5v1.5h-1.5zM198.0 307.8h1.5v1.5h-1.5zM194.9 189.0h1.5v1.5h-1.5zM205.7 301.3h1.5v1.5h-1.5zM229.4 309.4h1.5v1.5h-1.5zM202.5 285.1h1.5v1.5h-1.5zM246.4 294.7h1.5v1.5h-1.5zM236.9 295.8h1.5v1.5h-1.5zM191.2 239.9h1.5v1.5h-1.5zM185.4 241.6h1.5v1.5h-1.5zM252.5 293.3h1.5v1.5h-1.5zM199.9 277.1h1.5v1.5h-1.5zM203.2 308.1h1.5v1.5h-1.5zM277.7 273.3h1.5v1.5h-1.5zM175.5 254.6h1.5v1.5h-1.5zM201.4 304.0h1.5v1.5h-1.5zM214.9 299.1h1.5v1.5h-1.5zM227.5 296.4h1.5v1.5h-1.5zM177.0 283.1h1.5v1.5h-1.5zM200.2 292.2h1.5v1.5h-1.5zM283.2 303.0h1.5v1.5h-1.5zM230.4 276.5h1.5v1.5h-1.5zM192.4 284.6h1.5v1.5h-1.5zM156.9 272.6h1.5v1.5h-1.5zM164.7 264.1h1.5v1.5h-1.5zM203.6 299.1h1.5v1.5h-1.5zM250.8 301.1h1.5v1.5h-1.5z"/>
<path fill="#e1191d" d="M178.9 290.6h1.5v1.5h-1.5zM158.7 251.5h1.5v1.5h-1.5zM202.7 291.5h1.5v1.5h-1.5zM223.7 266.0h1.5v1.5h-1.5zM205.8 305.4h1.5v1.5h-1.5zM189.3 276.3h1.5v1.5h-1.5zM183.7 291.2h1.5v1.5h-1.5zM207.8 304.6h1.5v1.5h-1.5zM169.6 210.8h1.5v1.5h-1.5zM163.0 289.8h1.5v1.5h-1.5zM167.5 276.8h1.5v1.5h-1.5zM181.5 271.0h1.5v1.5h-1.5zM158.9 266.6h1.5v1.5h-1.5zM203.3 302.5h1.5v1.5h-1.5zM226.0 299.2h1.5v1.5h-1.5zM160.9 245.2h1.5v1.5h-1.5zM181.2 274.5h1.5v1.5h-1.5zM224.5 283.3h1.5v1.5h-1.5zM174.3 276.8h1.5v1.5h-1.5zM192.8 297.6h1.5v1.5h-1.5zM182.5 297.1h1.5v1.5h-1.5zM156.0 260.7h1.5v1.5h-1.5zM197.0 288.1h1.5v1.5h-1.5zM153.0 273.4h1.5v1.5h-1.5zM168.7 235.8h1.5v1.5h-1.5zM192.6 295.6h1.5v1.5h-1.5zM152.7 80.8h1.5v1.5h-1.5zM157.5 156.6h1.5v1.5h-1.5zM184.0 276.0h1.5v1.5h-1.5zM158.4 222.1h1.5v1.5h-1.5zM205.3 287.4h1.5v1.5h-1.5zM165.1 172.9h1.5v1.5h-1.5zM214.9 302.2h1.5v1.5h-1.5zM160.9 231.6h1.5v1.5h-1.5zM153.5 282.3h1.5v1.5h-1.5zM164.8 196.8h1.5v1.5h-1.5zM176.4 272.4h1.5v1.5h-1.5zM200.5 268.0h1.5v1.5h-1.5zM195.7 271.4h1.5v1.5h-1.5zM167.0 226.1h1.5v1.5h-1.5zM152.5 280.5h1.5v1.5h-1.5zM205.5 243.4h1.5v1.5h-1.5zM203.7 275.1h1.5v1.5h-1.5zM212.9 297.1h1.5v1.5h-1.5zM185.7 178.9h1.5v1.5h-1.5z"/>
<path fill="#b00026" d="M206.7 290.9h1.5v1.5h-1.5zM199.5 252.6h1.5v1.5h-1.5zM217.8 283.1h1.5v1.5h-1.5zM250.4 301.0h1.5v1.5h-1.5zM244.5 298.0h1.5v1.5h-1.5zM229.6 286.3h1.5v1.5h-1.5zM184.5 287.0h1.5v1.5h-1.5zM207.7 307.2h1.5v1.5h-1.5zM222.1 297.2h1.5v1.5h-1.5zM250.7 303.8h1.5v1.5h-1.5zM199.8 298.7h1.5v1.5h-1.5zM223.8 295.6h1.5v1.5h-1.5zM237.7 281.9h1.5v1.5h-1.5zM186.5 238.6h1.5v1.5h-1.5zM216.5 304.3h1.5v1.5h-1.5zM196.2 301.7h1.5v1.5h-1.5zM190.1 288.9h1.5v1.5h-1.5zM192.6 299.2h1.5v1.5h-1.5zM171.0 280.3h1.5v1.5h-1.5zM210.9 300.7h1.5v1.5h-1.5zM253.7 306.9h1.5v1.5h-1.5zM162.7 184.4h1.5v1.5h-1.5z"/>
<path fill="#e51e1d" d="M159.4 264.9h1.5v1.5h-1.5zM212.7 272.5h1.5v1.5h-1.5zM179.1 280.5h1.5v1.5h-1.5zM154.4 255.7h1.5v1.5h-1.5zM198.6 253.4h1.5v1.5h-1.5zM180.5 299.4h1.5v1.5h-1.5zM201.7 299.2h1.5v1.5h-1.5zM194.9 181.9h1.5v1.5h-1.5zM152.8 269.7h1.5v1.5h-1.5zM205.2 294.8h1.5v1.5h-1.5zM156.9 272.7h1.5v1.5h-1.5zM158.7 265.9h1.5v1.5h-1.5zM176.3 278.0h1.5v1.5h-1.5zM193.9 280.5h1.5v1.5h-1.5zM190.7 279.4h1.5v1.5h-1.5zM179.0 239.3h1.5v1.5h-1.5zM152.8 269.3h1.5v1.5h-1.5zM179.2 295.5h1.5v1.5h-1.5zM163.4 268.7h1.5v1.5h-1.5zM192.9 307.3h1.5v1.5h-1.5zM163.9 258.7h1.5v1.5h-1.5zM191.3 238.7h1.5v1.5h-1.5zM265.8 271.6h1.5v1.5h-1.5zM164.3 256.9h1.5v1.5h-1.5zM176.9 251.4h1.5v1.5h-1.5zM162.1 135.1h1.5v1.5h-1.5zM153.6 246.6h1.5v1.5h-1.5zM161.2 245.4h1.5v1.5h-1.5zM153.4 223.2h1.5v1.5h-1.5zM163.8 263.5h1.5v1.5h-1.5zM175.0 252.0h1.5v1.5h-1.5zM174.0 290.2h1.5v1.5h-1.5zM164.4 250.4h1.5v1.5h-1.5zM173.8 237.9h1.5v1.5h-1.5zM155.8 202.5h1.5v1.5h-1.5zM164.5 262.8h1.5v1.5h-1.5zM152.7 247.5h1.5v1.5h-1.5zM153.0 267.2h1.5v1.5h-1.5zM166.1 176.7h1.5v1.5h-1.5zM169.4 259.9h1.5v1.5h-1.5zM171.5 184.7h1.5v1.5h-1.5z"/>
<path fill="#fea948" d="M170.5 249.3h1.5v1.5h-1.5zM178.1 293.0h1.5v1.5h-1.5zM181.5 286.1h1.5v1.5h-1.5zM188.8 286.0h1.5v1.5h-1.5zM163.3 246.1h1.5v1.5h-1.5zM167.3 220.0h1.5v1.5h-1.5zM152.7 200.9h1.5v1.5h-1.5zM153.1 277.1h1.5v1.5h-1.5zM154.1 270.0h1.5v1.5h-1.5zM171.9 256.0h1.5v1.5h-1.5zM152.8 273.3h1.5v1.5h-1.5zM180.0 268.7h1.5v1.5h-1.5zM153.2 256.8h1.5v1.5h-1.5zM184.6 290.6h1.5v1.5h-1.5zM153.2 241.0h1.5v1.5h-1.5zM164.6 223.4h1.5v1.5h-1.5zM185.6 294.9h1.5v1.5h-1.5zM173.0 294.7h1.5v1.5h-1.5zM153.0 276.0h1.5v1.5h-1.5zM168.8 223.5h1.5v1.5h-1.5zM192.5 301.2h1.5v1.5h-1.5zM156.6 284.0h1.5v1.5h-1.5zM169.5 257.9h1.5v1.5h-1.5zM152.9 259.8h1.5v1.5h-1.5zM152.7 144.2h1.5v1.5h-1.5zM189.7 305.5h1.5v1.5h-1.5zM152.9 135.8h1.5v1.5h-1.5zM154.9 199.5h1.5v1.5h-1.5zM155.7 201.2h1.5v1.5h-1.5zM170.9 264.1h1.5v1.5h-1.5zM162.1 287.4h1.5v1.5h-1.5zM172.5 225.7h1.5v1.5h-1.5z"/>
<path fill="#9f0026" d="M209.3 296.4h1.5v1.5h-1.5zM206.3 258.5h1.5v1.5h-1.5zM193.4 287.2h1.5v1.5h-1.5zM175.9 263.1h1.5v1.5h-1.5zM182.8 296.8h1.5v1.5h-1.5zM214.6 289.3h1.5v1.5h-1.5zM217.4 294.3h1.5v1.5h-1.5zM190.3 276.8h1.5v1.5h-1.5zM235.4 307.4h1.5v1.5h-1.5zM183.1 286.8h1.5v1.5h-1.5zM185.9 297.1h1.5v1.5h-1.5zM182.9 279.9h1.5v1.5h-1.5zM191.4 290.3h1.5v1.5h-1.5zM253.4 298.4h1.5v1.5h-1.5zM186.6 290.9h1.5v1.5h-1.5zM202.1 253.3h1.5v1.5h-1.5zM205.7 297.4h1.5v1.5h-1.5zM197.4 244.5h1.5v1.5h-1.5z"/>
<path fill="#fedd7e" d="M171.1 282.3h1.5v1.5h-1.5zM153.6 270.5h1.5v1.5h-1.5zM153.1 284.9h1.5v1.5h-1.5zM216.5 296.2h1.5v1.5h-1.5z"/>
<path fill="#8d0026" d="M209.8 294.7h1.5v1.5h-1.5zM192.0 279.8h1.5v1.5h-1.5zM228.0 293.7h1.5v1.5h-1.5zM196.4 301.6h1.5v1.5h-1.5zM202.3 282.9h1.5v1.5h-1.5zM270.4 310.6h1.5v1.5h-1.5zM216.3 306.9h1.5v1.5h-1.5zM180.1 293.5h1.5v1.5h-1.5zM217.4 296.1h1.5v1.5h-1.5z"/>
<path fill="#ec2c21" d="M154.4 198.4h1.5v1.5h-1.5zM160.5 265.8h1.5v1.5h-1.5zM178.9 168.4h1.5v1.5h-1.5zM161.2 280.6h1.5v1.5h-1.5zM163.2 295.5h1.5v1.5h-1.5zM152.9 259.1h1.5v1.5h-1.5zM181.0 301.9h1.5v1.5h-1.5zM152.8 187.3h1.5v1.5h-1.5zM188.0 251.1h1.5v1.5h-1.5zM179.5 286.5h1.5v1.5h-1.5zM186.6 258.3h1.5v1.5h-1.5zM163.9 280.6h1.5v1.5h-1.5zM162.0 248.0h1.5v1.5h-1.5zM164.9 294.3h1.5v1.5h-1.5zM153.7 236.5h1.5v1.5h-1.5zM224.0 271.7h1.5v1.5h-1.5zM153.4 280.2h1.5v1.5h-1.5zM210.7 265.4h1.5v1.5h-1.5zM164.8 280.1h1.5v1.5h-1.5zM184.0 256.2h1.5v1.5h-1.5zM189.4 291.6h1.5v1.5h-1.5zM156.2 273.2h1.5v1.5h-1.5zM179.7 298.3h1.5v1.5h-1.5zM165.4 271.0h1.5v1.5h-1.5zM178.6 291.3h1.5v1.5h-1.5zM154.1 286.3h1.5v1.5h-1.5zM159.0 243.9h1.5v1.5h-1.5zM159.4 251.4h1.5v1.5h-1.5zM177.0 300.5h1.5v1.5h-1.5zM153.2 284.7h1.5v1.5h-1.5zM162.5 180.6h1.5v1.5h-1.5z"/>
<path fill="#970026" d="M239.4 286.8h1.5v1.5h-1.5zM212.0 288.5h1.5v1.5h-1.5zM176.4 282.9h1.5v1.5h-1.5zM192.5 252.1h1.5v1.5h-1.5zM244.0 301.1h1.5v1.5h-1.5zM196.1 296.9h1.5v1.5h-1.5zM190.0 271.4h1.5v1.5h-1.5zM183.4 240.6h1.5v1.5h-1.5zM195.6 274.8h1.5v1.5h-1.5zM190.1 305.7h1.5v1.5h-1.5zM200.4 298.4h1.5v1.5h-1.5zM195.4 287.5h1.5v1.5h-1.5z"/>
<path fill="#860026" d="M191.3 200.5h1.5v1.5h-1.5zM178.5 295.3h1.5v1.5h-1.5zM232.6 295.1h1.5v1.5h-1.5zM179.9 278.3h1.5v1.5h-1.5z"/>
<path fill="#feb44e" d="M154.0 145.9h1.5v1.5h-1.5zM169.6 269.0h1.5v1.5h-1.5zM197.1 267.9h1.5v1.5h-1.5zM152.8 186.8h1.5v1.5h-1.5zM152.8 187.2h1.5v1.5h-1.5zM182.6 285.8h1.5v1.5h-1.5zM156.7 228.2h1.5v1.5h-1.5zM182.2 302.4h1.5v1.5h-1.5zM167.8 269.7h1.5v1.5h-1.5zM152.8 234.2h1.5v1.5h-1.5zM161.5 211.1h1.5v1.5h-1.5zM152.8 97.1h1.5v1.5h-1.5zM153.3 269.9h1.5v1.5h-1.5zM175.6 301.5h1.5v1.5h-1.5zM153.5 244.1h1.5v1.5h-1.5zM181.1 282.9h1.5v1.5h-1.5zM164.5 248.6h1.5v1.5h-1.5zM213.2 308.3h1.5v1.5h-1.5zM175.4 269.3h1.5v1.5h-1.5zM182.9 280.1h1.5v1.5h-1.5zM175.5 300.1h1.5v1.5h-1.5zM194.3 272.7h1.5v1.5h-1.5zM158.5 231.0h1.5v1.5h-1.5zM192.8 305.9h1.5v1.5h-1.5zM190.3 295.1h1.5v1.5h-1.5zM180.5 253.7h1.5v1.5h-1.5zM175.2 283.5h1.5v1.5h-1.5zM159.9 191.2h1.5v1.5h-1.5zM180.3 294.3h1.5v1.5h-1.5zM172.1 290.2h1.5v1.5h-1.5zM152.6 193.9h1.5v1.5h-1.5zM174.0 272.8h1.5v1.5h-1.5zM184.4 302.6h1.5v1.5h-1.5z"/>
<path fill="#fa4a29" d="M152.8 94.2h1.5v1.5h-1.5zM165.2 215.2h1.5v1.5h-1.5zM156.5 214.3h1.5v1.5h-1.5zM178.7 266.9h1.5v1.5h-1.5zM183.2 268.0h1.5v1.5h-1.5zM155.3 248.6h1.5v1.5h-1.5zM183.6 297.2h1.5v1.5h-1.5zM160.5 277.3h1.5v1.5h-1.5zM152.9 179.7h1.5v1.5h-1.5zM183.5 301.4h1.5v1.5h-1.5zM171.8 285.3h1.5v1.5h-1.5zM168.4 294.5h1.5v1.5h-1.5zM177.1 297.5h1.5v1.5h-1.5zM182.4 221.6h1.5v1.5h-1.5zM174.6 257.2h1.5v1.5h-1.5zM157.2 180.3h1.5v1.5h-1.5zM157.6 128.3h1.5v1.5h-1.5zM160.0 280.2h1.5v1.5h-1.5zM168.1 281.0h1.5v1.5h-1.5zM155.6 283.5h1.5v1.5h-1.5zM193.5 296.9h1.5v1.5h-1.5zM152.5 45.0h1.5v1.5h-1.5zM179.0 219.3h1.5v1.5h-1.5z"/>
<path fill="#f03523" d="M153.1 208.0h1.5v1.5h-1.5zM153.5 255.1h1.5v1.5h-1.5zM152.7 118.6h1.5v1.5h-1.5zM153.6 269.0h1.5v1.5h-1.5zM173.9 302.9h1.5v1.5h-1.5zM177.0 292.5h1.5v1.5h-1.5zM183.9 283.4h1.5v1.5h-1.5zM249.0 277.4h1.5v1.5h-1.5zM179.7 159.1h1.5v1.5h-1.5zM153.4 213.3h1.5v1.5h-1.5z"/>
<path fill="#feb953" d="M177.7 259.7h1.5v1.5h-1.5zM158.3 190.3h1.5v1.5h-1.5zM152.7 163.8h1.5v1.5h-1.5zM165.1 207.3h1.5v1.5h-1.5zM153.3 254.6h1.5v1.5h-1.5zM152.7 260.5h1.5v1.5h-1.5zM167.6 264.8h1.5v1.5h-1.5zM179.0 270.0h1.5v1.5h-1.5zM173.2 279.5h1.5v1.5h-1.5zM168.5 237.2h1.5v1.5h-1.5zM152.6 142.5h1.5v1.5h-1.5zM167.0 267.2h1.5v1.5h-1.5zM182.7 292.4h1.5v1.5h-1.5zM183.7 294.9h1.5v1.5h-1.5zM194.4 249.6h1.5v1.5h-1.5zM176.6 290.2h1.5v1.5h-1.5zM175.7 253.6h1.5v1.5h-1.5zM165.5 241.8h1.5v1.5h-1.5z"/>
<path fill="#fed572" d="M163.1 172.5h1.5v1.5h-1.5zM171.0 288.0h1.5v1.5h-1.5zM152.8 148.4h1.5v1.5h-1.5zM180.5 272.0h1.5v1.5h-1.5zM182.0 292.9h1.5v1.5h-1.5zM172.2 268.8h1.5v1.5h-1.5zM153.6 126.9h1.5v1.5h-1.5zM179.3 297.6h1.5v1.5h-1.5zM165.6 223.6h1.5v1.5h-1.5z"/>
<path fill="#fc6c33" d="M152.6 40.0h1.5v1.5h-1.5zM170.3 265.6h1.5v1.5h-1.5zM158.2 218.5h1.5v1.5h-1.5zM172.2 201.0h1.5v1.5h-1.5zM157.5 258.0h1.5v1.5h-1.5zM197.8 280.1h1.5v1.5h-1.5zM186.3 285.4h1.5v1.5h-1.5zM159.1 214.4h1.5v1.5h-1.5zM152.7 73.7h1.5v1.5h-1.5zM153.0 102.1h1.5v1.5h-1.5zM187.3 301.2h1.5v1.5h-1.5zM183.3 292.8h1.5v1.5h-1.5zM171.2 198.1h1.5v1.5h-1.5zM152.7 62.1h1.5v1.5h-1.5zM191.6 253.0h1.5v1.5h-1.5zM171.2 255.4h1.5v1.5h-1.5zM183.5 291.1h1.5v1.5h-1.5zM152.6 51.4h1.5v1.5h-1.5zM156.2 232.3h1.5v1.5h-1.5zM160.4 196.0h1.5v1.5h-1.5zM178.7 289.9h1.5v1.5h-1.5zM152.6 50.8h1.5v1.5h-1.5z"/>
<path fill="#febf5a" d="M172.7 243.3h1.5v1.5h-1.5zM184.7 289.7h1.5v1.5h-1.5zM157.2 292.1h1.5v1.5h-1.5zM164.4 244.2h1.5v1.5h-1.5zM158.6 240.6h1.5v1.5h-1.5zM172.8 272.7h1.5v1.5h-1.5zM170.7 257.8h1.5v1.5h-1.5zM176.6 285.9h1.5v1.5h-1.5zM169.7 283.2h1.5v1.5h-1.5zM180.2 216.1h1.5v1.5h-1.5zM169.1 260.4h1.5v1.5h-1.5zM190.7 299.9h1.5v1.5h-1.5zM152.8 265.0h1.5v1.5h-1.5zM165.4 263.2h1.5v1.5h-1.5zM153.6 258.2h1.5v1.5h-1.5zM162.7 210.8h1.5v1.5h-1.5zM152.5 237.0h1.5v1.5h-1.5zM181.0 296.0h1.5v1.5h-1.5zM177.6 304.3h1.5v1.5h-1.5z"/>
<path fill="#fee084" d="M189.7 297.8h1.5v1.5h-1.5zM162.7 189.7h1.5v1.5h-1.5zM175.0 271.6h1.5v1.5h-1.5zM178.1 276.1h1.5v1.5h-1.5z"/>
<path fill="#fc5b2e" d="M155.6 256.2h1.5v1.5h-1.5zM153.1 181.1h1.5v1.5h-1.5zM157.8 243.1h1.5v1.5h-1.5zM162.0 260.6h1.5v1.5h-1.5zM192.5 223.2h1.5v1.5h-1.5zM170.0 259.4h1.5v1.5h-1.5zM156.0 129.5h1.5v1.5h-1.5z"/>
<path fill="#fc532b" d="M152.9 233.2h1.5v1.5h-1.5zM153.2 228.9h1.5v1.5h-1.5zM215.9 213.3h1.5v1.5h-1.5zM152.8 177.5h1.5v1.5h-1.5zM178.4 169.5h1.5v1.5h-1.5zM185.4 301.0h1.5v1.5h-1.5zM178.9 275.9h1.5v1.5h-1.5zM166.1 200.1h1.5v1.5h-1.5zM170.3 234.5h1.5v1.5h-1.5zM179.0 274.9h1.5v1.5h-1.5zM172.0 253.0h1.5v1.5h-1.5zM171.8 253.8h1.5v1.5h-1.5z"/>
<path fill="#ffe590" d="M178.8 273.9h1.5v1.5h-1.5z"/>
<path fill="#fc6430" d="M178.8 287.7h1.5v1.5h-1.5zM161.4 156.1h1.5v1.5h-1.5zM152.6 45.2h1.5v1.5h-1.5zM183.9 300.8h1.5v1.5h-1.5zM152.7 45.2h1.5v1.5h-1.5zM174.0 251.5h1.5v1.5h-1.5zM170.4 276.9h1.5v1.5h-1.5zM153.7 226.5h1.5v1.5h-1.5z"/>
<path fill="#fff5b5" d="M188.2 311.2h1.5v1.5h-1.5z"/>
<path fill="#fff0a8" d="M162.9 168.2h1.5v1.5h-1.5z"/>
<path fill="#fff3ae" d="M158.2 297.2h1.5v1.5h-1.5z"/>
<path fill="#feda78" d="M172.2 244.0h1.5v1.5h-1.5zM153.1 135.6h1.5v1.5h-1.5zM175.6 287.0h1.5v1.5h-1.5z"/>
<path fill="#fc532b" d="M153.6 199.6h1.5v1.5h-1.5zM184.3 296.1h1.5v1.5h-1.5zM188.2 300.5h1.5v1.5h-1.5zM164.2 285.2h1.5v1.5h-1.5zM178.9 277.2h1.5v1.5h-1.5zM152.7 241.1h1.5v1.5h-1.5zM194.9 307.2h1.5v1.5h-1.5zM159.5 253.5h1.5v1.5h-1.5zM173.6 262.9h1.5v1.5h-1.5zM184.9 273.0h1.5v1.5h-1.5zM155.5 223.4h1.5v1.5h-1.5zM170.1 238.9h1.5v1.5h-1.5zM169.2 217.1h1.5v1.5h-1.5zM156.4 163.9h1.5v1.5h-1.5zM184.6 294.0h1.5v1.5h-1.5zM167.5 264.9h1.5v1.5h-1.5zM185.1 277.2h1.5v1.5h-1.5zM174.4 260.0h1.5v1.5h-1.5zM168.1 252.5h1.5v1.5h-1.5zM167.1 273.1h1.5v1.5h-1.5z"/>
<path fill="#fd883b" d="M153.7 180.2h1.5v1.5h-1.5zM164.8 219.0h1.5v1.5h-1.5zM168.4 200.5h1.5v1.5h-1.5zM155.2 262.8h1.5v1.5h-1.5zM186.2 300.0h1.5v1.5h-1.5zM154.3 220.7h1.5v1.5h-1.5zM153.4 256.2h1.5v1.5h-1.5zM152.8 172.8h1.5v1.5h-1.5zM185.3 284.4h1.5v1.5h-1.5zM152.6 169.4h1.5v1.5h-1.5zM152.9 110.8h1.5v1.5h-1.5zM156.1 266.1h1.5v1.5h-1.5zM153.1 130.8h1.5v1.5h-1.5zM180.5 289.0h1.5v1.5h-1.5zM191.5 281.8h1.5v1.5h-1.5zM179.3 281.4h1.5v1.5h-1.5zM165.0 172.6h1.5v1.5h-1.5zM176.2 251.1h1.5v1.5h-1.5zM172.7 220.9h1.5v1.5h-1.5zM168.8 246.7h1.5v1.5h-1.5zM170.5 290.7h1.5v1.5h-1.5zM160.7 192.8h1.5v1.5h-1.5zM177.7 300.2h1.5v1.5h-1.5zM160.4 261.3h1.5v1.5h-1.5zM180.1 256.0h1.5v1.5h-1.5zM156.1 213.5h1.5v1.5h-1.5zM171.8 278.9h1.5v1.5h-1.5zM175.1 241.5h1.5v1.5h-1.5zM177.1 269.8h1.5v1.5h-1.5zM170.9 267.7h1.5v1.5h-1.5zM174.6 278.2h1.5v1.5h-1.5zM177.1 249.1h1.5v1.5h-1.5zM174.1 301.7h1.5v1.5h-1.5zM174.5 291.2h1.5v1.5h-1.5zM162.6 207.9h1.5v1.5h-1.5zM185.9 293.4h1.5v1.5h-1.5zM180.8 278.1h1.5v1.5h-1.5zM180.9 293.2h1.5v1.5h-1.5z"/>
<path fill="#ca0923" d="M195.6 293.2h1.5v1.5h-1.5zM210.7 260.8h1.5v1.5h-1.5zM207.9 292.1h1.5v1.5h-1.5zM194.3 280.6h1.5v1.5h-1.5zM192.2 281.5h1.5v1.5h-1.5zM194.6 265.0h1.5v1.5h-1.5zM207.2 286.2h1.5v1.5h-1.5zM158.0 195.8h1.5v1.5h-1.5zM195.7 307.7h1.5v1.5h-1.5zM165.5 292.0h1.5v1.5h-1.5zM216.9 297.9h1.5v1.5h-1.5zM201.6 269.2h1.5v1.5h-1.5zM229.1 296.7h1.5v1.5h-1.5zM221.0 256.4h1.5v1.5h-1.5zM152.8 208.3h1.5v1.5h-1.5zM176.5 292.2h1.5v1.5h-1.5zM195.5 289.2h1.5v1.5h-1.5zM186.9 268.0h1.5v1.5h-1.5zM219.3 304.2h1.5v1.5h-1.5zM199.0 295.2h1.5v1.5h-1.5zM182.1 256.8h1.5v1.5h-1.5zM205.6 301.3h1.5v1.5h-1.5zM307.9 303.6h1.5v1.5h-1.5zM192.0 235.3h1.5v1.5h-1.5zM172.1 230.1h1.5v1.5h-1.5zM158.7 214.8h1.5v1.5h-1.5zM153.9 288.1h1.5v1.5h-1.5zM160.1 240.9h1.5v1.5h-1.5zM156.7 210.1h1.5v1.5h-1.5zM176.7 252.6h1.5v1.5h-1.5zM154.1 287.8h1.5v1.5h-1.5zM162.4 264.6h1.5v1.5h-1.5zM164.5 277.3h1.5v1.5h-1.5zM178.8 281.4h1.5v1.5h-1.5zM165.9 259.8h1.5v1.5h-1.5zM158.6 261.3h1.5v1.5h-1.5zM155.1 242.3h1.5v1.5h-1.5zM159.8 249.7h1.5v1.5h-1.5z"/>
<path fill="#c50624" d="M229.6 302.5h1.5v1.5h-1.5zM195.0 305.8h1.5v1.5h-1.5zM215.4 265.8h1.5v1.5h-1.5zM201.6 277.3h1.5v1.5h-1.5zM200.4 288.5h1.5v1.5h-1.5zM191.3 307.3h1.5v1.5h-1.5zM187.6 281.5h1.5v1.5h-1.5zM236.4 310.2h1.5v1.5h-1.5zM182.4 304.7h1.5v1.5h-1.5zM230.5 308.8h1.5v1.5h-1.5zM211.8 283.6h1.5v1.5h-1.5zM192.2 305.9h1.5v1.5h-1.5zM190.5 255.1h1.5v1.5h-1.5zM249.5 294.9h1.5v1.5h-1.5zM191.2 293.6h1.5v1.5h-1.5zM201.9 263.4h1.5v1.5h-1.5zM209.1 258.2h1.5v1.5h-1.5zM226.9 301.1h1.5v1.5h-1.5zM289.9 297.7h1.5v1.5h-1.5zM182.1 240.7h1.5v1.5h-1.5zM198.1 292.1h1.5v1.5h-1.5zM244.8 290.0h1.5v1.5h-1.5zM198.7 304.8h1.5v1.5h-1.5zM190.5 275.3h1.5v1.5h-1.5zM196.5 299.4h1.5v1.5h-1.5zM240.9 291.2h1.5v1.5h-1.5zM219.3 244.0h1.5v1.5h-1.5zM160.0 130.1h1.5v1.5h-1.5zM165.6 178.6h1.5v1.5h-1.5zM165.6 247.5h1.5v1.5h-1.5zM185.3 280.1h1.5v1.5h-1.5zM177.0 273.5h1.5v1.5h-1.5zM200.2 292.9h1.5v1.5h-1.5zM155.7 261.6h1.5v1.5h-1.5zM256.9 276.8h1.5v1.5h-1.5zM237.6 306.4h1.5v1.5h-1.5zM183.6 295.1h1.5v1.5h-1.5zM198.4 278.7h1.5v1.5h-1.5zM218.2 286.8h1.5v1.5h-1.5zM209.3 279.0h1.5v1.5h-1.5zM164.4 226.2h1.5v1.5h-1.5zM164.0 252.2h1.5v1.5h-1.5zM156.6 259.4h1.5v1.5h-1.5zM164.6 249.9h1.5v1.5h-1.5zM154.4 270.6h1.5v1.5h-1.5zM178.5 291.8h1.5v1.5h-1.5zM165.1 146.8h1.5v1.5h-1.5zM166.1 232.5h1.5v1.5h-1.5zM168.9 241.6h1.5v1.5h-1.5zM158.9 134.4h1.5v1.5h-1.5zM162.3 247.6h1.5v1.5h-1.5zM174.3 240.4h1.5v1.5h-1.5z"/>
<path fill="#d00d21" d="M231.7 297.8h1.5v1.5h-1.5zM242.8 287.4h1.5v1.5h-1.5zM167.0 249.7h1.5v1.5h-1.5zM247.7 304.0h1.5v1.5h-1.5zM200.7 299.6h1.5v1.5h-1.5zM180.2 294.7h1.5v1.5h-1.5zM156.2 226.4h1.5v1.5h-1.5zM157.7 266.1h1.5v1.5h-1.5zM188.6 304.1h1.5v1.5h-1.5zM209.7 299.3h1.5v1.5h-1.5zM188.8 292.4h1.5v1.5h-1.5zM200.5 239.2h1.5v1.5h-1.5zM210.7 281.2h1.5v1.5h-1.5zM188.4 248.3h1.5v1.5h-1.5zM185.9 266.2h1.5v1.5h-1.5zM199.2 258.5h1.5v1.5h-1.5zM207.8 308.1h1.5v1.5h-1.5zM201.6 271.1h1.5v1.5h-1.5zM353.8 310.5h1.5v1.5h-1.5zM176.5 290.7h1.5v1.5h-1.5zM196.4 291.8h1.5v1.5h-1.5zM217.0 305.0h1.5v1.5h-1.5zM222.8 276.3h1.5v1.5h-1.5zM215.6 271.5h1.5v1.5h-1.5zM209.0 309.8h1.5v1.5h-1.5zM165.7 224.6h1.5v1.5h-1.5zM154.1 273.6h1.5v1.5h-1.5zM169.1 284.6h1.5v1.5h-1.5zM155.8 273.4h1.5v1.5h-1.5zM160.9 268.4h1.5v1.5h-1.5zM186.3 304.2h1.5v1.5h-1.5zM168.5 228.6h1.5v1.5h-1.5zM162.2 238.5h1.5v1.5h-1.5zM155.5 285.2h1.5v1.5h-1.5zM158.0 244.9h1.5v1.5h-1.5z"/>
<path fill="#b00026" d="M205.8 297.8h1.5v1.5h-1.5zM187.6 302.2h1.5v1.5h-1.5zM189.3 260.2h1.5v1.5h-1.5zM202.7 303.5h1.5v1.5h-1.5zM201.9 301.2h1.5v1.5h-1.5zM178.3 297.4h1.5v1.5h-1.5zM185.1 286.2h1.5v1.5h-1.5zM260.6 302.2h1.5v1.5h-1.5zM197.4 277.5h1.5v1.5h-1.5zM187.5 279.9h1.5v1.5h-1.5zM202.0 303.8h1.5v1.5h-1.5zM167.2 263.7h1.5v1.5h-1.5z"/>
<path fill="#fd953f" d="M177.1 284.9h1.5v1.5h-1.5zM157.6 272.4h1.5v1.5h-1.5zM155.4 179.6h1.5v1.5h-1.5zM187.7 213.2h1.5v1.5h-1.5zM185.6 166.0h1.5v1.5h-1.5zM173.5 233.9h1.5v1.5h-1.5zM188.0 290.1h1.5v1.5h-1.5zM177.8 237.6h1.5v1.5h-1.5zM153.4 263.0h1.5v1.5h-1.5zM152.8 221.6h1.5v1.5h-1.5zM164.0 294.1h1.5v1.5h-1.5zM152.9 93.3h1.5v1.5h-1.5zM167.6 246.5h1.5v1.5h-1.5zM181.5 292.0h1.5v1.5h-1.5zM177.8 288.2h1.5v1.5h-1.5zM170.3 237.3h1.5v1.5h-1.5zM174.0 241.3h1.5v1.5h-1.5zM175.9 267.0h1.5v1.5h-1.5zM171.4 253.4h1.5v1.5h-1.5zM166.3 287.2h1.5v1.5h-1.5zM185.7 306.8h1.5v1.5h-1.5zM183.6 290.3h1.5v1.5h-1.5zM167.7 246.2h1.5v1.5h-1.5zM175.2 248.0h1.5v1.5h-1.5zM169.8 260.5h1.5v1.5h-1.5zM176.7 269.2h1.5v1.5h-1.5zM172.6 263.5h1.5v1.5h-1.5zM168.7 234.6h1.5v1.5h-1.5zM182.2 304.2h1.5v1.5h-1.5zM184.1 287.6h1.5v1.5h-1.5zM176.8 278.1h1.5v1.5h-1.5zM172.0 232.4h1.5v1.5h-1.5zM174.1 285.8h1.5v1.5h-1.5zM181.3 289.1h1.5v1.5h-1.5zM161.6 252.2h1.5v1.5h-1.5zM162.0 184.1h1.5v1.5h-1.5zM167.1 179.7h1.5v1.5h-1.5zM178.7 301.6h1.5v1.5h-1.5zM161.4 239.1h1.5v1.5h-1.5zM177.3 271.8h1.5v1.5h-1.5zM157.4 198.3h1.5v1.5h-1.5zM164.0 232.0h1.5v1.5h-1.5zM173.4 246.6h1.5v1.5h-1.5zM182.9 277.3h1.5v1.5h-1.5z"/>
<path fill="#fd9f44" d="M153.3 273.8h1.5v1.5h-1.5zM155.8 261.0h1.5v1.5h-1.5zM178.7 285.4h1.5v1.5h-1.5zM181.0 294.4h1.5v1.5h-1.5zM153.1 111.1h1.5v1.5h-1.5zM177.7 253.4h1.5v1.5h-1.5zM164.9 293.3h1.5v1.5h-1.5zM165.1 251.8h1.5v1.5h-1.5zM168.9 213.7h1.5v1.5h-1.5zM175.2 240.1h1.5v1.5h-1.5zM167.6 204.4h1.5v1.5h-1.5zM190.8 304.5h1.5v1.5h-1.5zM162.8 222.1h1.5v1.5h-1.5zM217.5 291.4h1.5v1.5h-1.5zM164.8 226.9h1.5v1.5h-1.5zM161.9 272.8h1.5v1.5h-1.5zM186.7 299.9h1.5v1.5h-1.5zM168.6 241.3h1.5v1.5h-1.5zM179.8 271.9h1.5v1.5h-1.5zM165.9 256.1h1.5v1.5h-1.5zM172.7 237.4h1.5v1.5h-1.5zM174.9 244.5h1.5v1.5h-1.5zM181.6 286.8h1.5v1.5h-1.5zM163.8 288.8h1.5v1.5h-1.5zM183.3 286.7h1.5v1.5h-1.5zM165.4 263.1h1.5v1.5h-1.5zM187.6 285.1h1.5v1.5h-1.5zM182.0 272.6h1.5v1.5h-1.5zM171.2 189.6h1.5v1.5h-1.5zM170.3 221.3h1.5v1.5h-1.5zM173.5 251.1h1.5v1.5h-1.5zM168.2 245.0h1.5v1.5h-1.5zM166.1 237.6h1.5v1.5h-1.5zM168.0 291.9h1.5v1.5h-1.5zM166.4 274.6h1.5v1.5h-1.5zM167.6 285.4h1.5v1.5h-1.5zM186.2 299.0h1.5v1.5h-1.5zM169.9 280.2h1.5v1.5h-1.5zM172.6 213.8h1.5v1.5h-1.5zM190.2 306.1h1.5v1.5h-1.5zM162.4 226.9h1.5v1.5h-1.5zM184.9 296.8h1.5v1.5h-1.5zM154.4 209.8h1.5v1.5h-1.5zM181.5 269.3h1.5v1.5h-1.5z"/>
<path fill="#fea446" d="M152.9 204.6h1.5v1.5h-1.5zM152.8 255.0h1.5v1.5h-1.5zM167.7 295.6h1.5v1.5h-1.5zM177.2 276.3h1.5v1.5h-1.5zM170.5 234.7h1.5v1.5h-1.5zM190.8 301.7h1.5v1.5h-1.5zM152.9 253.0h1.5v1.5h-1.5zM158.8 287.4h1.5v1.5h-1.5zM153.7 129.5h1.5v1.5h-1.5zM153.3 177.5h1.5v1.5h-1.5zM153.2 189.4h1.5v1.5h-1.5zM175.8 289.9h1.5v1.5h-1.5zM160.4 282.7h1.5v1.5h-1.5zM164.8 280.1h1.5v1.5h-1.5zM162.0 280.6h1.5v1.5h-1.5zM179.7 289.0h1.5v1.5h-1.5zM173.4 287.6h1.5v1.5h-1.5zM161.0 227.9h1.5v1.5h-1.5zM164.0 231.6h1.5v1.5h-1.5zM165.0 284.1h1.5v1.5h-1.5zM155.0 257.4h1.5v1.5h-1.5zM175.8 278.3h1.5v1.5h-1.5zM152.6 84.7h1.5v1.5h-1.5zM179.3 293.5h1.5v1.5h-1.5zM153.0 261.4h1.5v1.5h-1.5zM178.1 299.4h1.5v1.5h-1.5zM183.8 291.5h1.5v1.5h-1.5zM187.4 299.7h1.5v1.5h-1.5zM176.3 290.2h1.5v1.5h-1.5zM179.5 273.1h1.5v1.5h-1.5zM173.7 276.7h1.5v1.5h-1.5zM171.2 259.4h1.5v1.5h-1.5zM182.5 288.1h1.5v1.5h-1.5zM184.2 283.7h1.5v1.5h-1.5zM168.6 278.6h1.5v1.5h-1.5zM161.3 227.2h1.5v1.5h-1.5zM179.7 296.2h1.5v1.5h-1.5zM169.5 254.7h1.5v1.5h-1.5zM176.4 245.0h1.5v1.5h-1.5zM169.1 237.9h1.5v1.5h-1.5zM172.4 280.7h1.5v1.5h-1.5zM179.0 241.8h1.5v1.5h-1.5zM182.7 279.0h1.5v1.5h-1.5zM178.0 294.1h1.5v1.5h-1.5zM172.8 247.3h1.5v1.5h-1.5zM173.5 285.0h1.5v1.5h-1.5zM166.6 213.6h1.5v1.5h-1.5zM160.3 230.8h1.5v1.5h-1.5zM176.0 219.5h1.5v1.5h-1.5zM162.8 174.7h1.5v1.5h-1.5z"/>
<path fill="#fd7e38" d="M155.9 176.6h1.5v1.5h-1.5zM189.1 289.8h1.5v1.5h-1.5zM154.9 273.5h1.5v1.5h-1.5zM177.1 279.2h1.5v1.5h-1.5zM171.3 261.5h1.5v1.5h-1.5zM178.6 266.7h1.5v1.5h-1.5zM152.9 290.4h1.5v1.5h-1.5zM152.7 60.7h1.5v1.5h-1.5zM176.4 267.8h1.5v1.5h-1.5zM173.6 276.1h1.5v1.5h-1.5zM177.3 270.3h1.5v1.5h-1.5zM157.7 173.6h1.5v1.5h-1.5zM171.7 265.9h1.5v1.5h-1.5zM176.2 284.4h1.5v1.5h-1.5zM171.3 265.2h1.5v1.5h-1.5zM169.1 251.8h1.5v1.5h-1.5zM169.8 241.3h1.5v1.5h-1.5zM176.3 269.8h1.5v1.5h-1.5zM163.5 204.9h1.5v1.5h-1.5zM166.4 265.6h1.5v1.5h-1.5zM180.6 299.6h1.5v1.5h-1.5zM169.2 187.7h1.5v1.5h-1.5zM176.2 286.5h1.5v1.5h-1.5zM184.2 293.8h1.5v1.5h-1.5zM175.2 279.0h1.5v1.5h-1.5zM178.5 292.2h1.5v1.5h-1.5zM188.4 286.6h1.5v1.5h-1.5zM179.2 298.7h1.5v1.5h-1.5z"/>
<path fill="#e1191d" d="M214.9 310.2h1.5v1.5h-1.5zM232.3 273.5h1.5v1.5h-1.5zM189.5 292.0h1.5v1.5h-1.5zM174.8 221.6h1.5v1.5h-1.5zM165.4 260.0h1.5v1.5h-1.5zM178.7 243.6h1.5v1.5h-1.5zM189.6 301.1h1.5v1.5h-1.5zM205.2 273.2h1.5v1.5h-1.5zM157.4 276.7h1.5v1.5h-1.5zM152.8 275.3h1.5v1.5h-1.5zM186.3 261.8h1.5v1.5h-1.5zM155.2 205.7h1.5v1.5h-1.5zM249.5 301.9h1.5v1.5h-1.5zM154.8 231.8h1.5v1.5h-1.5zM163.0 237.3h1.5v1.5h-1.5zM202.0 265.8h1.5v1.5h-1.5zM154.3 232.3h1.5v1.5h-1.5zM153.5 97.8h1.5v1.5h-1.5zM160.0 279.5h1.5v1.5h-1.5zM225.2 304.5h1.5v1.5h-1.5zM183.3 266.6h1.5v1.5h-1.5zM210.7 242.1h1.5v1.5h-1.5zM183.8 273.2h1.5v1.5h-1.5zM152.7 231.9h1.5v1.5h-1.5zM156.5 247.8h1.5v1.5h-1.5zM186.4 203.3h1.5v1.5h-1.5zM165.6 281.4h1.5v1.5h-1.5zM155.0 285.6h1.5v1.5h-1.5zM169.0 271.7h1.5v1.5h-1.5zM158.7 272.1h1.5v1.5h-1.5zM168.1 259.5h1.5v1.5h-1.5zM185.8 254.3h1.5v1.5h-1.5zM183.9 299.8h1.5v1.5h-1.5zM154.6 274.4h1.5v1.5h-1.5zM178.7 297.4h1.5v1.5h-1.5zM163.9 280.7h1.5v1.5h-1.5zM161.9 271.0h1.5v1.5h-1.5zM180.4 247.8h1.5v1.5h-1.5zM164.9 291.7h1.5v1.5h-1.5zM191.1 287.2h1.5v1.5h-1.5zM157.0 134.6h1.5v1.5h-1.5zM161.4 296.1h1.5v1.5h-1.5zM177.1 257.4h1.5v1.5h-1.5zM164.7 245.6h1.5v1.5h-1.5zM157.0 262.8h1.5v1.5h-1.5zM159.1 254.9h1.5v1.5h-1.5zM178.1 276.2h1.5v1.5h-1.5zM188.9 294.5h1.5v1.5h-1.5zM162.9 250.2h1.5v1.5h-1.5zM153.7 252.4h1.5v1.5h-1.5zM165.2 143.0h1.5v1.5h-1.5zM161.2 254.5h1.5v1.5h-1.5z"/>
<path fill="#fc5b2e" d="M158.3 267.1h1.5v1.5h-1.5zM152.6 68.5h1.5v1.5h-1.5zM165.2 223.5h1.5v1.5h-1.5zM174.5 282.6h1.5v1.5h-1.5zM193.8 250.3h1.5v1.5h-1.5zM172.9 274.8h1.5v1.5h-1.5zM152.7 243.1h1.5v1.5h-1.5zM178.1 289.2h1.5v1.5h-1.5zM171.1 185.7h1.5v1.5h-1.5zM173.2 259.6h1.5v1.5h-1.5zM170.1 282.0h1.5v1.5h-1.5zM184.5 280.6h1.5v1.5h-1.5zM176.5 249.8h1.5v1.5h-1.5zM174.7 277.0h1.5v1.5h-1.5zM178.7 296.9h1.5v1.5h-1.5z"/>
<path fill="#feb953" d="M152.7 136.7h1.5v1.5h-1.5zM153.0 257.5h1.5v1.5h-1.5zM171.4 227.4h1.5v1.5h-1.5zM153.0 258.1h1.5v1.5h-1.5zM171.7 285.6h1.5v1.5h-1.5zM165.2 178.0h1.5v1.5h-1.5zM175.4 281.0h1.5v1.5h-1.5zM185.2 294.2h1.5v1.5h-1.5zM164.4 243.8h1.5v1.5h-1.5zM169.3 293.2h1.5v1.5h-1.5zM173.5 196.9h1.5v1.5h-1.5zM188.0 297.9h1.5v1.5h-1.5zM184.6 288.3h1.5v1.5h-1.5zM167.7 221.6h1.5v1.5h-1.5zM166.7 220.1h1.5v1.5h-1.5zM175.6 255.2h1.5v1.5h-1.5zM164.4 252.8h1.5v1.5h-1.5zM170.0 232.5h1.5v1.5h-1.5zM170.8 263.9h1.5v1.5h-1.5zM162.4 233.1h1.5v1.5h-1.5zM175.5 283.0h1.5v1.5h-1.5zM180.4 293.3h1.5v1.5h-1.5zM179.6 285.0h1.5v1.5h-1.5zM177.9 292.8h1.5v1.5h-1.5zM174.6 278.0h1.5v1.5h-1.5zM179.1 275.5h1.5v1.5h-1.5zM179.7 291.5h1.5v1.5h-1.5zM171.1 234.6h1.5v1.5h-1.5zM168.9 202.0h1.5v1.5h-1.5zM165.8 238.5h1.5v1.5h-1.5zM169.2 233.6h1.5v1.5h-1.5zM165.1 264.8h1.5v1.5h-1.5zM168.6 248.0h1.5v1.5h-1.5zM166.8 243.9h1.5v1.5h-1.5z"/>
<path fill="#f33b25" d="M217.0 252.5h1.5v1.5h-1.5zM230.7 281.4h1.5v1.5h-1.5zM174.9 187.1h1.5v1.5h-1.5zM154.8 208.4h1.5v1.5h-1.5zM196.8 255.7h1.5v1.5h-1.5zM153.1 186.4h1.5v1.5h-1.5zM169.0 213.8h1.5v1.5h-1.5zM156.4 264.2h1.5v1.5h-1.5zM175.5 243.0h1.5v1.5h-1.5zM156.8 266.6h1.5v1.5h-1.5zM169.6 290.9h1.5v1.5h-1.5zM165.7 250.6h1.5v1.5h-1.5zM157.3 265.2h1.5v1.5h-1.5zM157.1 269.4h1.5v1.5h-1.5zM160.2 166.2h1.5v1.5h-1.5zM165.2 244.3h1.5v1.5h-1.5zM155.9 241.9h1.5v1.5h-1.5zM157.9 181.8h1.5v1.5h-1.5zM163.8 288.3h1.5v1.5h-1.5zM164.7 280.6h1.5v1.5h-1.5zM161.0 242.0h1.5v1.5h-1.5z"/>
<path fill="#b90026" d="M192.4 282.0h1.5v1.5h-1.5zM187.5 285.1h1.5v1.5h-1.5zM176.9 280.0h1.5v1.5h-1.5zM180.3 293.9h1.5v1.5h-1.5zM152.7 148.8h1.5v1.5h-1.5zM245.1 302.9h1.5v1.5h-1.5zM220.8 294.7h1.5v1.5h-1.5zM192.7 288.7h1.5v1.5h-1.5zM208.8 272.7h1.5v1.5h-1.5zM190.3 282.3h1.5v1.5h-1.5zM197.9 288.5h1.5v1.5h-1.5zM160.7 260.7h1.5v1.5h-1.5zM185.1 274.0h1.5v1.5h-1.5zM196.1 269.5h1.5v1.5h-1.5zM183.1 249.8h1.5v1.5h-1.5zM196.2 292.7h1.5v1.5h-1.5zM214.2 260.2h1.5v1.5h-1.5zM183.7 285.1h1.5v1.5h-1.5zM225.8 284.7h1.5v1.5h-1.5zM185.2 262.7h1.5v1.5h-1.5zM198.0 277.4h1.5v1.5h-1.5zM175.1 221.1h1.5v1.5h-1.5zM153.5 270.2h1.5v1.5h-1.5zM155.8 261.8h1.5v1.5h-1.5zM167.9 273.4h1.5v1.5h-1.5zM181.1 281.2h1.5v1.5h-1.5z"/>
<path fill="#fd7636" d="M186.9 298.0h1.5v1.5h-1.5zM152.8 165.8h1.5v1.5h-1.5zM186.0 294.3h1.5v1.5h-1.5zM164.2 268.7h1.5v1.5h-1.5zM153.9 250.1h1.5v1.5h-1.5zM152.8 245.9h1.5v1.5h-1.5zM152.8 54.5h1.5v1.5h-1.5zM162.3 207.4h1.5v1.5h-1.5zM177.4 271.3h1.5v1.5h-1.5zM167.1 280.0h1.5v1.5h-1.5zM180.7 288.2h1.5v1.5h-1.5zM187.7 288.2h1.5v1.5h-1.5zM180.9 277.9h1.5v1.5h-1.5zM164.3 283.3h1.5v1.5h-1.5zM180.8 299.3h1.5v1.5h-1.5zM162.5 222.7h1.5v1.5h-1.5zM182.2 303.2h1.5v1.5h-1.5zM159.6 229.7h1.5v1.5h-1.5zM175.3 269.1h1.5v1.5h-1.5zM183.6 291.0h1.5v1.5h-1.5zM167.5 290.5h1.5v1.5h-1.5zM160.6 259.8h1.5v1.5h-1.5z"/>
<path fill="#e9261f" d="M152.8 147.8h1.5v1.5h-1.5zM220.3 298.6h1.5v1.5h-1.5zM162.3 191.5h1.5v1.5h-1.5zM166.7 205.8h1.5v1.5h-1.5zM189.8 283.3h1.5v1.5h-1.5zM208.0 271.9h1.5v1.5h-1.5zM218.3 275.2h1.5v1.5h-1.5zM194.8 307.7h1.5v1.5h-1.5zM152.7 213.7h1.5v1.5h-1.5zM183.3 172.1h1.5v1.5h-1.5zM178.2 259.6h1.5v1.5h-1.5zM152.7 254.8h1.5v1.5h-1.5zM156.3 260.5h1.5v1.5h-1.5zM169.8 164.6h1.5v1.5h-1.5zM206.6 287.5h1.5v1.5h-1.5zM180.1 291.1h1.5v1.5h-1.5zM154.3 233.1h1.5v1.5h-1.5zM163.7 244.1h1.5v1.5h-1.5zM162.7 270.8h1.5v1.5h-1.5zM155.5 263.4h1.5v1.5h-1.5zM152.8 264.4h1.5v1.5h-1.5zM164.4 263.1h1.5v1.5h-1.5zM235.4 174.2h1.5v1.5h-1.5zM163.1 198.5h1.5v1.5h-1.5zM155.8 207.9h1.5v1.5h-1.5zM177.4 266.4h1.5v1.5h-1.5zM177.1 302.2h1.5v1.5h-1.5zM179.5 254.2h1.5v1.5h-1.5zM157.4 289.9h1.5v1.5h-1.5zM160.4 270.3h1.5v1.5h-1.5zM158.2 294.8h1.5v1.5h-1.5zM161.7 267.0h1.5v1.5h-1.5zM154.9 188.0h1.5v1.5h-1.5zM162.0 179.5h1.5v1.5h-1.5zM168.5 237.2h1.5v1.5h-1.5zM163.7 283.3h1.5v1.5h-1.5zM157.3 248.0h1.5v1.5h-1.5zM173.9 296.0h1.5v1.5h-1.5zM161.9 270.0h1.5v1.5h-1.5z"/>
<path fill="#9f0026" d="M199.0 289.9h1.5v1.5h-1.5zM175.8 298.2h1.5v1.5h-1.5zM264.6 275.9h1.5v1.5h-1.5zM180.8 258.2h1.5v1.5h-1.5zM223.1 274.1h1.5v1.5h-1.5zM169.3 187.6h1.5v1.5h-1.5zM169.3 248.9h1.5v1.5h-1.5zM156.4 189.3h1.5v1.5h-1.5z"/>
<path fill="#db141e" d="M179.6 266.4h1.5v1.5h-1.5zM211.4 279.5h1.5v1.5h-1.5zM186.5 251.4h1.5v1.5h-1.5zM170.3 260.2h1.5v1.5h-1.5zM181.0 292.6h1.5v1.5h-1.5zM186.7 276.8h1.5v1.5h-1.5zM162.0 288.5h1.5v1.5h-1.5zM194.1 297.5h1.5v1.5h-1.5zM176.8 174.8h1.5v1.5h-1.5zM230.6 254.8h1.5v1.5h-1.5zM209.9 292.5h1.5v1.5h-1.5zM176.2 266.7h1.5v1.5h-1.5zM266.3 295.7h1.5v1.5h-1.5zM163.6 295.1h1.5v1.5h-1.5zM184.4 276.2h1.5v1.5h-1.5zM183.6 280.6h1.5v1.5h-1.5zM224.1 294.5h1.5v1.5h-1.5zM192.0 249.5h1.5v1.5h-1.5zM152.7 166.5h1.5v1.5h-1.5zM180.3 236.3h1.5v1.5h-1.5zM161.5 167.2h1.5v1.5h-1.5zM162.6 294.9h1.5v1.5h-1.5zM187.8 284.4h1.5v1.5h-1.5zM199.4 299.2h1.5v1.5h-1.5zM187.0 302.1h1.5v1.5h-1.5zM155.2 204.4h1.5v1.5h-1.5zM157.5 185.0h1.5v1.5h-1.5zM172.4 231.7h1.5v1.5h-1.5zM156.6 263.0h1.5v1.5h-1.5zM153.9 270.7h1.5v1.5h-1.5zM165.2 264.8h1.5v1.5h-1.5zM187.1 293.5h1.5v1.5h-1.5zM154.6 221.7h1.5v1.5h-1.5zM164.8 247.3h1.5v1.5h-1.5zM183.6 278.1h1.5v1.5h-1.5zM160.4 277.2h1.5v1.5h-1.5zM155.5 244.7h1.5v1.5h-1.5zM154.0 244.5h1.5v1.5h-1.5zM172.5 263.0h1.5v1.5h-1.5zM160.5 261.5h1.5v1.5h-1.5zM180.2 262.6h1.5v1.5h-1.5zM168.7 270.9h1.5v1.5h-1.5zM181.6 291.8h1.5v1.5h-1.5zM157.8 222.4h1.5v1.5h-1.5zM161.3 159.5h1.5v1.5h-1.5zM170.3 251.1h1.5v1.5h-1.5zM171.9 261.5h1.5v1.5h-1.5zM158.4 260.1h1.5v1.5h-1.5zM156.6 172.9h1.5v1.5h-1.5zM156.6 182.0h1.5v1.5h-1.5zM157.6 263.4h1.5v1.5h-1.5zM155.7 202.9h1.5v1.5h-1.5z"/>
<path fill="#feb44e" d="M152.9 133.9h1.5v1.5h-1.5zM153.0 140.3h1.5v1.5h-1.5zM164.3 243.9h1.5v1.5h-1.5zM152.9 93.1h1.5v1.5h-1.5zM182.9 291.3h1.5v1.5h-1.5zM176.9 284.9h1.5v1.5h-1.5zM153.0 282.7h1.5v1.5h-1.5zM152.9 287.1h1.5v1.5h-1.5zM177.1 275.3h1.5v1.5h-1.5zM183.7 286.3h1.5v1.5h-1.5zM164.1 129.0h1.5v1.5h-1.5zM153.5 169.9h1.5v1.5h-1.5zM165.3 289.6h1.5v1.5h-1.5zM183.4 251.7h1.5v1.5h-1.5zM166.4 246.2h1.5v1.5h-1.5zM185.9 304.9h1.5v1.5h-1.5zM177.9 270.0h1.5v1.5h-1.5zM161.0 243.2h1.5v1.5h-1.5zM179.6 280.9h1.5v1.5h-1.5zM168.4 261.8h1.5v1.5h-1.5zM164.6 238.7h1.5v1.5h-1.5zM175.2 270.9h1.5v1.5h-1.5zM176.2 244.9h1.5v1.5h-1.5zM168.5 261.0h1.5v1.5h-1.5zM183.8 279.8h1.5v1.5h-1.5zM169.1 263.1h1.5v1.5h-1.5zM168.2 188.6h1.5v1.5h-1.5zM160.7 269.2h1.5v1.5h-1.5zM184.7 289.1h1.5v1.5h-1.5zM169.9 271.2h1.5v1.5h-1.5zM171.1 239.0h1.5v1.5h-1.5zM164.1 273.4h1.5v1.5h-1.5zM169.5 246.7h1.5v1.5h-1.5zM166.0 184.9h1.5v1.5h-1.5zM175.0 241.4h1.5v1.5h-1.5zM176.9 281.7h1.5v1.5h-1.5z"/>
<path fill="#feca66" d="M152.9 277.7h1.5v1.5h-1.5zM153.2 208.4h1.5v1.5h-1.5zM164.3 225.6h1.5v1.5h-1.5zM169.0 233.2h1.5v1.5h-1.5zM177.8 282.1h1.5v1.5h-1.5zM174.3 254.0h1.5v1.5h-1.5zM185.6 291.4h1.5v1.5h-1.5zM164.6 241.2h1.5v1.5h-1.5zM176.7 279.3h1.5v1.5h-1.5zM162.5 241.5h1.5v1.5h-1.5zM177.7 265.6h1.5v1.5h-1.5zM170.7 279.8h1.5v1.5h-1.5zM171.3 253.7h1.5v1.5h-1.5zM180.0 286.9h1.5v1.5h-1.5zM169.2 225.6h1.5v1.5h-1.5zM173.4 242.8h1.5v1.5h-1.5zM178.8 286.1h1.5v1.5h-1.5zM163.5 231.1h1.5v1.5h-1.5zM174.1 287.7h1.5v1.5h-1.5zM168.9 247.8h1.5v1.5h-1.5zM165.6 244.6h1.5v1.5h-1.5zM171.7 264.5h1.5v1.5h-1.5z"/>
<path fill="#febf5a" d="M164.1 265.8h1.5v1.5h-1.5zM194.3 287.6h1.5v1.5h-1.5zM153.6 200.2h1.5v1.5h-1.5zM158.4 201.4h1.5v1.5h-1.5zM164.7 243.8h1.5v1.5h-1.5zM180.2 284.2h1.5v1.5h-1.5zM169.5 212.4h1.5v1.5h-1.5zM167.0 253.7h1.5v1.5h-1.5zM188.7 302.6h1.5v1.5h-1.5zM157.7 243.9h1.5v1.5h-1.5zM169.2 260.4h1.5v1.5h-1.5zM177.0 298.1h1.5v1.5h-1.5zM182.4 289.9h1.5v1.5h-1.5zM162.1 222.7h1.5v1.5h-1.5zM184.4 296.1h1.5v1.5h-1.5zM173.3 271.8h1.5v1.5h-1.5zM188.6 295.7h1.5v1.5h-1.5zM168.4 271.8h1.5v1.5h-1.5z"/>
<path fill="#fd8f3d" d="M160.3 110.5h1.5v1.5h-1.5zM158.5 245.3h1.5v1.5h-1.5zM164.6 258.0h1.5v1.5h-1.5zM177.4 231.1h1.5v1.5h-1.5zM178.5 264.4h1.5v1.5h-1.5zM152.5 63.3h1.5v1.5h-1.5zM180.1 283.6h1.5v1.5h-1.5zM153.5 276.9h1.5v1.5h-1.5zM152.9 117.0h1.5v1.5h-1.5zM175.9 299.8h1.5v1.5h-1.5zM161.3 197.6h1.5v1.5h-1.5zM152.7 192.7h1.5v1.5h-1.5zM153.4 276.3h1.5v1.5h-1.5zM167.7 232.2h1.5v1.5h-1.5zM182.8 273.0h1.5v1.5h-1.5zM173.8 277.6h1.5v1.5h-1.5zM176.8 274.2h1.5v1.5h-1.5zM170.8 293.0h1.5v1.5h-1.5zM164.5 263.2h1.5v1.5h-1.5zM185.1 292.7h1.5v1.5h-1.5zM183.2 280.5h1.5v1.5h-1.5zM167.8 215.0h1.5v1.5h-1.5zM165.2 253.6h1.5v1.5h-1.5zM188.3 303.1h1.5v1.5h-1.5zM176.3 247.2h1.5v1.5h-1.5zM169.4 266.3h1.5v1.5h-1.5zM163.2 267.1h1.5v1.5h-1.5zM180.8 282.6h1.5v1.5h-1.5zM178.3 273.4h1.5v1.5h-1.5zM178.5 295.6h1.5v1.5h-1.5zM173.8 183.8h1.5v1.5h-1.5zM165.0 282.3h1.5v1.5h-1.5zM184.0 287.9h1.5v1.5h-1.5zM195.5 304.3h1.5v1.5h-1.5zM174.4 225.7h1.5v1.5h-1.5zM173.5 259.3h1.5v1.5h-1.5z"/>
<path fill="#d6111f" d="M159.4 256.8h1.5v1.5h-1.5zM153.5 232.0h1.5v1.5h-1.5zM153.5 266.4h1.5v1.5h-1.5zM206.9 291.1h1.5v1.5h-1.5zM254.1 294.4h1.5v1.5h-1.5zM188.4 298.7h1.5v1.5h-1.5zM226.7 284.6h1.5v1.5h-1.5zM207.8 300.6h1.5v1.5h-1.5zM215.3 306.0h1.5v1.5h-1.5zM241.1 290.2h1.5v1.5h-1.5zM161.4 266.2h1.5v1.5h-1.5zM209.5 298.4h1.5v1.5h-1.5zM153.0 254.2h1.5v1.5h-1.5zM198.6 299.5h1.5v1.5h-1.5zM196.1 295.7h1.5v1.5h-1.5zM165.2 236.6h1.5v1.5h-1.5zM183.7 307.0h1.5v1.5h-1.5zM179.8 286.5h1.5v1.5h-1.5zM196.3 279.6h1.5v1.5h-1.5zM153.5 281.6h1.5v1.5h-1.5zM169.8 275.7h1.5v1.5h-1.5zM172.8 273.3h1.5v1.5h-1.5zM159.0 292.6h1.5v1.5h-1.5zM156.2 169.3h1.5v1.5h-1.5zM169.9 292.4h1.5v1.5h-1.5zM161.5 216.5h1.5v1.5h-1.5zM177.4 273.2h1.5v1.5h-1.5zM159.9 232.9h1.5v1.5h-1.5zM162.7 200.9h1.5v1.5h-1.5zM154.4 213.6h1.5v1.5h-1.5zM157.8 276.7h1.5v1.5h-1.5zM162.1 190.5h1.5v1.5h-1.5zM175.1 269.4h1.5v1.5h-1.5zM158.4 259.0h1.5v1.5h-1.5z"/>
<path fill="#fc6430" d="M172.7 287.3h1.5v1.5h-1.5zM173.7 291.0h1.5v1.5h-1.5zM174.1 263.0h1.5v1.5h-1.5zM167.4 245.4h1.5v1.5h-1.5zM170.5 246.2h1.5v1.5h-1.5zM180.2 284.7h1.5v1.5h-1.5zM176.9 279.1h1.5v1.5h-1.5zM184.2 301.7h1.5v1.5h-1.5zM179.9 261.0h1.5v1.5h-1.5zM175.7 271.6h1.5v1.5h-1.5zM165.8 246.0h1.5v1.5h-1.5zM162.5 218.2h1.5v1.5h-1.5zM173.5 276.0h1.5v1.5h-1.5z"/>
<path fill="#fd9941" d="M152.5 80.2h1.5v1.5h-1.5zM174.3 289.8h1.5v1.5h-1.5zM153.2 200.8h1.5v1.5h-1.5zM164.1 282.9h1.5v1.5h-1.5zM160.4 245.0h1.5v1.5h-1.5zM173.8 239.2h1.5v1.5h-1.5zM152.6 107.6h1.5v1.5h-1.5zM153.7 255.6h1.5v1.5h-1.5zM153.2 182.4h1.5v1.5h-1.5zM223.9 224.1h1.5v1.5h-1.5zM152.6 105.3h1.5v1.5h-1.5zM152.7 185.1h1.5v1.5h-1.5zM152.8 133.7h1.5v1.5h-1.5zM165.8 181.3h1.5v1.5h-1.5zM201.3 305.3h1.5v1.5h-1.5zM168.7 136.6h1.5v1.5h-1.5zM175.9 298.5h1.5v1.5h-1.5zM160.9 175.2h1.5v1.5h-1.5zM157.3 271.1h1.5v1.5h-1.5zM166.4 279.4h1.5v1.5h-1.5zM172.8 270.5h1.5v1.5h-1.5zM171.7 280.8h1.5v1.5h-1.5zM160.4 251.5h1.5v1.5h-1.5zM179.8 280.0h1.5v1.5h-1.5zM172.8 225.5h1.5v1.5h-1.5zM170.0 248.2h1.5v1.5h-1.5zM179.7 267.2h1.5v1.5h-1.5zM171.1 253.8h1.5v1.5h-1.5zM178.8 278.8h1.5v1.5h-1.5zM174.7 240.2h1.5v1.5h-1.5zM177.4 272.8h1.5v1.5h-1.5zM174.6 248.4h1.5v1.5h-1.5zM191.3 307.0h1.5v1.5h-1.5zM158.6 284.4h1.5v1.5h-1.5zM175.9 255.0h1.5v1.5h-1.5zM169.1 242.4h1.5v1.5h-1.5zM167.1 289.2h1.5v1.5h-1.5zM158.8 252.3h1.5v1.5h-1.5zM169.4 281.4h1.5v1.5h-1.5zM168.7 247.9h1.5v1.5h-1.5zM158.3 201.7h1.5v1.5h-1.5zM169.2 218.2h1.5v1.5h-1.5zM172.5 261.8h1.5v1.5h-1.5zM168.5 291.3h1.5v1.5h-1.5zM184.0 301.3h1.5v1.5h-1.5zM176.4 278.8h1.5v1.5h-1.5zM177.3 294.3h1.5v1.5h-1.5zM160.2 238.3h1.5v1.5h-1.5zM173.9 224.7h1.5v1.5h-1.5zM175.7 284.0h1.5v1.5h-1.5zM173.9 265.0h1.5v1.5h-1.5zM176.9 284.7h1.5v1.5h-1.5zM175.5 283.5h1.5v1.5h-1.5zM187.7 297.4h1.5v1.5h-1.5zM169.1 233.9h1.5v1.5h-1.5zM184.3 287.5h1.5v1.5h-1.5zM173.2 266.4h1.5v1.5h-1.5z"/>
<path fill="#fea948" d="M171.0 207.0h1.5v1.5h-1.5zM153.7 237.4h1.5v1.5h-1.5zM152.6 205.4h1.5v1.5h-1.5zM152.7 259.8h1.5v1.5h-1.5zM172.0 259.4h1.5v1.5h-1.5zM186.2 296.1h1.5v1.5h-1.5zM180.7 265.7h1.5v1.5h-1.5zM152.9 234.6h1.5v1.5h-1.5zM152.6 154.9h1.5v1.5h-1.5zM167.1 260.5h1.5v1.5h-1.5zM152.9 229.6h1.5v1.5h-1.5zM172.9 242.5h1.5v1.5h-1.5zM153.1 260.0h1.5v1.5h-1.5zM163.0 274.7h1.5v1.5h-1.5zM176.1 266.3h1.5v1.5h-1.5zM167.0 261.1h1.5v1.5h-1.5zM168.6 284.4h1.5v1.5h-1.5zM173.5 287.2h1.5v1.5h-1.5zM177.3 280.9h1.5v1.5h-1.5zM170.3 267.5h1.5v1.5h-1.5zM181.5 297.0h1.5v1.5h-1.5zM182.4 291.0h1.5v1.5h-1.5zM182.5 283.0h1.5v1.5h-1.5zM165.2 268.2h1.5v1.5h-1.5zM179.7 304.1h1.5v1.5h-1.5zM183.0 291.7h1.5v1.5h-1.5zM163.8 198.2h1.5v1.5h-1.5zM182.5 298.4h1.5v1.5h-1.5zM177.5 277.4h1.5v1.5h-1.5zM182.4 301.8h1.5v1.5h-1.5zM177.8 295.9h1.5v1.5h-1.5zM172.1 210.8h1.5v1.5h-1.5zM173.1 263.2h1.5v1.5h-1.5zM177.1 266.8h1.5v1.5h-1.5zM162.7 193.9h1.5v1.5h-1.5zM169.2 257.4h1.5v1.5h-1.5zM191.8 295.5h1.5v1.5h-1.5zM176.2 284.4h1.5v1.5h-1.5zM172.5 287.7h1.5v1.5h-1.5zM182.1 282.0h1.5v1.5h-1.5zM159.5 213.3h1.5v1.5h-1.5zM180.9 282.9h1.5v1.5h-1.5zM185.5 297.3h1.5v1.5h-1.5zM181.6 283.5h1.5v1.5h-1.5zM184.4 292.7h1.5v1.5h-1.5zM182.2 298.9h1.5v1.5h-1.5zM181.8 285.0h1.5v1.5h-1.5zM170.1 228.5h1.5v1.5h-1.5zM185.5 283.4h1.5v1.5h-1.5zM165.9 187.3h1.5v1.5h-1.5zM168.0 246.0h1.5v1.5h-1.5zM185.2 279.2h1.5v1.5h-1.5zM175.2 225.5h1.5v1.5h-1.5zM177.3 295.2h1.5v1.5h-1.5zM190.7 296.7h1.5v1.5h-1.5zM163.7 176.1h1.5v1.5h-1.5zM169.4 237.1h1.5v1.5h-1.5z"/>
<path fill="#f03523" d="M171.9 262.0h1.5v1.5h-1.5zM153.5 130.1h1.5v1.5h-1.5zM168.8 236.5h1.5v1.5h-1.5zM166.2 274.0h1.5v1.5h-1.5zM185.0 221.5h1.5v1.5h-1.5zM218.1 253.7h1.5v1.5h-1.5zM164.8 206.5h1.5v1.5h-1.5zM159.2 295.4h1.5v1.5h-1.5zM162.5 184.7h1.5v1.5h-1.5zM221.3 288.2h1.5v1.5h-1.5zM176.9 271.7h1.5v1.5h-1.5zM175.0 272.2h1.5v1.5h-1.5zM164.4 141.1h1.5v1.5h-1.5zM163.5 228.2h1.5v1.5h-1.5zM160.8 211.3h1.5v1.5h-1.5zM157.2 267.7h1.5v1.5h-1.5zM157.1 260.3h1.5v1.5h-1.5zM164.4 206.6h1.5v1.5h-1.5zM174.9 286.3h1.5v1.5h-1.5zM169.5 240.0h1.5v1.5h-1.5zM171.4 252.4h1.5v1.5h-1.5zM176.8 287.8h1.5v1.5h-1.5zM161.9 244.7h1.5v1.5h-1.5zM162.9 241.9h1.5v1.5h-1.5zM164.8 234.7h1.5v1.5h-1.5z"/>
<path fill="#c00225" d="M179.4 262.8h1.5v1.5h-1.5zM204.0 283.5h1.5v1.5h-1.5zM202.2 285.5h1.5v1.5h-1.5zM255.4 307.5h1.5v1.5h-1.5zM224.6 309.6h1.5v1.5h-1.5zM201.4 285.5h1.5v1.5h-1.5zM183.1 279.7h1.5v1.5h-1.5zM152.8 110.8h1.5v1.5h-1.5zM158.8 277.2h1.5v1.5h-1.5zM234.5 270.6h1.5v1.5h-1.5zM187.1 303.2h1.5v1.5h-1.5zM222.5 296.0h1.5v1.5h-1.5zM226.0 305.4h1.5v1.5h-1.5zM197.9 298.8h1.5v1.5h-1.5zM157.1 257.3h1.5v1.5h-1.5zM179.8 295.0h1.5v1.5h-1.5zM158.3 280.3h1.5v1.5h-1.5zM205.5 267.9h1.5v1.5h-1.5zM216.4 263.6h1.5v1.5h-1.5zM192.6 288.7h1.5v1.5h-1.5zM206.4 295.9h1.5v1.5h-1.5zM154.1 137.5h1.5v1.5h-1.5zM195.7 301.6h1.5v1.5h-1.5zM153.8 274.7h1.5v1.5h-1.5z"/>
<path fill="#fa4a29" d="M173.1 268.3h1.5v1.5h-1.5zM153.0 258.5h1.5v1.5h-1.5zM188.9 291.9h1.5v1.5h-1.5zM154.5 247.6h1.5v1.5h-1.5zM174.0 287.6h1.5v1.5h-1.5zM158.0 219.0h1.5v1.5h-1.5zM160.2 207.0h1.5v1.5h-1.5zM164.9 253.2h1.5v1.5h-1.5zM165.2 260.4h1.5v1.5h-1.5zM164.5 273.1h1.5v1.5h-1.5zM192.6 306.7h1.5v1.5h-1.5zM170.4 253.8h1.5v1.5h-1.5zM156.2 248.2h1.5v1.5h-1.5zM188.2 303.8h1.5v1.5h-1.5zM167.9 264.0h1.5v1.5h-1.5zM165.1 267.1h1.5v1.5h-1.5zM181.5 282.1h1.5v1.5h-1.5zM156.6 162.8h1.5v1.5h-1.5zM180.6 305.4h1.5v1.5h-1.5zM155.3 181.4h1.5v1.5h-1.5z"/>
<path fill="#a80026" d="M192.8 302.1h1.5v1.5h-1.5zM180.8 304.2h1.5v1.5h-1.5zM221.1 300.5h1.5v1.5h-1.5zM192.1 303.4h1.5v1.5h-1.5zM200.2 298.9h1.5v1.5h-1.5zM231.2 286.9h1.5v1.5h-1.5zM186.0 281.7h1.5v1.5h-1.5zM201.2 302.0h1.5v1.5h-1.5zM196.6 275.4h1.5v1.5h-1.5zM184.3 291.6h1.5v1.5h-1.5zM198.2 294.7h1.5v1.5h-1.5zM220.1 269.7h1.5v1.5h-1.5zM237.7 290.9h1.5v1.5h-1.5zM214.8 307.4h1.5v1.5h-1.5zM158.2 193.9h1.5v1.5h-1.5zM157.5 190.5h1.5v1.5h-1.5z"/>
<path fill="#fedd7e" d="M179.0 288.4h1.5v1.5h-1.5zM168.2 238.2h1.5v1.5h-1.5zM187.6 296.8h1.5v1.5h-1.5zM162.8 272.2h1.5v1.5h-1.5zM166.3 253.2h1.5v1.5h-1.5zM172.7 267.3h1.5v1.5h-1.5zM180.6 268.7h1.5v1.5h-1.5zM167.8 239.2h1.5v1.5h-1.5z"/>
<path fill="#970026" d="M211.7 285.2h1.5v1.5h-1.5zM203.7 306.0h1.5v1.5h-1.5zM153.1 276.1h1.5v1.5h-1.5zM176.5 285.6h1.5v1.5h-1.5zM232.3 267.6h1.5v1.5h-1.5zM200.9 257.8h1.5v1.5h-1.5zM170.6 256.5h1.5v1.5h-1.5z"/>
<path fill="#f74327" d="M180.7 298.6h1.5v1.5h-1.5zM154.0 181.6h1.5v1.5h-1.5zM153.3 241.2h1.5v1.5h-1.5zM183.4 276.6h1.5v1.5h-1.5zM169.1 265.0h1.5v1.5h-1.5zM157.4 239.9h1.5v1.5h-1.5zM333.7 281.6h1.5v1.5h-1.5zM163.7 281.3h1.5v1.5h-1.5zM152.8 165.9h1.5v1.5h-1.5zM165.4 161.0h1.5v1.5h-1.5zM167.9 180.6h1.5v1.5h-1.5zM176.3 259.2h1.5v1.5h-1.5zM157.4 277.0h1.5v1.5h-1.5zM165.4 266.2h1.5v1.5h-1.5zM157.1 222.4h1.5v1.5h-1.5zM179.5 263.0h1.5v1.5h-1.5zM192.7 303.8h1.5v1.5h-1.5zM164.1 288.6h1.5v1.5h-1.5zM170.2 244.7h1.5v1.5h-1.5zM161.0 221.0h1.5v1.5h-1.5zM155.5 202.1h1.5v1.5h-1.5zM169.0 226.8h1.5v1.5h-1.5zM185.5 299.4h1.5v1.5h-1.5zM157.7 252.7h1.5v1.5h-1.5zM163.1 202.6h1.5v1.5h-1.5zM162.3 254.8h1.5v1.5h-1.5z"/>
<path fill="#ec2c21" d="M153.5 269.9h1.5v1.5h-1.5zM209.6 274.7h1.5v1.5h-1.5zM163.1 252.0h1.5v1.5h-1.5zM158.4 138.4h1.5v1.5h-1.5zM157.1 245.0h1.5v1.5h-1.5zM163.0 248.0h1.5v1.5h-1.5zM206.1 306.3h1.5v1.5h-1.5zM153.5 175.7h1.5v1.5h-1.5zM152.9 205.3h1.5v1.5h-1.5zM155.1 150.2h1.5v1.5h-1.5zM158.5 214.5h1.5v1.5h-1.5zM161.9 248.9h1.5v1.5h-1.5zM157.5 253.4h1.5v1.5h-1.5zM160.3 240.7h1.5v1.5h-1.5zM190.0 304.8h1.5v1.5h-1.5zM160.2 276.9h1.5v1.5h-1.5zM184.4 284.3h1.5v1.5h-1.5zM165.4 262.5h1.5v1.5h-1.5zM179.2 281.2h1.5v1.5h-1.5zM173.8 274.0h1.5v1.5h-1.5zM157.3 242.4h1.5v1.5h-1.5zM156.3 286.7h1.5v1.5h-1.5zM164.9 208.4h1.5v1.5h-1.5zM186.0 286.8h1.5v1.5h-1.5zM164.9 291.3h1.5v1.5h-1.5zM161.5 287.3h1.5v1.5h-1.5zM159.4 242.2h1.5v1.5h-1.5z"/>
<path fill="#feae4a" d="M157.4 251.3h1.5v1.5h-1.5zM160.4 259.9h1.5v1.5h-1.5zM165.0 247.7h1.5v1.5h-1.5zM178.6 251.2h1.5v1.5h-1.5zM180.3 270.2h1.5v1.5h-1.5zM152.9 182.5h1.5v1.5h-1.5zM171.7 238.0h1.5v1.5h-1.5zM152.5 178.5h1.5v1.5h-1.5zM183.2 291.5h1.5v1.5h-1.5zM152.8 256.1h1.5v1.5h-1.5zM178.3 275.3h1.5v1.5h-1.5zM184.7 303.5h1.5v1.5h-1.5zM186.1 298.1h1.5v1.5h-1.5zM181.9 267.1h1.5v1.5h-1.5zM169.8 283.3h1.5v1.5h-1.5zM168.3 212.6h1.5v1.5h-1.5zM156.5 231.3h1.5v1.5h-1.5zM172.0 248.1h1.5v1.5h-1.5zM179.7 254.7h1.5v1.5h-1.5zM182.8 282.2h1.5v1.5h-1.5zM175.5 272.5h1.5v1.5h-1.5zM168.4 202.7h1.5v1.5h-1.5zM167.7 241.1h1.5v1.5h-1.5zM159.9 271.3h1.5v1.5h-1.5zM169.5 238.9h1.5v1.5h-1.5zM176.8 285.0h1.5v1.5h-1.5zM176.7 249.4h1.5v1.5h-1.5zM179.2 256.8h1.5v1.5h-1.5zM177.9 266.8h1.5v1.5h-1.5zM175.7 242.5h1.5v1.5h-1.5zM179.1 266.9h1.5v1.5h-1.5zM177.3 278.8h1.5v1.5h-1.5zM177.3 265.2h1.5v1.5h-1.5zM172.6 281.9h1.5v1.5h-1.5zM183.5 286.6h1.5v1.5h-1.5zM161.4 220.6h1.5v1.5h-1.5zM185.7 295.6h1.5v1.5h-1.5zM166.4 196.8h1.5v1.5h-1.5zM176.4 294.7h1.5v1.5h-1.5zM171.9 207.8h1.5v1.5h-1.5zM177.7 278.8h1.5v1.5h-1.5zM166.2 297.2h1.5v1.5h-1.5zM165.8 252.1h1.5v1.5h-1.5zM173.8 266.0h1.5v1.5h-1.5z"/>
<path fill="#e51e1d" d="M205.2 257.8h1.5v1.5h-1.5zM153.0 209.4h1.5v1.5h-1.5zM154.5 142.4h1.5v1.5h-1.5zM163.9 278.7h1.5v1.5h-1.5zM163.2 262.6h1.5v1.5h-1.5zM165.2 223.3h1.5v1.5h-1.5zM152.7 205.4h1.5v1.5h-1.5zM180.3 305.2h1.5v1.5h-1.5zM184.8 243.6h1.5v1.5h-1.5zM164.3 233.1h1.5v1.5h-1.5zM164.9 233.3h1.5v1.5h-1.5zM153.4 282.6h1.5v1.5h-1.5zM163.4 206.9h1.5v1.5h-1.5zM165.6 210.2h1.5v1.5h-1.5zM153.0 159.2h1.5v1.5h-1.5zM153.7 143.7h1.5v1.5h-1.5zM278.8 303.0h1.5v1.5h-1.5zM153.3 276.2h1.5v1.5h-1.5zM193.3 271.0h1.5v1.5h-1.5zM152.7 244.2h1.5v1.5h-1.5zM156.3 279.3h1.5v1.5h-1.5zM160.0 204.3h1.5v1.5h-1.5zM188.1 292.1h1.5v1.5h-1.5zM174.8 236.6h1.5v1.5h-1.5zM163.1 296.0h1.5v1.5h-1.5zM162.6 221.7h1.5v1.5h-1.5zM165.6 284.9h1.5v1.5h-1.5zM169.4 271.9h1.5v1.5h-1.5zM183.4 290.4h1.5v1.5h-1.5zM154.4 260.0h1.5v1.5h-1.5zM180.4 259.0h1.5v1.5h-1.5zM153.8 225.3h1.5v1.5h-1.5zM162.4 296.7h1.5v1.5h-1.5zM171.0 256.3h1.5v1.5h-1.5zM156.7 244.7h1.5v1.5h-1.5zM164.7 288.8h1.5v1.5h-1.5zM157.0 201.9h1.5v1.5h-1.5zM157.0 279.2h1.5v1.5h-1.5zM164.0 250.6h1.5v1.5h-1.5zM163.9 241.5h1.5v1.5h-1.5z"/>
<path fill="#fed572" d="M154.2 207.7h1.5v1.5h-1.5zM175.4 253.2h1.5v1.5h-1.5zM153.0 251.4h1.5v1.5h-1.5zM152.8 272.7h1.5v1.5h-1.5zM168.8 274.4h1.5v1.5h-1.5zM152.7 266.1h1.5v1.5h-1.5zM177.1 254.9h1.5v1.5h-1.5zM175.3 262.4h1.5v1.5h-1.5zM192.1 302.9h1.5v1.5h-1.5zM173.2 285.0h1.5v1.5h-1.5zM186.0 299.2h1.5v1.5h-1.5zM183.8 269.1h1.5v1.5h-1.5z"/>
<path fill="#8d0026" d="M186.7 282.3h1.5v1.5h-1.5z"/>
<path fill="#fec45f" d="M165.4 185.1h1.5v1.5h-1.5zM179.8 251.9h1.5v1.5h-1.5zM152.9 222.7h1.5v1.5h-1.5zM152.7 276.5h1.5v1.5h-1.5zM171.0 286.6h1.5v1.5h-1.5zM153.2 233.7h1.5v1.5h-1.5zM191.4 297.6h1.5v1.5h-1.5zM182.1 270.0h1.5v1.5h-1.5zM175.9 275.1h1.5v1.5h-1.5zM180.4 301.6h1.5v1.5h-1.5zM177.5 296.5h1.5v1.5h-1.5zM169.5 262.2h1.5v1.5h-1.5zM175.5 232.9h1.5v1.5h-1.5zM165.6 184.0h1.5v1.5h-1.5zM177.1 285.2h1.5v1.5h-1.5zM173.2 272.1h1.5v1.5h-1.5zM184.7 304.2h1.5v1.5h-1.5zM178.1 262.3h1.5v1.5h-1.5zM171.2 272.2h1.5v1.5h-1.5zM172.7 288.9h1.5v1.5h-1.5zM190.4 300.6h1.5v1.5h-1.5zM181.1 280.2h1.5v1.5h-1.5zM168.6 244.6h1.5v1.5h-1.5zM176.3 262.8h1.5v1.5h-1.5z"/>
<path fill="#fc6c33" d="M152.7 30.2h1.5v1.5h-1.5zM152.7 34.2h1.5v1.5h-1.5zM153.5 215.4h1.5v1.5h-1.5zM152.5 27.4h1.5v1.5h-1.5zM170.6 254.2h1.5v1.5h-1.5zM168.0 209.5h1.5v1.5h-1.5zM174.7 281.8h1.5v1.5h-1.5zM169.0 211.2h1.5v1.5h-1.5zM155.5 252.1h1.5v1.5h-1.5zM192.3 306.5h1.5v1.5h-1.5zM177.6 265.6h1.5v1.5h-1.5zM180.3 293.5h1.5v1.5h-1.5zM167.4 258.7h1.5v1.5h-1.5zM175.9 266.6h1.5v1.5h-1.5zM178.7 266.1h1.5v1.5h-1.5zM182.0 303.2h1.5v1.5h-1.5zM167.2 243.3h1.5v1.5h-1.5zM168.8 183.6h1.5v1.5h-1.5zM176.1 279.0h1.5v1.5h-1.5zM161.4 247.8h1.5v1.5h-1.5zM167.1 245.7h1.5v1.5h-1.5zM178.0 297.9h1.5v1.5h-1.5z"/>
<path fill="#fecf6b" d="M153.4 184.8h1.5v1.5h-1.5zM178.4 279.0h1.5v1.5h-1.5zM180.4 273.0h1.5v1.5h-1.5zM178.5 254.5h1.5v1.5h-1.5zM176.5 258.2h1.5v1.5h-1.5zM179.3 260.2h1.5v1.5h-1.5zM165.1 216.4h1.5v1.5h-1.5zM171.5 236.8h1.5v1.5h-1.5zM192.3 298.4h1.5v1.5h-1.5zM181.1 296.1h1.5v1.5h-1.5z"/>
<path fill="#feda78" d="M165.3 280.1h1.5v1.5h-1.5zM177.3 270.2h1.5v1.5h-1.5zM177.8 276.3h1.5v1.5h-1.5zM186.9 292.2h1.5v1.5h-1.5z"/>
<path fill="#ffe895" d="M174.1 267.7h1.5v1.5h-1.5zM168.3 286.8h1.5v1.5h-1.5zM164.6 244.1h1.5v1.5h-1.5z"/>
<path fill="#ffeb9c" d="M163.2 283.7h1.5v1.5h-1.5zM175.2 274.8h1.5v1.5h-1.5zM159.3 195.7h1.5v1.5h-1.5z"/>
<path fill="#860026" d="M185.3 278.2h1.5v1.5h-1.5zM158.1 247.4h1.5v1.5h-1.5z"/>
<path fill="#fee289" d="M178.4 270.1h1.5v1.5h-1.5zM162.6 225.4h1.5v1.5h-1.5z"/>
<path fill="#fee084" d="M183.1 292.3h1.5v1.5h-1.5zM184.4 293.9h1.5v1.5h-1.5z"/>
</g>
<rect x="137.5" y="3.2" width="361.0" height="330.1" fill="none" stroke="#3a3a3a" stroke-width="0.6"/>
<!-- colorbar -->
<rect x="521.1" y="3.2" width="16.8" height="330.1" fill="url(#cb)" stroke="#3a3a3a" stroke-width="0.4"/>
<line x1="153.4" y1="333.3" x2="153.4" y2="335.7" stroke="#3a3a3a" stroke-width="0.6"/>
<text x="153.7" y="346" text-anchor="middle" class="tk">0</text>
<line x1="206.0" y1="333.3" x2="206.0" y2="335.7" stroke="#3a3a3a" stroke-width="0.6"/>
<text x="206.3" y="346" text-anchor="middle" class="tk">200</text>
<line x1="258.6" y1="333.3" x2="258.6" y2="335.7" stroke="#3a3a3a" stroke-width="0.6"/>
<text x="258.9" y="346" text-anchor="middle" class="tk">400</text>
<line x1="311.3" y1="333.3" x2="311.3" y2="335.7" stroke="#3a3a3a" stroke-width="0.6"/>
<text x="311.6" y="346" text-anchor="middle" class="tk">600</text>
<line x1="363.9" y1="333.3" x2="363.9" y2="335.7" stroke="#3a3a3a" stroke-width="0.6"/>
<text x="364.2" y="346" text-anchor="middle" class="tk">800</text>
<line x1="416.5" y1="333.3" x2="416.5" y2="335.7" stroke="#3a3a3a" stroke-width="0.6"/>
<text x="416.8" y="346" text-anchor="middle" class="tk">1000</text>
<line x1="469.1" y1="333.3" x2="469.1" y2="335.7" stroke="#3a3a3a" stroke-width="0.6"/>
<text x="469.4" y="346" text-anchor="middle" class="tk">1200</text>
<line x1="135.1" y1="325.1" x2="137.5" y2="325.1" stroke="#3a3a3a" stroke-width="0.6"/>
<text x="133.6" y="329.6" text-anchor="end" class="tk">0</text>
<line x1="135.1" y1="253.9" x2="137.5" y2="253.9" stroke="#3a3a3a" stroke-width="0.6"/>
<text x="133.6" y="258.4" text-anchor="end" class="tk">5</text>
<line x1="135.1" y1="182.7" x2="137.5" y2="182.7" stroke="#3a3a3a" stroke-width="0.6"/>
<text x="133.6" y="187.2" text-anchor="end" class="tk">10</text>
<line x1="135.1" y1="111.5" x2="137.5" y2="111.5" stroke="#3a3a3a" stroke-width="0.6"/>
<text x="133.6" y="116.0" text-anchor="end" class="tk">15</text>
<line x1="135.1" y1="40.3" x2="137.5" y2="40.3" stroke="#3a3a3a" stroke-width="0.6"/>
<text x="133.6" y="44.8" text-anchor="end" class="tk">20</text>
<line x1="537.9" y1="281.2" x2="540.3" y2="281.2" stroke="#3a3a3a" stroke-width="0.6"/>
<text x="541.6" y="285.8" class="tk">5</text>
<line x1="537.9" y1="223.0" x2="540.3" y2="223.0" stroke="#3a3a3a" stroke-width="0.6"/>
<text x="541.6" y="227.6" class="tk">10</text>
<line x1="537.9" y1="164.7" x2="540.3" y2="164.7" stroke="#3a3a3a" stroke-width="0.6"/>
<text x="541.6" y="169.3" class="tk">15</text>
<line x1="537.9" y1="106.5" x2="540.3" y2="106.5" stroke="#3a3a3a" stroke-width="0.6"/>
<text x="541.6" y="111.1" class="tk">20</text>
<line x1="537.9" y1="48.3" x2="540.3" y2="48.3" stroke="#3a3a3a" stroke-width="0.6"/>
<text x="541.6" y="52.9" class="tk">25</text>
<text x="317.7" y="359.6" text-anchor="middle" class="lb">Present-Day JJA Monthly Mean Precipitation (mm)</text>
<text transform="translate(113.2,236.6) rotate(-90)" class="lb"><tspan x="0">Present-Day UGC (</tspan><tspan x="115.3" dy="-5" style="font-size:7.2px">∘</tspan><tspan x="122.2" dy="5">C)</tspan></text>
<text transform="translate(562.5,118.4) rotate(90)" class="lb"><tspan x="0">Present </tspan><tspan x="49.6" font-style="italic">T</tspan><tspan x="57.2" dy="2.3" style="font-style:italic;font-size:8.5px">W</tspan><tspan x="74.2" dy="-2.3">(</tspan><tspan x="81.9" dy="-5" style="font-size:7.4px">∘</tspan><tspan x="89.2" dy="5">C)</tspan></text>

<!-- left box -->
<rect x="1.15" y="2.1" width="42.6" height="232.8" class="bx" stroke-width="1.4"/>
<text transform="translate(19,200.6) rotate(-90)" class="sr" style="font-size:14.3px">High potential cooling efficacy</text>
<text transform="translate(35.8,211.2) rotate(-90)" class="sr" style="font-size:14.45px">May need supplemental irrigation</text>
<text transform="translate(21.4,218.6) rotate(-90)" class="ck">✓</text>
<text transform="translate(35.9,223.4) rotate(-90) scale(0.86,0.92)" class="xx">X</text>
<!-- up arrow -->
<path d="M71.7 2.2 L93.3 22.8 L82.3 22.8 L82.3 142 L60.7 142 L60.7 22.8 L50.1 22.8 Z" class="bx" stroke-width="1.4" stroke-linejoin="miter"/>
<text transform="translate(76.7,120.7) rotate(-90)" class="sb" style="font-size:14.4px">Water-limited</text>
<!-- right arrow -->
<path d="M377.2 383.5 L477.6 383.5 L477.6 374.6 L495.8 393 L477.6 411.2 L477.6 402.5 L377.2 402.5 Z" class="bx" stroke-width="1.2" stroke-linejoin="miter"/>
<text x="390.3" y="396.9" class="sb" style="font-size:12.08px">Efficacy-limited</text>
<!-- bottom box -->
<rect x="297.3" y="414.6" width="198.8" height="36.3" class="bx" stroke-width="1.2"/>
<text x="328" y="430.1" class="sr" style="font-size:12.08px">Low potential cooling efficacy</text>
<text x="345.2" y="444.6" class="sr" style="font-size:12.1px">Sufficient precipitation</text>
<text transform="translate(314,430.8) scale(0.74,1)" class="xx">X</text>
<text x="328.3" y="447.5" class="ck">✓</text>
</svg>
</body></html>
